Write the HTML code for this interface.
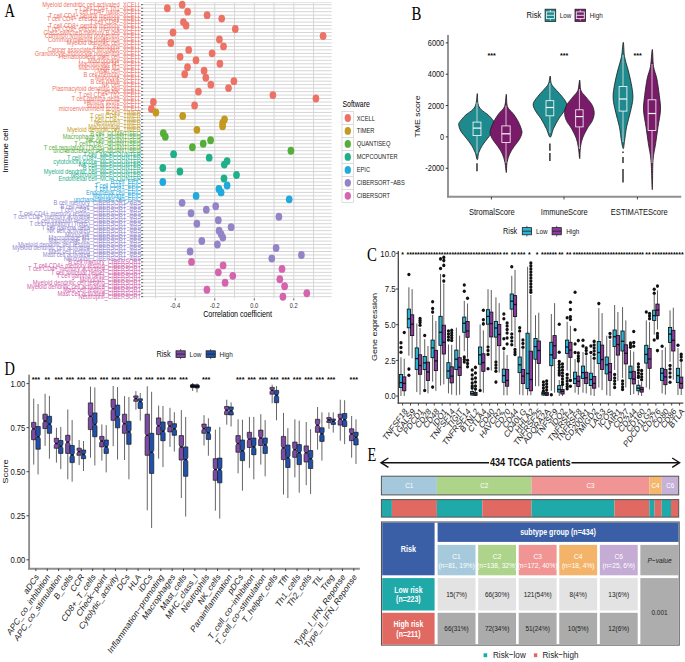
<!DOCTYPE html>
<html><head><meta charset="utf-8"><style>
html,body{margin:0;padding:0;background:#fff;width:685px;height:662px;overflow:hidden}
svg{display:block}
</style></head><body>
<svg width="685" height="662" viewBox="0 0 685 662">
<rect width="685" height="662" fill="#fff"/>
<text transform="translate(4.60,16.80) scale(0.8,1)" font-family="'Liberation Serif', serif" font-size="18" fill="#000" text-anchor="start" font-weight="normal" font-style="normal" >A</text>
<rect x="143.2" y="2.3" width="188.5" height="296.09999999999997" fill="#fff"/>
<line x1="155.50" y1="2.3" x2="155.50" y2="298.4" stroke="#d6d6d6" stroke-width="1"/>
<line x1="175.26" y1="2.3" x2="175.26" y2="298.4" stroke="#d6d6d6" stroke-width="1"/>
<line x1="195.02" y1="2.3" x2="195.02" y2="298.4" stroke="#d6d6d6" stroke-width="1"/>
<line x1="214.78" y1="2.3" x2="214.78" y2="298.4" stroke="#d6d6d6" stroke-width="1"/>
<line x1="234.54" y1="2.3" x2="234.54" y2="298.4" stroke="#d6d6d6" stroke-width="1"/>
<line x1="254.30" y1="2.3" x2="254.30" y2="298.4" stroke="#d6d6d6" stroke-width="1"/>
<line x1="274.06" y1="2.3" x2="274.06" y2="298.4" stroke="#d6d6d6" stroke-width="1"/>
<line x1="293.82" y1="2.3" x2="293.82" y2="298.4" stroke="#d6d6d6" stroke-width="1"/>
<line x1="313.58" y1="2.3" x2="313.58" y2="298.4" stroke="#d6d6d6" stroke-width="1"/>
<line x1="143.2" y1="2.5999999999999996" x2="331.7" y2="2.5999999999999996" stroke="#e4e4e4" stroke-width="1"/>
<line x1="143.2" y1="4.70" x2="331.7" y2="4.70" stroke="#d6d6d6" stroke-width="1"/>
<line x1="143.2" y1="8.18" x2="331.7" y2="8.18" stroke="#d6d6d6" stroke-width="1"/>
<line x1="143.2" y1="11.65" x2="331.7" y2="11.65" stroke="#d6d6d6" stroke-width="1"/>
<line x1="143.2" y1="15.13" x2="331.7" y2="15.13" stroke="#d6d6d6" stroke-width="1"/>
<line x1="143.2" y1="18.60" x2="331.7" y2="18.60" stroke="#d6d6d6" stroke-width="1"/>
<line x1="143.2" y1="22.08" x2="331.7" y2="22.08" stroke="#d6d6d6" stroke-width="1"/>
<line x1="143.2" y1="25.56" x2="331.7" y2="25.56" stroke="#d6d6d6" stroke-width="1"/>
<line x1="143.2" y1="29.03" x2="331.7" y2="29.03" stroke="#d6d6d6" stroke-width="1"/>
<line x1="143.2" y1="32.51" x2="331.7" y2="32.51" stroke="#d6d6d6" stroke-width="1"/>
<line x1="143.2" y1="35.98" x2="331.7" y2="35.98" stroke="#d6d6d6" stroke-width="1"/>
<line x1="143.2" y1="39.46" x2="331.7" y2="39.46" stroke="#d6d6d6" stroke-width="1"/>
<line x1="143.2" y1="42.94" x2="331.7" y2="42.94" stroke="#d6d6d6" stroke-width="1"/>
<line x1="143.2" y1="46.41" x2="331.7" y2="46.41" stroke="#d6d6d6" stroke-width="1"/>
<line x1="143.2" y1="49.89" x2="331.7" y2="49.89" stroke="#d6d6d6" stroke-width="1"/>
<line x1="143.2" y1="53.36" x2="331.7" y2="53.36" stroke="#d6d6d6" stroke-width="1"/>
<line x1="143.2" y1="56.84" x2="331.7" y2="56.84" stroke="#d6d6d6" stroke-width="1"/>
<line x1="143.2" y1="60.32" x2="331.7" y2="60.32" stroke="#d6d6d6" stroke-width="1"/>
<line x1="143.2" y1="63.79" x2="331.7" y2="63.79" stroke="#d6d6d6" stroke-width="1"/>
<line x1="143.2" y1="67.27" x2="331.7" y2="67.27" stroke="#d6d6d6" stroke-width="1"/>
<line x1="143.2" y1="70.74" x2="331.7" y2="70.74" stroke="#d6d6d6" stroke-width="1"/>
<line x1="143.2" y1="74.22" x2="331.7" y2="74.22" stroke="#d6d6d6" stroke-width="1"/>
<line x1="143.2" y1="77.70" x2="331.7" y2="77.70" stroke="#d6d6d6" stroke-width="1"/>
<line x1="143.2" y1="81.17" x2="331.7" y2="81.17" stroke="#d6d6d6" stroke-width="1"/>
<line x1="143.2" y1="84.65" x2="331.7" y2="84.65" stroke="#d6d6d6" stroke-width="1"/>
<line x1="143.2" y1="88.12" x2="331.7" y2="88.12" stroke="#d6d6d6" stroke-width="1"/>
<line x1="143.2" y1="91.60" x2="331.7" y2="91.60" stroke="#d6d6d6" stroke-width="1"/>
<line x1="143.2" y1="95.08" x2="331.7" y2="95.08" stroke="#d6d6d6" stroke-width="1"/>
<line x1="143.2" y1="98.55" x2="331.7" y2="98.55" stroke="#d6d6d6" stroke-width="1"/>
<line x1="143.2" y1="102.03" x2="331.7" y2="102.03" stroke="#d6d6d6" stroke-width="1"/>
<line x1="143.2" y1="105.50" x2="331.7" y2="105.50" stroke="#d6d6d6" stroke-width="1"/>
<line x1="143.2" y1="108.98" x2="331.7" y2="108.98" stroke="#d6d6d6" stroke-width="1"/>
<line x1="143.2" y1="112.46" x2="331.7" y2="112.46" stroke="#d6d6d6" stroke-width="1"/>
<line x1="143.2" y1="115.93" x2="331.7" y2="115.93" stroke="#d6d6d6" stroke-width="1"/>
<line x1="143.2" y1="119.41" x2="331.7" y2="119.41" stroke="#d6d6d6" stroke-width="1"/>
<line x1="143.2" y1="122.88" x2="331.7" y2="122.88" stroke="#d6d6d6" stroke-width="1"/>
<line x1="143.2" y1="126.36" x2="331.7" y2="126.36" stroke="#d6d6d6" stroke-width="1"/>
<line x1="143.2" y1="129.84" x2="331.7" y2="129.84" stroke="#d6d6d6" stroke-width="1"/>
<line x1="143.2" y1="133.31" x2="331.7" y2="133.31" stroke="#d6d6d6" stroke-width="1"/>
<line x1="143.2" y1="136.79" x2="331.7" y2="136.79" stroke="#d6d6d6" stroke-width="1"/>
<line x1="143.2" y1="140.26" x2="331.7" y2="140.26" stroke="#d6d6d6" stroke-width="1"/>
<line x1="143.2" y1="143.74" x2="331.7" y2="143.74" stroke="#d6d6d6" stroke-width="1"/>
<line x1="143.2" y1="147.22" x2="331.7" y2="147.22" stroke="#d6d6d6" stroke-width="1"/>
<line x1="143.2" y1="150.69" x2="331.7" y2="150.69" stroke="#d6d6d6" stroke-width="1"/>
<line x1="143.2" y1="154.17" x2="331.7" y2="154.17" stroke="#d6d6d6" stroke-width="1"/>
<line x1="143.2" y1="157.64" x2="331.7" y2="157.64" stroke="#d6d6d6" stroke-width="1"/>
<line x1="143.2" y1="161.12" x2="331.7" y2="161.12" stroke="#d6d6d6" stroke-width="1"/>
<line x1="143.2" y1="164.60" x2="331.7" y2="164.60" stroke="#d6d6d6" stroke-width="1"/>
<line x1="143.2" y1="168.07" x2="331.7" y2="168.07" stroke="#d6d6d6" stroke-width="1"/>
<line x1="143.2" y1="171.55" x2="331.7" y2="171.55" stroke="#d6d6d6" stroke-width="1"/>
<line x1="143.2" y1="175.02" x2="331.7" y2="175.02" stroke="#d6d6d6" stroke-width="1"/>
<line x1="143.2" y1="178.50" x2="331.7" y2="178.50" stroke="#d6d6d6" stroke-width="1"/>
<line x1="143.2" y1="181.98" x2="331.7" y2="181.98" stroke="#d6d6d6" stroke-width="1"/>
<line x1="143.2" y1="185.45" x2="331.7" y2="185.45" stroke="#d6d6d6" stroke-width="1"/>
<line x1="143.2" y1="188.93" x2="331.7" y2="188.93" stroke="#d6d6d6" stroke-width="1"/>
<line x1="143.2" y1="192.40" x2="331.7" y2="192.40" stroke="#d6d6d6" stroke-width="1"/>
<line x1="143.2" y1="195.88" x2="331.7" y2="195.88" stroke="#d6d6d6" stroke-width="1"/>
<line x1="143.2" y1="199.36" x2="331.7" y2="199.36" stroke="#d6d6d6" stroke-width="1"/>
<line x1="143.2" y1="202.83" x2="331.7" y2="202.83" stroke="#d6d6d6" stroke-width="1"/>
<line x1="143.2" y1="206.31" x2="331.7" y2="206.31" stroke="#d6d6d6" stroke-width="1"/>
<line x1="143.2" y1="209.78" x2="331.7" y2="209.78" stroke="#d6d6d6" stroke-width="1"/>
<line x1="143.2" y1="213.26" x2="331.7" y2="213.26" stroke="#d6d6d6" stroke-width="1"/>
<line x1="143.2" y1="216.74" x2="331.7" y2="216.74" stroke="#d6d6d6" stroke-width="1"/>
<line x1="143.2" y1="220.21" x2="331.7" y2="220.21" stroke="#d6d6d6" stroke-width="1"/>
<line x1="143.2" y1="223.69" x2="331.7" y2="223.69" stroke="#d6d6d6" stroke-width="1"/>
<line x1="143.2" y1="227.16" x2="331.7" y2="227.16" stroke="#d6d6d6" stroke-width="1"/>
<line x1="143.2" y1="230.64" x2="331.7" y2="230.64" stroke="#d6d6d6" stroke-width="1"/>
<line x1="143.2" y1="234.12" x2="331.7" y2="234.12" stroke="#d6d6d6" stroke-width="1"/>
<line x1="143.2" y1="237.59" x2="331.7" y2="237.59" stroke="#d6d6d6" stroke-width="1"/>
<line x1="143.2" y1="241.07" x2="331.7" y2="241.07" stroke="#d6d6d6" stroke-width="1"/>
<line x1="143.2" y1="244.54" x2="331.7" y2="244.54" stroke="#d6d6d6" stroke-width="1"/>
<line x1="143.2" y1="248.02" x2="331.7" y2="248.02" stroke="#d6d6d6" stroke-width="1"/>
<line x1="143.2" y1="251.50" x2="331.7" y2="251.50" stroke="#d6d6d6" stroke-width="1"/>
<line x1="143.2" y1="254.97" x2="331.7" y2="254.97" stroke="#d6d6d6" stroke-width="1"/>
<line x1="143.2" y1="258.45" x2="331.7" y2="258.45" stroke="#d6d6d6" stroke-width="1"/>
<line x1="143.2" y1="261.92" x2="331.7" y2="261.92" stroke="#d6d6d6" stroke-width="1"/>
<line x1="143.2" y1="265.40" x2="331.7" y2="265.40" stroke="#d6d6d6" stroke-width="1"/>
<line x1="143.2" y1="268.88" x2="331.7" y2="268.88" stroke="#d6d6d6" stroke-width="1"/>
<line x1="143.2" y1="272.35" x2="331.7" y2="272.35" stroke="#d6d6d6" stroke-width="1"/>
<line x1="143.2" y1="275.83" x2="331.7" y2="275.83" stroke="#d6d6d6" stroke-width="1"/>
<line x1="143.2" y1="279.30" x2="331.7" y2="279.30" stroke="#d6d6d6" stroke-width="1"/>
<line x1="143.2" y1="282.78" x2="331.7" y2="282.78" stroke="#d6d6d6" stroke-width="1"/>
<line x1="143.2" y1="286.26" x2="331.7" y2="286.26" stroke="#d6d6d6" stroke-width="1"/>
<line x1="143.2" y1="289.73" x2="331.7" y2="289.73" stroke="#d6d6d6" stroke-width="1"/>
<line x1="143.2" y1="293.21" x2="331.7" y2="293.21" stroke="#d6d6d6" stroke-width="1"/>
<line x1="143.2" y1="296.68" x2="331.7" y2="296.68" stroke="#d6d6d6" stroke-width="1"/>
<line x1="141" y1="4.70" x2="143.2" y2="4.70" stroke="#333" stroke-width="0.8"/>
<line x1="141" y1="8.18" x2="143.2" y2="8.18" stroke="#333" stroke-width="0.8"/>
<line x1="141" y1="11.65" x2="143.2" y2="11.65" stroke="#333" stroke-width="0.8"/>
<line x1="141" y1="15.13" x2="143.2" y2="15.13" stroke="#333" stroke-width="0.8"/>
<line x1="141" y1="18.60" x2="143.2" y2="18.60" stroke="#333" stroke-width="0.8"/>
<line x1="141" y1="22.08" x2="143.2" y2="22.08" stroke="#333" stroke-width="0.8"/>
<line x1="141" y1="25.56" x2="143.2" y2="25.56" stroke="#333" stroke-width="0.8"/>
<line x1="141" y1="29.03" x2="143.2" y2="29.03" stroke="#333" stroke-width="0.8"/>
<line x1="141" y1="32.51" x2="143.2" y2="32.51" stroke="#333" stroke-width="0.8"/>
<line x1="141" y1="35.98" x2="143.2" y2="35.98" stroke="#333" stroke-width="0.8"/>
<line x1="141" y1="39.46" x2="143.2" y2="39.46" stroke="#333" stroke-width="0.8"/>
<line x1="141" y1="42.94" x2="143.2" y2="42.94" stroke="#333" stroke-width="0.8"/>
<line x1="141" y1="46.41" x2="143.2" y2="46.41" stroke="#333" stroke-width="0.8"/>
<line x1="141" y1="49.89" x2="143.2" y2="49.89" stroke="#333" stroke-width="0.8"/>
<line x1="141" y1="53.36" x2="143.2" y2="53.36" stroke="#333" stroke-width="0.8"/>
<line x1="141" y1="56.84" x2="143.2" y2="56.84" stroke="#333" stroke-width="0.8"/>
<line x1="141" y1="60.32" x2="143.2" y2="60.32" stroke="#333" stroke-width="0.8"/>
<line x1="141" y1="63.79" x2="143.2" y2="63.79" stroke="#333" stroke-width="0.8"/>
<line x1="141" y1="67.27" x2="143.2" y2="67.27" stroke="#333" stroke-width="0.8"/>
<line x1="141" y1="70.74" x2="143.2" y2="70.74" stroke="#333" stroke-width="0.8"/>
<line x1="141" y1="74.22" x2="143.2" y2="74.22" stroke="#333" stroke-width="0.8"/>
<line x1="141" y1="77.70" x2="143.2" y2="77.70" stroke="#333" stroke-width="0.8"/>
<line x1="141" y1="81.17" x2="143.2" y2="81.17" stroke="#333" stroke-width="0.8"/>
<line x1="141" y1="84.65" x2="143.2" y2="84.65" stroke="#333" stroke-width="0.8"/>
<line x1="141" y1="88.12" x2="143.2" y2="88.12" stroke="#333" stroke-width="0.8"/>
<line x1="141" y1="91.60" x2="143.2" y2="91.60" stroke="#333" stroke-width="0.8"/>
<line x1="141" y1="95.08" x2="143.2" y2="95.08" stroke="#333" stroke-width="0.8"/>
<line x1="141" y1="98.55" x2="143.2" y2="98.55" stroke="#333" stroke-width="0.8"/>
<line x1="141" y1="102.03" x2="143.2" y2="102.03" stroke="#333" stroke-width="0.8"/>
<line x1="141" y1="105.50" x2="143.2" y2="105.50" stroke="#333" stroke-width="0.8"/>
<line x1="141" y1="108.98" x2="143.2" y2="108.98" stroke="#333" stroke-width="0.8"/>
<line x1="141" y1="112.46" x2="143.2" y2="112.46" stroke="#333" stroke-width="0.8"/>
<line x1="141" y1="115.93" x2="143.2" y2="115.93" stroke="#333" stroke-width="0.8"/>
<line x1="141" y1="119.41" x2="143.2" y2="119.41" stroke="#333" stroke-width="0.8"/>
<line x1="141" y1="122.88" x2="143.2" y2="122.88" stroke="#333" stroke-width="0.8"/>
<line x1="141" y1="126.36" x2="143.2" y2="126.36" stroke="#333" stroke-width="0.8"/>
<line x1="141" y1="129.84" x2="143.2" y2="129.84" stroke="#333" stroke-width="0.8"/>
<line x1="141" y1="133.31" x2="143.2" y2="133.31" stroke="#333" stroke-width="0.8"/>
<line x1="141" y1="136.79" x2="143.2" y2="136.79" stroke="#333" stroke-width="0.8"/>
<line x1="141" y1="140.26" x2="143.2" y2="140.26" stroke="#333" stroke-width="0.8"/>
<line x1="141" y1="143.74" x2="143.2" y2="143.74" stroke="#333" stroke-width="0.8"/>
<line x1="141" y1="147.22" x2="143.2" y2="147.22" stroke="#333" stroke-width="0.8"/>
<line x1="141" y1="150.69" x2="143.2" y2="150.69" stroke="#333" stroke-width="0.8"/>
<line x1="141" y1="154.17" x2="143.2" y2="154.17" stroke="#333" stroke-width="0.8"/>
<line x1="141" y1="157.64" x2="143.2" y2="157.64" stroke="#333" stroke-width="0.8"/>
<line x1="141" y1="161.12" x2="143.2" y2="161.12" stroke="#333" stroke-width="0.8"/>
<line x1="141" y1="164.60" x2="143.2" y2="164.60" stroke="#333" stroke-width="0.8"/>
<line x1="141" y1="168.07" x2="143.2" y2="168.07" stroke="#333" stroke-width="0.8"/>
<line x1="141" y1="171.55" x2="143.2" y2="171.55" stroke="#333" stroke-width="0.8"/>
<line x1="141" y1="175.02" x2="143.2" y2="175.02" stroke="#333" stroke-width="0.8"/>
<line x1="141" y1="178.50" x2="143.2" y2="178.50" stroke="#333" stroke-width="0.8"/>
<line x1="141" y1="181.98" x2="143.2" y2="181.98" stroke="#333" stroke-width="0.8"/>
<line x1="141" y1="185.45" x2="143.2" y2="185.45" stroke="#333" stroke-width="0.8"/>
<line x1="141" y1="188.93" x2="143.2" y2="188.93" stroke="#333" stroke-width="0.8"/>
<line x1="141" y1="192.40" x2="143.2" y2="192.40" stroke="#333" stroke-width="0.8"/>
<line x1="141" y1="195.88" x2="143.2" y2="195.88" stroke="#333" stroke-width="0.8"/>
<line x1="141" y1="199.36" x2="143.2" y2="199.36" stroke="#333" stroke-width="0.8"/>
<line x1="141" y1="202.83" x2="143.2" y2="202.83" stroke="#333" stroke-width="0.8"/>
<line x1="141" y1="206.31" x2="143.2" y2="206.31" stroke="#333" stroke-width="0.8"/>
<line x1="141" y1="209.78" x2="143.2" y2="209.78" stroke="#333" stroke-width="0.8"/>
<line x1="141" y1="213.26" x2="143.2" y2="213.26" stroke="#333" stroke-width="0.8"/>
<line x1="141" y1="216.74" x2="143.2" y2="216.74" stroke="#333" stroke-width="0.8"/>
<line x1="141" y1="220.21" x2="143.2" y2="220.21" stroke="#333" stroke-width="0.8"/>
<line x1="141" y1="223.69" x2="143.2" y2="223.69" stroke="#333" stroke-width="0.8"/>
<line x1="141" y1="227.16" x2="143.2" y2="227.16" stroke="#333" stroke-width="0.8"/>
<line x1="141" y1="230.64" x2="143.2" y2="230.64" stroke="#333" stroke-width="0.8"/>
<line x1="141" y1="234.12" x2="143.2" y2="234.12" stroke="#333" stroke-width="0.8"/>
<line x1="141" y1="237.59" x2="143.2" y2="237.59" stroke="#333" stroke-width="0.8"/>
<line x1="141" y1="241.07" x2="143.2" y2="241.07" stroke="#333" stroke-width="0.8"/>
<line x1="141" y1="244.54" x2="143.2" y2="244.54" stroke="#333" stroke-width="0.8"/>
<line x1="141" y1="248.02" x2="143.2" y2="248.02" stroke="#333" stroke-width="0.8"/>
<line x1="141" y1="251.50" x2="143.2" y2="251.50" stroke="#333" stroke-width="0.8"/>
<line x1="141" y1="254.97" x2="143.2" y2="254.97" stroke="#333" stroke-width="0.8"/>
<line x1="141" y1="258.45" x2="143.2" y2="258.45" stroke="#333" stroke-width="0.8"/>
<line x1="141" y1="261.92" x2="143.2" y2="261.92" stroke="#333" stroke-width="0.8"/>
<line x1="141" y1="265.40" x2="143.2" y2="265.40" stroke="#333" stroke-width="0.8"/>
<line x1="141" y1="268.88" x2="143.2" y2="268.88" stroke="#333" stroke-width="0.8"/>
<line x1="141" y1="272.35" x2="143.2" y2="272.35" stroke="#333" stroke-width="0.8"/>
<line x1="141" y1="275.83" x2="143.2" y2="275.83" stroke="#333" stroke-width="0.8"/>
<line x1="141" y1="279.30" x2="143.2" y2="279.30" stroke="#333" stroke-width="0.8"/>
<line x1="141" y1="282.78" x2="143.2" y2="282.78" stroke="#333" stroke-width="0.8"/>
<line x1="141" y1="286.26" x2="143.2" y2="286.26" stroke="#333" stroke-width="0.8"/>
<line x1="141" y1="289.73" x2="143.2" y2="289.73" stroke="#333" stroke-width="0.8"/>
<line x1="141" y1="293.21" x2="143.2" y2="293.21" stroke="#333" stroke-width="0.8"/>
<line x1="141" y1="296.68" x2="143.2" y2="296.68" stroke="#333" stroke-width="0.8"/>
<text transform="translate(141.00,7.10) scale(0.83,1)" font-family="'Liberation Sans', sans-serif" font-size="6.9" fill="#EE7468" text-anchor="end" font-weight="normal" font-style="normal" >Myeloid dendritic cell activated_XCELL</text>
<text transform="translate(141.00,10.58) scale(0.83,1)" font-family="'Liberation Sans', sans-serif" font-size="6.9" fill="#EE7468" text-anchor="end" font-weight="normal" font-style="normal" >T cell CD4+ Th1_XCELL</text>
<text transform="translate(141.00,14.05) scale(0.83,1)" font-family="'Liberation Sans', sans-serif" font-size="6.9" fill="#EE7468" text-anchor="end" font-weight="normal" font-style="normal" >T cell CD4+ naive_XCELL</text>
<text transform="translate(141.00,17.53) scale(0.83,1)" font-family="'Liberation Sans', sans-serif" font-size="6.9" fill="#EE7468" text-anchor="end" font-weight="normal" font-style="normal" >T cell CD4+ central memory_XCELL</text>
<text transform="translate(141.00,21.00) scale(0.83,1)" font-family="'Liberation Sans', sans-serif" font-size="6.9" fill="#EE7468" text-anchor="end" font-weight="normal" font-style="normal" >T cell CD4+ effector memory_XCELL</text>
<text transform="translate(141.00,24.48) scale(0.83,1)" font-family="'Liberation Sans', sans-serif" font-size="6.9" fill="#EE7468" text-anchor="end" font-weight="normal" font-style="normal" >T cell CD8+_XCELL</text>
<text transform="translate(141.00,27.96) scale(0.83,1)" font-family="'Liberation Sans', sans-serif" font-size="6.9" fill="#EE7468" text-anchor="end" font-weight="normal" font-style="normal" >T cell CD8+ central memory_XCELL</text>
<text transform="translate(141.00,31.43) scale(0.83,1)" font-family="'Liberation Sans', sans-serif" font-size="6.9" fill="#EE7468" text-anchor="end" font-weight="normal" font-style="normal" >T cell CD8+ effector memory_XCELL</text>
<text transform="translate(141.00,34.91) scale(0.83,1)" font-family="'Liberation Sans', sans-serif" font-size="6.9" fill="#EE7468" text-anchor="end" font-weight="normal" font-style="normal" >Class-switched memory B cell_XCELL</text>
<text transform="translate(141.00,38.38) scale(0.83,1)" font-family="'Liberation Sans', sans-serif" font-size="6.9" fill="#EE7468" text-anchor="end" font-weight="normal" font-style="normal" >Common lymphoid progenitor_XCELL</text>
<text transform="translate(141.00,41.86) scale(0.83,1)" font-family="'Liberation Sans', sans-serif" font-size="6.9" fill="#EE7468" text-anchor="end" font-weight="normal" font-style="normal" >Common myeloid progenitor_XCELL</text>
<text transform="translate(141.00,45.34) scale(0.83,1)" font-family="'Liberation Sans', sans-serif" font-size="6.9" fill="#EE7468" text-anchor="end" font-weight="normal" font-style="normal" >Myeloid dendritic cell_XCELL</text>
<text transform="translate(141.00,48.81) scale(0.83,1)" font-family="'Liberation Sans', sans-serif" font-size="6.9" fill="#EE7468" text-anchor="end" font-weight="normal" font-style="normal" >Eosinophil_XCELL</text>
<text transform="translate(141.00,52.29) scale(0.83,1)" font-family="'Liberation Sans', sans-serif" font-size="6.9" fill="#EE7468" text-anchor="end" font-weight="normal" font-style="normal" >Cancer associated fibroblast_XCELL</text>
<text transform="translate(141.00,55.76) scale(0.83,1)" font-family="'Liberation Sans', sans-serif" font-size="6.9" fill="#EE7468" text-anchor="end" font-weight="normal" font-style="normal" >Granulocyte-monocyte progenitor_XCELL</text>
<text transform="translate(141.00,59.24) scale(0.83,1)" font-family="'Liberation Sans', sans-serif" font-size="6.9" fill="#EE7468" text-anchor="end" font-weight="normal" font-style="normal" >Hematopoietic stem cell_XCELL</text>
<text transform="translate(141.00,62.72) scale(0.83,1)" font-family="'Liberation Sans', sans-serif" font-size="6.9" fill="#EE7468" text-anchor="end" font-weight="normal" font-style="normal" >Macrophage_XCELL</text>
<text transform="translate(141.00,66.19) scale(0.83,1)" font-family="'Liberation Sans', sans-serif" font-size="6.9" fill="#EE7468" text-anchor="end" font-weight="normal" font-style="normal" >Macrophage M1_XCELL</text>
<text transform="translate(141.00,69.67) scale(0.83,1)" font-family="'Liberation Sans', sans-serif" font-size="6.9" fill="#EE7468" text-anchor="end" font-weight="normal" font-style="normal" >Macrophage M2_XCELL</text>
<text transform="translate(141.00,73.14) scale(0.83,1)" font-family="'Liberation Sans', sans-serif" font-size="6.9" fill="#EE7468" text-anchor="end" font-weight="normal" font-style="normal" >Mast cell_XCELL</text>
<text transform="translate(141.00,76.62) scale(0.83,1)" font-family="'Liberation Sans', sans-serif" font-size="6.9" fill="#EE7468" text-anchor="end" font-weight="normal" font-style="normal" >B cell memory_XCELL</text>
<text transform="translate(141.00,80.10) scale(0.83,1)" font-family="'Liberation Sans', sans-serif" font-size="6.9" fill="#EE7468" text-anchor="end" font-weight="normal" font-style="normal" >Monocyte_XCELL</text>
<text transform="translate(141.00,83.57) scale(0.83,1)" font-family="'Liberation Sans', sans-serif" font-size="6.9" fill="#EE7468" text-anchor="end" font-weight="normal" font-style="normal" >B cell naive_XCELL</text>
<text transform="translate(141.00,87.05) scale(0.83,1)" font-family="'Liberation Sans', sans-serif" font-size="6.9" fill="#EE7468" text-anchor="end" font-weight="normal" font-style="normal" >NK cell_XCELL</text>
<text transform="translate(141.00,90.52) scale(0.83,1)" font-family="'Liberation Sans', sans-serif" font-size="6.9" fill="#EE7468" text-anchor="end" font-weight="normal" font-style="normal" >Plasmacytoid dendritic cell_XCELL</text>
<text transform="translate(141.00,94.00) scale(0.83,1)" font-family="'Liberation Sans', sans-serif" font-size="6.9" fill="#EE7468" text-anchor="end" font-weight="normal" font-style="normal" >T cell NK_XCELL</text>
<text transform="translate(141.00,97.48) scale(0.83,1)" font-family="'Liberation Sans', sans-serif" font-size="6.9" fill="#EE7468" text-anchor="end" font-weight="normal" font-style="normal" >T cell CD4+ Th2_XCELL</text>
<text transform="translate(141.00,100.95) scale(0.83,1)" font-family="'Liberation Sans', sans-serif" font-size="6.9" fill="#EE7468" text-anchor="end" font-weight="normal" font-style="normal" >T cell gamma delta_XCELL</text>
<text transform="translate(141.00,104.43) scale(0.83,1)" font-family="'Liberation Sans', sans-serif" font-size="6.9" fill="#EE7468" text-anchor="end" font-weight="normal" font-style="normal" >immune score_XCELL</text>
<text transform="translate(141.00,107.90) scale(0.83,1)" font-family="'Liberation Sans', sans-serif" font-size="6.9" fill="#EE7468" text-anchor="end" font-weight="normal" font-style="normal" >stroma score_XCELL</text>
<text transform="translate(141.00,111.38) scale(0.83,1)" font-family="'Liberation Sans', sans-serif" font-size="6.9" fill="#EE7468" text-anchor="end" font-weight="normal" font-style="normal" >microenvironment score_XCELL</text>
<text transform="translate(141.00,114.86) scale(0.83,1)" font-family="'Liberation Sans', sans-serif" font-size="6.9" fill="#C49C28" text-anchor="end" font-weight="normal" font-style="normal" >B cell_TIMER</text>
<text transform="translate(141.00,118.33) scale(0.83,1)" font-family="'Liberation Sans', sans-serif" font-size="6.9" fill="#C49C28" text-anchor="end" font-weight="normal" font-style="normal" >T cell CD4+_TIMER</text>
<text transform="translate(141.00,121.81) scale(0.83,1)" font-family="'Liberation Sans', sans-serif" font-size="6.9" fill="#C49C28" text-anchor="end" font-weight="normal" font-style="normal" >T cell CD8+_TIMER</text>
<text transform="translate(141.00,125.28) scale(0.83,1)" font-family="'Liberation Sans', sans-serif" font-size="6.9" fill="#C49C28" text-anchor="end" font-weight="normal" font-style="normal" >Neutrophil_TIMER</text>
<text transform="translate(141.00,128.76) scale(0.83,1)" font-family="'Liberation Sans', sans-serif" font-size="6.9" fill="#C49C28" text-anchor="end" font-weight="normal" font-style="normal" >Macrophage_TIMER</text>
<text transform="translate(141.00,132.24) scale(0.83,1)" font-family="'Liberation Sans', sans-serif" font-size="6.9" fill="#C49C28" text-anchor="end" font-weight="normal" font-style="normal" >Myeloid dendritic cell_TIMER</text>
<text transform="translate(141.00,135.71) scale(0.83,1)" font-family="'Liberation Sans', sans-serif" font-size="6.9" fill="#5AAF42" text-anchor="end" font-weight="normal" font-style="normal" >B cell_QUANTISEQ</text>
<text transform="translate(141.00,139.19) scale(0.83,1)" font-family="'Liberation Sans', sans-serif" font-size="6.9" fill="#5AAF42" text-anchor="end" font-weight="normal" font-style="normal" >Macrophage M2_QUANTISEQ</text>
<text transform="translate(141.00,142.66) scale(0.83,1)" font-family="'Liberation Sans', sans-serif" font-size="6.9" fill="#5AAF42" text-anchor="end" font-weight="normal" font-style="normal" >NK cell_QUANTISEQ</text>
<text transform="translate(141.00,146.14) scale(0.83,1)" font-family="'Liberation Sans', sans-serif" font-size="6.9" fill="#5AAF42" text-anchor="end" font-weight="normal" font-style="normal" >T cell CD8+_QUANTISEQ</text>
<text transform="translate(141.00,149.62) scale(0.83,1)" font-family="'Liberation Sans', sans-serif" font-size="6.9" fill="#5AAF42" text-anchor="end" font-weight="normal" font-style="normal" >T cell regulatory (Tregs)_QUANTISEQ</text>
<text transform="translate(141.00,153.09) scale(0.83,1)" font-family="'Liberation Sans', sans-serif" font-size="6.9" fill="#5AAF42" text-anchor="end" font-weight="normal" font-style="normal" >uncharacterized cell_QUANTISEQ</text>
<text transform="translate(141.00,156.57) scale(0.83,1)" font-family="'Liberation Sans', sans-serif" font-size="6.9" fill="#26B08E" text-anchor="end" font-weight="normal" font-style="normal" >T cell_MCPCOUNTER</text>
<text transform="translate(141.00,160.04) scale(0.83,1)" font-family="'Liberation Sans', sans-serif" font-size="6.9" fill="#26B08E" text-anchor="end" font-weight="normal" font-style="normal" >T cell CD8+_MCPCOUNTER</text>
<text transform="translate(141.00,163.52) scale(0.83,1)" font-family="'Liberation Sans', sans-serif" font-size="6.9" fill="#26B08E" text-anchor="end" font-weight="normal" font-style="normal" >cytotoxicity score_MCPCOUNTER</text>
<text transform="translate(141.00,167.00) scale(0.83,1)" font-family="'Liberation Sans', sans-serif" font-size="6.9" fill="#26B08E" text-anchor="end" font-weight="normal" font-style="normal" >NK cell_MCPCOUNTER</text>
<text transform="translate(141.00,170.47) scale(0.83,1)" font-family="'Liberation Sans', sans-serif" font-size="6.9" fill="#26B08E" text-anchor="end" font-weight="normal" font-style="normal" >B cell_MCPCOUNTER</text>
<text transform="translate(141.00,173.95) scale(0.83,1)" font-family="'Liberation Sans', sans-serif" font-size="6.9" fill="#26B08E" text-anchor="end" font-weight="normal" font-style="normal" >Myeloid dendritic cell_MCPCOUNTER</text>
<text transform="translate(141.00,177.42) scale(0.83,1)" font-family="'Liberation Sans', sans-serif" font-size="6.9" fill="#26B08E" text-anchor="end" font-weight="normal" font-style="normal" >Neutrophil_MCPCOUNTER</text>
<text transform="translate(141.00,180.90) scale(0.83,1)" font-family="'Liberation Sans', sans-serif" font-size="6.9" fill="#26B08E" text-anchor="end" font-weight="normal" font-style="normal" >Endothelial cell_MCPCOUNTER</text>
<text transform="translate(141.00,184.38) scale(0.83,1)" font-family="'Liberation Sans', sans-serif" font-size="6.9" fill="#26AADC" text-anchor="end" font-weight="normal" font-style="normal" >B cell_EPIC</text>
<text transform="translate(141.00,187.85) scale(0.83,1)" font-family="'Liberation Sans', sans-serif" font-size="6.9" fill="#26AADC" text-anchor="end" font-weight="normal" font-style="normal" >T cell CD4+_EPIC</text>
<text transform="translate(141.00,191.33) scale(0.83,1)" font-family="'Liberation Sans', sans-serif" font-size="6.9" fill="#26AADC" text-anchor="end" font-weight="normal" font-style="normal" >T cell CD8+_EPIC</text>
<text transform="translate(141.00,194.80) scale(0.83,1)" font-family="'Liberation Sans', sans-serif" font-size="6.9" fill="#26AADC" text-anchor="end" font-weight="normal" font-style="normal" >Endothelial cell_EPIC</text>
<text transform="translate(141.00,198.28) scale(0.83,1)" font-family="'Liberation Sans', sans-serif" font-size="6.9" fill="#26AADC" text-anchor="end" font-weight="normal" font-style="normal" >Macrophage_EPIC</text>
<text transform="translate(141.00,201.76) scale(0.83,1)" font-family="'Liberation Sans', sans-serif" font-size="6.9" fill="#26AADC" text-anchor="end" font-weight="normal" font-style="normal" >uncharacterized cell_EPIC</text>
<text transform="translate(141.00,205.23) scale(0.83,1)" font-family="'Liberation Sans', sans-serif" font-size="6.9" fill="#968AD0" text-anchor="end" font-weight="normal" font-style="normal" >B cell memory_CIBERSORT−ABS</text>
<text transform="translate(141.00,208.71) scale(0.83,1)" font-family="'Liberation Sans', sans-serif" font-size="6.9" fill="#968AD0" text-anchor="end" font-weight="normal" font-style="normal" >B cell naive_CIBERSORT−ABS</text>
<text transform="translate(141.00,212.18) scale(0.83,1)" font-family="'Liberation Sans', sans-serif" font-size="6.9" fill="#968AD0" text-anchor="end" font-weight="normal" font-style="normal" >T cell CD8+_CIBERSORT−ABS</text>
<text transform="translate(141.00,215.66) scale(0.83,1)" font-family="'Liberation Sans', sans-serif" font-size="6.9" fill="#968AD0" text-anchor="end" font-weight="normal" font-style="normal" >T cell CD4+ memory resting_CIBERSORT−ABS</text>
<text transform="translate(141.00,219.14) scale(0.83,1)" font-family="'Liberation Sans', sans-serif" font-size="6.9" fill="#968AD0" text-anchor="end" font-weight="normal" font-style="normal" >T cell CD4+ memory activated_CIBERSORT−ABS</text>
<text transform="translate(141.00,222.61) scale(0.83,1)" font-family="'Liberation Sans', sans-serif" font-size="6.9" fill="#968AD0" text-anchor="end" font-weight="normal" font-style="normal" >T cell follicular helper_CIBERSORT−ABS</text>
<text transform="translate(141.00,226.09) scale(0.83,1)" font-family="'Liberation Sans', sans-serif" font-size="6.9" fill="#968AD0" text-anchor="end" font-weight="normal" font-style="normal" >T cell regulatory (Tregs)_CIBERSORT−ABS</text>
<text transform="translate(141.00,229.56) scale(0.83,1)" font-family="'Liberation Sans', sans-serif" font-size="6.9" fill="#968AD0" text-anchor="end" font-weight="normal" font-style="normal" >T cell gamma delta_CIBERSORT−ABS</text>
<text transform="translate(141.00,233.04) scale(0.83,1)" font-family="'Liberation Sans', sans-serif" font-size="6.9" fill="#968AD0" text-anchor="end" font-weight="normal" font-style="normal" >NK cell activated_CIBERSORT−ABS</text>
<text transform="translate(141.00,236.52) scale(0.83,1)" font-family="'Liberation Sans', sans-serif" font-size="6.9" fill="#968AD0" text-anchor="end" font-weight="normal" font-style="normal" >Monocyte_CIBERSORT−ABS</text>
<text transform="translate(141.00,239.99) scale(0.83,1)" font-family="'Liberation Sans', sans-serif" font-size="6.9" fill="#968AD0" text-anchor="end" font-weight="normal" font-style="normal" >Macrophage M1_CIBERSORT−ABS</text>
<text transform="translate(141.00,243.47) scale(0.83,1)" font-family="'Liberation Sans', sans-serif" font-size="6.9" fill="#968AD0" text-anchor="end" font-weight="normal" font-style="normal" >Macrophage M2_CIBERSORT−ABS</text>
<text transform="translate(141.00,246.94) scale(0.83,1)" font-family="'Liberation Sans', sans-serif" font-size="6.9" fill="#968AD0" text-anchor="end" font-weight="normal" font-style="normal" >Myeloid dendritic cell resting_CIBERSORT−ABS</text>
<text transform="translate(141.00,250.42) scale(0.83,1)" font-family="'Liberation Sans', sans-serif" font-size="6.9" fill="#968AD0" text-anchor="end" font-weight="normal" font-style="normal" >Myeloid dendritic cell activated_CIBERSORT−ABS</text>
<text transform="translate(141.00,253.90) scale(0.83,1)" font-family="'Liberation Sans', sans-serif" font-size="6.9" fill="#968AD0" text-anchor="end" font-weight="normal" font-style="normal" >Mast cell resting_CIBERSORT−ABS</text>
<text transform="translate(141.00,257.37) scale(0.83,1)" font-family="'Liberation Sans', sans-serif" font-size="6.9" fill="#968AD0" text-anchor="end" font-weight="normal" font-style="normal" >Mast cell activated_CIBERSORT−ABS</text>
<text transform="translate(141.00,260.85) scale(0.83,1)" font-family="'Liberation Sans', sans-serif" font-size="6.9" fill="#968AD0" text-anchor="end" font-weight="normal" font-style="normal" >Neutrophil_CIBERSORT−ABS</text>
<text transform="translate(141.00,264.32) scale(0.83,1)" font-family="'Liberation Sans', sans-serif" font-size="6.9" fill="#D262AC" text-anchor="end" font-weight="normal" font-style="normal" >B cell memory_CIBERSORT</text>
<text transform="translate(141.00,267.80) scale(0.83,1)" font-family="'Liberation Sans', sans-serif" font-size="6.9" fill="#D262AC" text-anchor="end" font-weight="normal" font-style="normal" >T cell CD4+ memory resting_CIBERSORT</text>
<text transform="translate(141.00,271.28) scale(0.83,1)" font-family="'Liberation Sans', sans-serif" font-size="6.9" fill="#D262AC" text-anchor="end" font-weight="normal" font-style="normal" >T cell CD4+ memory activated_CIBERSORT</text>
<text transform="translate(141.00,274.75) scale(0.83,1)" font-family="'Liberation Sans', sans-serif" font-size="6.9" fill="#D262AC" text-anchor="end" font-weight="normal" font-style="normal" >T cell follicular helper_CIBERSORT</text>
<text transform="translate(141.00,278.23) scale(0.83,1)" font-family="'Liberation Sans', sans-serif" font-size="6.9" fill="#D262AC" text-anchor="end" font-weight="normal" font-style="normal" >T cell gamma delta_CIBERSORT</text>
<text transform="translate(141.00,281.70) scale(0.83,1)" font-family="'Liberation Sans', sans-serif" font-size="6.9" fill="#D262AC" text-anchor="end" font-weight="normal" font-style="normal" >Monocyte_CIBERSORT</text>
<text transform="translate(141.00,285.18) scale(0.83,1)" font-family="'Liberation Sans', sans-serif" font-size="6.9" fill="#D262AC" text-anchor="end" font-weight="normal" font-style="normal" >Myeloid dendritic cell resting_CIBERSORT</text>
<text transform="translate(141.00,288.66) scale(0.83,1)" font-family="'Liberation Sans', sans-serif" font-size="6.9" fill="#D262AC" text-anchor="end" font-weight="normal" font-style="normal" >Myeloid dendritic cell activated_CIBERSORT</text>
<text transform="translate(141.00,292.13) scale(0.83,1)" font-family="'Liberation Sans', sans-serif" font-size="6.9" fill="#D262AC" text-anchor="end" font-weight="normal" font-style="normal" >Mast cell resting_CIBERSORT</text>
<text transform="translate(141.00,295.61) scale(0.83,1)" font-family="'Liberation Sans', sans-serif" font-size="6.9" fill="#D262AC" text-anchor="end" font-weight="normal" font-style="normal" >Mast cell activated_CIBERSORT</text>
<text transform="translate(141.00,299.08) scale(0.83,1)" font-family="'Liberation Sans', sans-serif" font-size="6.9" fill="#D262AC" text-anchor="end" font-weight="normal" font-style="normal" >Neutrophil_CIBERSORT</text>
<ellipse cx="182.2" cy="4.70" rx="3.35" ry="3.95" fill="#ED7266"/>
<ellipse cx="167.3" cy="8.18" rx="3.35" ry="3.95" fill="#ED7266"/>
<ellipse cx="187.6" cy="11.65" rx="3.35" ry="3.95" fill="#ED7266"/>
<ellipse cx="207.1" cy="15.13" rx="3.35" ry="3.95" fill="#ED7266"/>
<ellipse cx="221.7" cy="18.60" rx="3.35" ry="3.95" fill="#ED7266"/>
<ellipse cx="183.4" cy="22.08" rx="3.35" ry="3.95" fill="#ED7266"/>
<ellipse cx="186.1" cy="25.56" rx="3.35" ry="3.95" fill="#ED7266"/>
<ellipse cx="235.3" cy="29.03" rx="3.35" ry="3.95" fill="#ED7266"/>
<ellipse cx="173.0" cy="32.51" rx="3.35" ry="3.95" fill="#ED7266"/>
<ellipse cx="323.1" cy="35.98" rx="3.35" ry="3.95" fill="#ED7266"/>
<ellipse cx="219.4" cy="39.46" rx="3.35" ry="3.95" fill="#ED7266"/>
<ellipse cx="170.8" cy="42.94" rx="3.35" ry="3.95" fill="#ED7266"/>
<ellipse cx="223.5" cy="46.41" rx="3.35" ry="3.95" fill="#ED7266"/>
<ellipse cx="188.7" cy="49.89" rx="3.35" ry="3.95" fill="#ED7266"/>
<ellipse cx="212.1" cy="53.36" rx="3.35" ry="3.95" fill="#ED7266"/>
<ellipse cx="180.1" cy="56.84" rx="3.35" ry="3.95" fill="#ED7266"/>
<ellipse cx="196.0" cy="60.32" rx="3.35" ry="3.95" fill="#ED7266"/>
<ellipse cx="219.9" cy="63.79" rx="3.35" ry="3.95" fill="#ED7266"/>
<ellipse cx="187.5" cy="67.27" rx="3.35" ry="3.95" fill="#ED7266"/>
<ellipse cx="204.1" cy="70.74" rx="3.35" ry="3.95" fill="#ED7266"/>
<ellipse cx="184.7" cy="74.22" rx="3.35" ry="3.95" fill="#ED7266"/>
<ellipse cx="205.8" cy="77.70" rx="3.35" ry="3.95" fill="#ED7266"/>
<ellipse cx="233.9" cy="81.17" rx="3.35" ry="3.95" fill="#ED7266"/>
<ellipse cx="210.8" cy="84.65" rx="3.35" ry="3.95" fill="#ED7266"/>
<ellipse cx="228.5" cy="88.12" rx="3.35" ry="3.95" fill="#ED7266"/>
<ellipse cx="198.4" cy="91.60" rx="3.35" ry="3.95" fill="#ED7266"/>
<ellipse cx="272.9" cy="95.08" rx="3.35" ry="3.95" fill="#ED7266"/>
<ellipse cx="315.9" cy="98.55" rx="3.35" ry="3.95" fill="#ED7266"/>
<ellipse cx="153.4" cy="102.03" rx="3.35" ry="3.95" fill="#ED7266"/>
<ellipse cx="194.6" cy="105.50" rx="3.35" ry="3.95" fill="#ED7266"/>
<ellipse cx="151.4" cy="108.98" rx="3.35" ry="3.95" fill="#ED7266"/>
<ellipse cx="155.9" cy="112.46" rx="3.35" ry="3.95" fill="#C39A1E"/>
<ellipse cx="182.7" cy="115.93" rx="3.35" ry="3.95" fill="#C39A1E"/>
<ellipse cx="224.5" cy="119.41" rx="3.35" ry="3.95" fill="#C39A1E"/>
<ellipse cx="222.6" cy="122.88" rx="3.35" ry="3.95" fill="#C39A1E"/>
<ellipse cx="222.6" cy="126.36" rx="3.35" ry="3.95" fill="#C39A1E"/>
<ellipse cx="196.9" cy="129.84" rx="3.35" ry="3.95" fill="#C39A1E"/>
<ellipse cx="163.3" cy="133.31" rx="3.35" ry="3.95" fill="#55AE3A"/>
<ellipse cx="165.3" cy="136.79" rx="3.35" ry="3.95" fill="#55AE3A"/>
<ellipse cx="210.6" cy="140.26" rx="3.35" ry="3.95" fill="#55AE3A"/>
<ellipse cx="203.2" cy="143.74" rx="3.35" ry="3.95" fill="#55AE3A"/>
<ellipse cx="192.4" cy="147.22" rx="3.35" ry="3.95" fill="#55AE3A"/>
<ellipse cx="290.9" cy="150.69" rx="3.35" ry="3.95" fill="#55AE3A"/>
<ellipse cx="173.6" cy="154.17" rx="3.35" ry="3.95" fill="#1FB08A"/>
<ellipse cx="209.2" cy="157.64" rx="3.35" ry="3.95" fill="#1FB08A"/>
<ellipse cx="227.1" cy="161.12" rx="3.35" ry="3.95" fill="#1FB08A"/>
<ellipse cx="224.3" cy="164.60" rx="3.35" ry="3.95" fill="#1FB08A"/>
<ellipse cx="162.8" cy="168.07" rx="3.35" ry="3.95" fill="#1FB08A"/>
<ellipse cx="179.9" cy="171.55" rx="3.35" ry="3.95" fill="#1FB08A"/>
<ellipse cx="236.5" cy="175.02" rx="3.35" ry="3.95" fill="#1FB08A"/>
<ellipse cx="224.0" cy="178.50" rx="3.35" ry="3.95" fill="#1FB08A"/>
<ellipse cx="162.8" cy="181.98" rx="3.35" ry="3.95" fill="#1FA9DC"/>
<ellipse cx="227.1" cy="185.45" rx="3.35" ry="3.95" fill="#1FA9DC"/>
<ellipse cx="218.9" cy="188.93" rx="3.35" ry="3.95" fill="#1FA9DC"/>
<ellipse cx="221.1" cy="192.40" rx="3.35" ry="3.95" fill="#1FA9DC"/>
<ellipse cx="196.1" cy="195.88" rx="3.35" ry="3.95" fill="#1FA9DC"/>
<ellipse cx="289.2" cy="199.36" rx="3.35" ry="3.95" fill="#1FA9DC"/>
<ellipse cx="182.1" cy="202.83" rx="3.35" ry="3.95" fill="#9583C8"/>
<ellipse cx="215.7" cy="206.31" rx="3.35" ry="3.95" fill="#9583C8"/>
<ellipse cx="206.3" cy="209.78" rx="3.35" ry="3.95" fill="#9583C8"/>
<ellipse cx="191.0" cy="213.26" rx="3.35" ry="3.95" fill="#9583C8"/>
<ellipse cx="278.9" cy="216.74" rx="3.35" ry="3.95" fill="#9583C8"/>
<ellipse cx="218.3" cy="220.21" rx="3.35" ry="3.95" fill="#9583C8"/>
<ellipse cx="196.9" cy="223.69" rx="3.35" ry="3.95" fill="#9583C8"/>
<ellipse cx="231.1" cy="227.16" rx="3.35" ry="3.95" fill="#9583C8"/>
<ellipse cx="219.1" cy="230.64" rx="3.35" ry="3.95" fill="#9583C8"/>
<ellipse cx="221.1" cy="234.12" rx="3.35" ry="3.95" fill="#9583C8"/>
<ellipse cx="222.8" cy="237.59" rx="3.35" ry="3.95" fill="#9583C8"/>
<ellipse cx="201.8" cy="241.07" rx="3.35" ry="3.95" fill="#9583C8"/>
<ellipse cx="217.4" cy="244.54" rx="3.35" ry="3.95" fill="#9583C8"/>
<ellipse cx="276.1" cy="248.02" rx="3.35" ry="3.95" fill="#9583C8"/>
<ellipse cx="190.1" cy="251.50" rx="3.35" ry="3.95" fill="#9583C8"/>
<ellipse cx="301.4" cy="254.97" rx="3.35" ry="3.95" fill="#9583C8"/>
<ellipse cx="271.8" cy="258.45" rx="3.35" ry="3.95" fill="#9583C8"/>
<ellipse cx="191.5" cy="261.92" rx="3.35" ry="3.95" fill="#D564AE"/>
<ellipse cx="223.1" cy="265.40" rx="3.35" ry="3.95" fill="#D564AE"/>
<ellipse cx="282.0" cy="268.88" rx="3.35" ry="3.95" fill="#D564AE"/>
<ellipse cx="218.3" cy="272.35" rx="3.35" ry="3.95" fill="#D564AE"/>
<ellipse cx="232.8" cy="275.83" rx="3.35" ry="3.95" fill="#D564AE"/>
<ellipse cx="279.8" cy="279.30" rx="3.35" ry="3.95" fill="#D564AE"/>
<ellipse cx="225.1" cy="282.78" rx="3.35" ry="3.95" fill="#D564AE"/>
<ellipse cx="284.6" cy="286.26" rx="3.35" ry="3.95" fill="#D564AE"/>
<ellipse cx="206.9" cy="289.73" rx="3.35" ry="3.95" fill="#D564AE"/>
<ellipse cx="306.8" cy="293.21" rx="3.35" ry="3.95" fill="#D564AE"/>
<ellipse cx="282.9" cy="296.68" rx="3.35" ry="3.95" fill="#D564AE"/>
<line x1="175.26" y1="298.4" x2="175.26" y2="300.4" stroke="#333" stroke-width="0.8"/>
<text transform="translate(175.26,308.20) scale(0.83,1)" font-family="'Liberation Sans', sans-serif" font-size="6.9" fill="#333" text-anchor="middle" font-weight="normal" font-style="normal" >-0.4</text>
<line x1="214.78" y1="298.4" x2="214.78" y2="300.4" stroke="#333" stroke-width="0.8"/>
<text transform="translate(214.78,308.20) scale(0.83,1)" font-family="'Liberation Sans', sans-serif" font-size="6.9" fill="#333" text-anchor="middle" font-weight="normal" font-style="normal" >-0.2</text>
<line x1="254.30" y1="298.4" x2="254.30" y2="300.4" stroke="#333" stroke-width="0.8"/>
<text transform="translate(254.30,308.20) scale(0.83,1)" font-family="'Liberation Sans', sans-serif" font-size="6.9" fill="#333" text-anchor="middle" font-weight="normal" font-style="normal" >0.0</text>
<line x1="293.82" y1="298.4" x2="293.82" y2="300.4" stroke="#333" stroke-width="0.8"/>
<text transform="translate(293.82,308.20) scale(0.83,1)" font-family="'Liberation Sans', sans-serif" font-size="6.9" fill="#333" text-anchor="middle" font-weight="normal" font-style="normal" >0.2</text>
<text transform="translate(237.60,317.40) scale(0.83,1)" font-family="'Liberation Sans', sans-serif" font-size="8.6" fill="#000" text-anchor="middle" font-weight="normal" font-style="normal" >Correlation coefficient</text>
<text transform="translate(8.40,150.60) scale(0.83,1) rotate(-90)" font-family="'Liberation Sans', sans-serif" font-size="8.2" fill="#000" text-anchor="middle" font-weight="normal" font-style="normal" >Immune cell</text>
<text transform="translate(342.40,106.90) scale(0.83,1)" font-family="'Liberation Sans', sans-serif" font-size="8.4" fill="#000" text-anchor="start" font-weight="normal" font-style="normal" >Software</text>
<rect x="342" y="111.50" width="11.5" height="13" fill="#fff" stroke="#d0d0d0" stroke-width="0.7"/>
<ellipse cx="347.8" cy="118.00" rx="3.15" ry="3.9" fill="#ED7266"/>
<text transform="translate(356.70,120.50) scale(0.83,1)" font-family="'Liberation Sans', sans-serif" font-size="6.9" fill="#222" text-anchor="start" font-weight="normal" font-style="normal" >XCELL</text>
<rect x="342" y="124.47" width="11.5" height="13" fill="#fff" stroke="#d0d0d0" stroke-width="0.7"/>
<ellipse cx="347.8" cy="130.97" rx="3.15" ry="3.9" fill="#C39A1E"/>
<text transform="translate(356.70,133.47) scale(0.83,1)" font-family="'Liberation Sans', sans-serif" font-size="6.9" fill="#222" text-anchor="start" font-weight="normal" font-style="normal" >TIMER</text>
<rect x="342" y="137.44" width="11.5" height="13" fill="#fff" stroke="#d0d0d0" stroke-width="0.7"/>
<ellipse cx="347.8" cy="143.94" rx="3.15" ry="3.9" fill="#55AE3A"/>
<text transform="translate(356.70,146.44) scale(0.83,1)" font-family="'Liberation Sans', sans-serif" font-size="6.9" fill="#222" text-anchor="start" font-weight="normal" font-style="normal" >QUANTISEQ</text>
<rect x="342" y="150.41" width="11.5" height="13" fill="#fff" stroke="#d0d0d0" stroke-width="0.7"/>
<ellipse cx="347.8" cy="156.91" rx="3.15" ry="3.9" fill="#1FB08A"/>
<text transform="translate(356.70,159.41) scale(0.83,1)" font-family="'Liberation Sans', sans-serif" font-size="6.9" fill="#222" text-anchor="start" font-weight="normal" font-style="normal" >MCPCOUNTER</text>
<rect x="342" y="163.38" width="11.5" height="13" fill="#fff" stroke="#d0d0d0" stroke-width="0.7"/>
<ellipse cx="347.8" cy="169.88" rx="3.15" ry="3.9" fill="#1FA9DC"/>
<text transform="translate(356.70,172.38) scale(0.83,1)" font-family="'Liberation Sans', sans-serif" font-size="6.9" fill="#222" text-anchor="start" font-weight="normal" font-style="normal" >EPIC</text>
<rect x="342" y="176.35" width="11.5" height="13" fill="#fff" stroke="#d0d0d0" stroke-width="0.7"/>
<ellipse cx="347.8" cy="182.85" rx="3.15" ry="3.9" fill="#9583C8"/>
<text transform="translate(356.70,185.35) scale(0.83,1)" font-family="'Liberation Sans', sans-serif" font-size="6.9" fill="#222" text-anchor="start" font-weight="normal" font-style="normal" >CIBERSORT−ABS</text>
<rect x="342" y="189.32" width="11.5" height="13" fill="#fff" stroke="#d0d0d0" stroke-width="0.7"/>
<ellipse cx="347.8" cy="195.82" rx="3.15" ry="3.9" fill="#D564AE"/>
<text transform="translate(356.70,198.32) scale(0.83,1)" font-family="'Liberation Sans', sans-serif" font-size="6.9" fill="#222" text-anchor="start" font-weight="normal" font-style="normal" >CIBERSORT</text>
<text transform="translate(411.60,19.70) scale(0.8,1)" font-family="'Liberation Serif', serif" font-size="18.5" fill="#000" text-anchor="start" font-weight="normal" font-style="normal" >B</text>
<text transform="translate(526.60,18.40) scale(0.83,1)" font-family="'Liberation Sans', sans-serif" font-size="9.2" fill="#111" text-anchor="start" font-weight="normal" font-style="normal" >Risk</text>
<rect x="545.1" y="9.2" width="10.6" height="12.2" fill="#1F8A8E" stroke="#222" stroke-width="0.8"/>
<rect x="546.40" y="11.9" width="8.0" height="6.7" fill="none" stroke="#e0f0f0" stroke-width="0.9"/>
<line x1="546.40" y1="15.3" x2="554.40" y2="15.3" stroke="#e0f0f0" stroke-width="0.9"/>
<line x1="550.40" y1="10" x2="550.40" y2="11.9" stroke="#e0f0f0" stroke-width="0.8"/>
<line x1="550.40" y1="18.6" x2="550.40" y2="20.4" stroke="#e0f0f0" stroke-width="0.8"/>
<text transform="translate(559.70,18.10) scale(0.83,1)" font-family="'Liberation Sans', sans-serif" font-size="7.6" fill="#222" text-anchor="start" font-weight="normal" font-style="normal" >Low</text>
<rect x="575.0" y="9.2" width="10.6" height="12.2" fill="#7A1B6A" stroke="#222" stroke-width="0.8"/>
<rect x="576.30" y="11.9" width="8.0" height="6.7" fill="none" stroke="#e0f0f0" stroke-width="0.9"/>
<line x1="576.30" y1="15.3" x2="584.30" y2="15.3" stroke="#e0f0f0" stroke-width="0.9"/>
<line x1="580.30" y1="10" x2="580.30" y2="11.9" stroke="#e0f0f0" stroke-width="0.8"/>
<line x1="580.30" y1="18.6" x2="580.30" y2="20.4" stroke="#e0f0f0" stroke-width="0.8"/>
<text transform="translate(589.80,18.10) scale(0.83,1)" font-family="'Liberation Sans', sans-serif" font-size="7.6" fill="#222" text-anchor="start" font-weight="normal" font-style="normal" >High</text>
<line x1="448.0" y1="35" x2="448.0" y2="197.6" stroke="#8f8f8f" stroke-width="1.9"/>
<line x1="447.1" y1="196.8" x2="681.3" y2="196.8" stroke="#8f8f8f" stroke-width="1.9"/>
<line x1="445.8" y1="42.85" x2="448.0" y2="42.85" stroke="#333" stroke-width="1.0"/>
<text transform="translate(444.20,45.95) scale(0.83,1)" font-family="'Liberation Sans', sans-serif" font-size="8.9" fill="#111" text-anchor="end" font-weight="normal" font-style="normal" >6000</text>
<line x1="445.8" y1="74.20" x2="448.0" y2="74.20" stroke="#333" stroke-width="1.0"/>
<text transform="translate(444.20,77.30) scale(0.83,1)" font-family="'Liberation Sans', sans-serif" font-size="8.9" fill="#111" text-anchor="end" font-weight="normal" font-style="normal" >4000</text>
<line x1="445.8" y1="105.55" x2="448.0" y2="105.55" stroke="#333" stroke-width="1.0"/>
<text transform="translate(444.20,108.65) scale(0.83,1)" font-family="'Liberation Sans', sans-serif" font-size="8.9" fill="#111" text-anchor="end" font-weight="normal" font-style="normal" >2000</text>
<line x1="445.8" y1="136.90" x2="448.0" y2="136.90" stroke="#333" stroke-width="1.0"/>
<text transform="translate(444.20,140.00) scale(0.83,1)" font-family="'Liberation Sans', sans-serif" font-size="8.9" fill="#111" text-anchor="end" font-weight="normal" font-style="normal" >0</text>
<line x1="445.8" y1="168.25" x2="448.0" y2="168.25" stroke="#333" stroke-width="1.0"/>
<text transform="translate(444.20,171.35) scale(0.83,1)" font-family="'Liberation Sans', sans-serif" font-size="8.9" fill="#111" text-anchor="end" font-weight="normal" font-style="normal" >-2000</text>
<text transform="translate(420.30,116.50) scale(0.83,1) rotate(-90)" font-family="'Liberation Sans', sans-serif" font-size="8.75" fill="#111" text-anchor="middle" font-weight="normal" font-style="normal" >TME score</text>
<line x1="491.4" y1="196.8" x2="491.4" y2="199.5" stroke="#333" stroke-width="0.9"/>
<text transform="translate(491.80,214.90) scale(0.83,1)" font-family="'Liberation Sans', sans-serif" font-size="9.1" fill="#111" text-anchor="middle" font-weight="normal" font-style="normal" >StromalScore</text>
<text transform="translate(491.60,57.70) scale(1.0,1)" font-family="'Liberation Sans', sans-serif" font-size="7.1" fill="#000" text-anchor="middle" font-weight="bold" font-style="normal" >***</text>
<line x1="564.0" y1="196.8" x2="564.0" y2="199.5" stroke="#333" stroke-width="0.9"/>
<text transform="translate(564.30,214.90) scale(0.83,1)" font-family="'Liberation Sans', sans-serif" font-size="9.1" fill="#111" text-anchor="middle" font-weight="normal" font-style="normal" >ImmuneScore</text>
<text transform="translate(564.20,57.70) scale(1.0,1)" font-family="'Liberation Sans', sans-serif" font-size="7.1" fill="#000" text-anchor="middle" font-weight="bold" font-style="normal" >***</text>
<line x1="637.4" y1="196.8" x2="637.4" y2="199.5" stroke="#333" stroke-width="0.9"/>
<text transform="translate(639.30,214.90) scale(0.83,1)" font-family="'Liberation Sans', sans-serif" font-size="9.1" fill="#111" text-anchor="middle" font-weight="normal" font-style="normal" >ESTIMATEScore</text>
<text transform="translate(637.60,57.70) scale(1.0,1)" font-family="'Liberation Sans', sans-serif" font-size="7.1" fill="#000" text-anchor="middle" font-weight="bold" font-style="normal" >***</text>
<line x1="477.0" y1="163.3" x2="477.0" y2="171.2" stroke="#222" stroke-width="1.4"/>
<path d="M477.30,93.60 C477.63,93.60 477.38,101.07 478.00,103.70 C478.62,106.33 479.25,107.48 481.00,109.40 C482.75,111.32 486.42,113.28 488.50,115.20 C490.58,117.12 492.37,119.35 493.50,120.90 C494.63,122.45 495.35,122.82 495.30,124.50 C495.25,126.18 494.47,128.72 493.20,131.00 C491.93,133.28 489.50,135.82 487.70,138.20 C485.90,140.58 483.88,142.92 482.40,145.30 C480.92,147.68 479.65,150.10 478.80,152.50 C477.95,154.90 477.90,159.70 477.30,159.70 C476.70,159.70 476.15,154.90 475.20,152.50 C474.25,150.10 473.08,147.68 471.60,145.30 C470.12,142.92 468.10,140.58 466.30,138.20 C464.50,135.82 462.07,133.28 460.80,131.00 C459.53,128.72 458.75,126.18 458.70,124.50 C458.65,122.82 459.37,122.45 460.50,120.90 C461.63,119.35 463.42,117.12 465.50,115.20 C467.58,113.28 471.25,111.32 473.00,109.40 C474.75,107.48 475.28,106.33 476.00,103.70 C476.72,101.07 476.97,93.60 477.30,93.60Z" fill="#1F8A8E" stroke="#1a1a1a" stroke-width="0.8"/>
<line x1="477.0" y1="102.5" x2="477.0" y2="122.1" stroke="#e8e8e8" stroke-width="0.8"/>
<line x1="477.0" y1="135.6" x2="477.0" y2="153.5" stroke="#e8e8e8" stroke-width="0.8"/>
<rect x="473.05" y="122.1" width="7.90" height="13.50" fill="#1F8A8E" stroke="#fff" stroke-width="0.8"/>
<line x1="473.05" y1="128.1" x2="480.95" y2="128.1" stroke="#fff" stroke-width="1.2"/>
<path d="M506.30,94.30 C506.77,94.30 506.25,103.27 507.40,106.50 C508.55,109.73 511.45,111.30 513.20,113.70 C514.95,116.10 516.60,118.50 517.90,120.90 C519.20,123.30 520.33,126.07 521.00,128.10 C521.67,130.13 522.18,131.18 521.90,133.10 C521.62,135.02 520.63,137.32 519.30,139.60 C517.97,141.88 515.52,144.40 513.90,146.80 C512.28,149.20 510.75,151.37 509.60,154.00 C508.45,156.63 507.55,159.50 507.00,162.60 C506.45,165.70 506.63,172.60 506.30,172.60 C505.97,172.60 505.65,165.70 505.00,162.60 C504.35,159.50 503.55,156.63 502.40,154.00 C501.25,151.37 499.72,149.20 498.10,146.80 C496.48,144.40 494.03,141.88 492.70,139.60 C491.37,137.32 490.38,135.02 490.10,133.10 C489.82,131.18 490.33,130.13 491.00,128.10 C491.67,126.07 492.80,123.30 494.10,120.90 C495.40,118.50 497.05,116.10 498.80,113.70 C500.55,111.30 503.35,109.73 504.60,106.50 C505.85,103.27 505.83,94.30 506.30,94.30Z" fill="#7A1B6A" stroke="#1a1a1a" stroke-width="0.8"/>
<line x1="506.0" y1="105.5" x2="506.0" y2="125.9" stroke="#e8e8e8" stroke-width="0.8"/>
<line x1="506.0" y1="142.5" x2="506.0" y2="163" stroke="#e8e8e8" stroke-width="0.8"/>
<rect x="501.85" y="125.9" width="8.30" height="16.60" fill="#7A1B6A" stroke="#fff" stroke-width="0.8"/>
<line x1="501.85" y1="133.8" x2="510.15" y2="133.8" stroke="#fff" stroke-width="1.2"/>
<line x1="549.9" y1="143.6" x2="549.9" y2="150.7" stroke="#222" stroke-width="1.4"/>
<line x1="549.9" y1="153.1" x2="549.9" y2="161" stroke="#222" stroke-width="1.4"/>
<path d="M550.20,76.10 C550.70,76.10 550.33,81.62 551.40,84.00 C552.47,86.38 554.80,88.28 556.60,90.40 C558.40,92.52 560.53,94.45 562.20,96.70 C563.87,98.95 566.27,101.52 566.60,103.90 C566.93,106.28 565.53,108.48 564.20,111.00 C562.87,113.52 560.38,116.08 558.60,119.00 C556.82,121.92 554.90,125.47 553.50,128.50 C552.10,131.53 551.40,137.20 550.20,137.20 C549.00,137.20 547.80,131.53 546.30,128.50 C544.80,125.47 542.98,121.92 541.20,119.00 C539.42,116.08 536.93,113.52 535.60,111.00 C534.27,108.48 532.87,106.28 533.20,103.90 C533.53,101.52 535.93,98.95 537.60,96.70 C539.27,94.45 541.40,92.52 543.20,90.40 C545.00,88.28 547.23,86.38 548.40,84.00 C549.57,81.62 549.70,76.10 550.20,76.10Z" fill="#1F8A8E" stroke="#1a1a1a" stroke-width="0.8"/>
<line x1="549.9" y1="83" x2="549.9" y2="100.7" stroke="#e8e8e8" stroke-width="0.8"/>
<line x1="549.9" y1="115.8" x2="549.9" y2="133" stroke="#e8e8e8" stroke-width="0.8"/>
<rect x="546.00" y="100.7" width="7.80" height="15.10" fill="#1F8A8E" stroke="#fff" stroke-width="0.8"/>
<line x1="546.00" y1="107.5" x2="553.80" y2="107.5" stroke="#fff" stroke-width="1.2"/>
<path d="M579.70,80.10 C580.20,80.10 579.90,87.63 580.90,90.40 C581.90,93.17 583.87,94.32 585.70,96.70 C587.53,99.08 590.48,102.05 591.90,104.70 C593.32,107.35 594.12,109.95 594.20,112.60 C594.28,115.25 593.55,117.95 592.40,120.60 C591.25,123.25 588.93,125.60 587.30,128.50 C585.67,131.40 583.75,134.83 582.60,138.00 C581.45,141.17 580.88,144.05 580.40,147.50 C579.92,150.95 580.03,158.70 579.70,158.70 C579.37,158.70 578.98,150.95 578.40,147.50 C577.82,144.05 577.35,141.17 576.20,138.00 C575.05,134.83 573.13,131.40 571.50,128.50 C569.87,125.60 567.55,123.25 566.40,120.60 C565.25,117.95 564.52,115.25 564.60,112.60 C564.68,109.95 565.48,107.35 566.90,104.70 C568.32,102.05 571.27,99.08 573.10,96.70 C574.93,94.32 576.80,93.17 577.90,90.40 C579.00,87.63 579.20,80.10 579.70,80.10Z" fill="#7A1B6A" stroke="#1a1a1a" stroke-width="0.8"/>
<line x1="579.4" y1="89" x2="579.4" y2="109.8" stroke="#e8e8e8" stroke-width="0.8"/>
<line x1="579.4" y1="126.9" x2="579.4" y2="149" stroke="#e8e8e8" stroke-width="0.8"/>
<rect x="575.70" y="109.8" width="7.40" height="17.10" fill="#7A1B6A" stroke="#fff" stroke-width="0.8"/>
<line x1="575.70" y1="116.6" x2="583.10" y2="116.6" stroke="#fff" stroke-width="1.2"/>
<line x1="623.0" y1="151.5" x2="623.0" y2="153" stroke="#222" stroke-width="1.4"/>
<line x1="623.0" y1="157" x2="623.0" y2="163" stroke="#222" stroke-width="1.4"/>
<line x1="623.0" y1="169" x2="623.0" y2="182.4" stroke="#222" stroke-width="1.4"/>
<path d="M623.30,42.30 C623.80,42.30 623.75,52.28 624.50,56.70 C625.25,61.12 626.68,64.37 627.80,68.80 C628.92,73.23 630.35,78.47 631.20,83.30 C632.05,88.13 633.05,92.97 632.90,97.80 C632.75,102.63 631.35,107.47 630.30,112.30 C629.25,117.13 627.57,121.97 626.60,126.80 C625.63,131.63 625.05,137.67 624.50,141.30 C623.95,144.93 623.80,148.60 623.30,148.60 C622.80,148.60 622.15,144.93 621.50,141.30 C620.85,137.67 620.37,131.63 619.40,126.80 C618.43,121.97 616.75,117.13 615.70,112.30 C614.65,107.47 613.25,102.63 613.10,97.80 C612.95,92.97 613.95,88.13 614.80,83.30 C615.65,78.47 617.08,73.23 618.20,68.80 C619.32,64.37 620.65,61.12 621.50,56.70 C622.35,52.28 622.80,42.30 623.30,42.30Z" fill="#1F8A8E" stroke="#1a1a1a" stroke-width="0.8"/>
<line x1="623.0" y1="55" x2="623.0" y2="86.5" stroke="#e8e8e8" stroke-width="0.8"/>
<line x1="623.0" y1="111.1" x2="623.0" y2="142" stroke="#e8e8e8" stroke-width="0.8"/>
<rect x="619.10" y="86.5" width="7.80" height="24.60" fill="#1F8A8E" stroke="#fff" stroke-width="0.8"/>
<line x1="619.10" y1="99.0" x2="626.90" y2="99.0" stroke="#fff" stroke-width="1.2"/>
<path d="M652.30,49.50 C652.80,49.50 652.75,61.57 653.50,66.40 C654.25,71.23 655.83,73.67 656.80,78.50 C657.77,83.33 658.68,90.17 659.30,95.40 C659.92,100.63 660.72,104.67 660.50,109.90 C660.28,115.13 658.82,121.15 658.00,126.80 C657.18,132.45 656.43,138.15 655.60,143.80 C654.77,149.45 653.55,153.05 653.00,160.70 C652.45,168.35 652.63,189.70 652.30,189.70 C651.97,189.70 651.65,168.35 651.00,160.70 C650.35,153.05 649.23,149.45 648.40,143.80 C647.57,138.15 646.82,132.45 646.00,126.80 C645.18,121.15 643.72,115.13 643.50,109.90 C643.28,104.67 644.08,100.63 644.70,95.40 C645.32,90.17 646.23,83.33 647.20,78.50 C648.17,73.67 649.65,71.23 650.50,66.40 C651.35,61.57 651.80,49.50 652.30,49.50Z" fill="#7A1B6A" stroke="#1a1a1a" stroke-width="0.8"/>
<line x1="652.0" y1="64" x2="652.0" y2="99.8" stroke="#e8e8e8" stroke-width="0.8"/>
<line x1="652.0" y1="130.5" x2="652.0" y2="163" stroke="#e8e8e8" stroke-width="0.8"/>
<rect x="648.10" y="99.8" width="7.80" height="30.70" fill="#7A1B6A" stroke="#fff" stroke-width="0.8"/>
<line x1="648.10" y1="113.5" x2="655.90" y2="113.5" stroke="#fff" stroke-width="1.2"/>
<text transform="translate(367.00,261.30) scale(0.8,1)" font-family="'Liberation Serif', serif" font-size="18.5" fill="#000" text-anchor="start" font-weight="normal" font-style="normal" >C</text>
<text transform="translate(503.00,234.30) scale(0.83,1)" font-family="'Liberation Sans', sans-serif" font-size="8.8" fill="#111" text-anchor="start" font-weight="normal" font-style="normal" >Risk</text>
<line x1="526.9" y1="225.8" x2="526.9" y2="236.6" stroke="#333" stroke-width="0.7"/>
<rect x="522.3" y="227.6" width="9.2" height="7.2" fill="#2BB3D6" stroke="#222" stroke-width="0.8"/>
<line x1="522.3" y1="231.2" x2="531.5" y2="231.2" stroke="#222" stroke-width="0.8"/>
<text transform="translate(535.90,234.20) scale(0.83,1)" font-family="'Liberation Sans', sans-serif" font-size="7.7" fill="#222" text-anchor="start" font-weight="normal" font-style="normal" >Low</text>
<line x1="556.7" y1="225.8" x2="556.7" y2="236.6" stroke="#333" stroke-width="0.7"/>
<rect x="552.1" y="227.6" width="9.2" height="7.2" fill="#8C3A9F" stroke="#222" stroke-width="0.8"/>
<line x1="552.1" y1="231.2" x2="561.3000000000001" y2="231.2" stroke="#222" stroke-width="0.8"/>
<text transform="translate(566.20,234.20) scale(0.83,1)" font-family="'Liberation Sans', sans-serif" font-size="7.7" fill="#222" text-anchor="start" font-weight="normal" font-style="normal" >High</text>
<line x1="398.3" y1="250.9" x2="398.3" y2="403.7" stroke="#444" stroke-width="1.3"/>
<line x1="397.7" y1="403.1" x2="683.3" y2="403.1" stroke="#444" stroke-width="1.3"/>
<line x1="395.8" y1="253.30" x2="398.2" y2="253.30" stroke="#333" stroke-width="0.9"/>
<text transform="translate(395.70,256.60) scale(0.83,1)" font-family="'Liberation Sans', sans-serif" font-size="9.5" fill="#111" text-anchor="end" font-weight="normal" font-style="normal" >10.0</text>
<line x1="395.8" y1="289.00" x2="398.2" y2="289.00" stroke="#333" stroke-width="0.9"/>
<text transform="translate(395.70,292.30) scale(0.83,1)" font-family="'Liberation Sans', sans-serif" font-size="9.5" fill="#111" text-anchor="end" font-weight="normal" font-style="normal" >7.5</text>
<line x1="395.8" y1="324.70" x2="398.2" y2="324.70" stroke="#333" stroke-width="0.9"/>
<text transform="translate(395.70,328.00) scale(0.83,1)" font-family="'Liberation Sans', sans-serif" font-size="9.5" fill="#111" text-anchor="end" font-weight="normal" font-style="normal" >5.0</text>
<line x1="395.8" y1="360.40" x2="398.2" y2="360.40" stroke="#333" stroke-width="0.9"/>
<text transform="translate(395.70,363.70) scale(0.83,1)" font-family="'Liberation Sans', sans-serif" font-size="9.5" fill="#111" text-anchor="end" font-weight="normal" font-style="normal" >2.5</text>
<line x1="395.8" y1="396.10" x2="398.2" y2="396.10" stroke="#333" stroke-width="0.9"/>
<text transform="translate(395.70,399.40) scale(0.83,1)" font-family="'Liberation Sans', sans-serif" font-size="9.5" fill="#111" text-anchor="end" font-weight="normal" font-style="normal" >0.0</text>
<text transform="translate(377.30,327.00) scale(0.83,1) rotate(-90)" font-family="'Liberation Sans', sans-serif" font-size="9.0" fill="#111" text-anchor="middle" font-weight="normal" font-style="normal" >Gene expression</text>
<line x1="400.98" y1="357.3" x2="400.98" y2="396" stroke="#5e5e5e" stroke-width="1.0"/>
<rect x="399.35" y="374.5" width="3.25" height="13.00" fill="#2BB3D6" stroke="#111" stroke-width="0.85"/>
<line x1="399.35" y1="382.6" x2="402.60" y2="382.6" stroke="#111" stroke-width="1.3"/>
<ellipse cx="400.98" cy="342.7" rx="1.6" ry="1.8" fill="#111"/>
<ellipse cx="400.98" cy="347.5" rx="1.6" ry="1.8" fill="#111"/>
<ellipse cx="400.98" cy="352.2" rx="1.6" ry="1.8" fill="#111"/>
<line x1="404.23" y1="358.7" x2="404.23" y2="396" stroke="#5e5e5e" stroke-width="1.0"/>
<rect x="402.60" y="376.9" width="3.25" height="13.90" fill="#8C3A9F" stroke="#111" stroke-width="0.85"/>
<line x1="402.60" y1="383.4" x2="405.85" y2="383.4" stroke="#111" stroke-width="1.3"/>
<ellipse cx="404.23" cy="332.5" rx="1.6" ry="1.8" fill="#111"/>
<line x1="408.89" y1="287.3" x2="408.89" y2="355.7" stroke="#5e5e5e" stroke-width="1.0"/>
<rect x="407.26" y="309.1" width="3.25" height="18.70" fill="#2BB3D6" stroke="#111" stroke-width="0.85"/>
<line x1="407.26" y1="318.8" x2="410.51" y2="318.8" stroke="#111" stroke-width="1.3"/>
<ellipse cx="408.89" cy="274.5" rx="1.6" ry="1.8" fill="#111"/>
<ellipse cx="408.89" cy="369.1" rx="1.6" ry="1.8" fill="#111"/>
<ellipse cx="408.89" cy="375.2" rx="1.6" ry="1.8" fill="#111"/>
<line x1="412.14" y1="289.2" x2="412.14" y2="358.3" stroke="#5e5e5e" stroke-width="1.0"/>
<rect x="410.51" y="314.8" width="3.25" height="20.80" fill="#8C3A9F" stroke="#111" stroke-width="0.85"/>
<line x1="410.51" y1="324.2" x2="413.76" y2="324.2" stroke="#111" stroke-width="1.3"/>
<line x1="416.80" y1="323.5" x2="416.80" y2="392.1" stroke="#5e5e5e" stroke-width="1.0"/>
<rect x="415.18" y="347.9" width="3.25" height="21.50" fill="#2BB3D6" stroke="#111" stroke-width="0.85"/>
<line x1="415.18" y1="358.6" x2="418.43" y2="358.6" stroke="#111" stroke-width="1.3"/>
<line x1="420.05" y1="328" x2="420.05" y2="394.7" stroke="#5e5e5e" stroke-width="1.0"/>
<rect x="418.43" y="354.8" width="3.25" height="19.50" fill="#8C3A9F" stroke="#111" stroke-width="0.85"/>
<line x1="418.43" y1="365.5" x2="421.68" y2="365.5" stroke="#111" stroke-width="1.3"/>
<ellipse cx="420.05" cy="318.6" rx="1.6" ry="1.8" fill="#111"/>
<ellipse cx="420.05" cy="320.5" rx="1.6" ry="1.8" fill="#111"/>
<ellipse cx="420.05" cy="322.5" rx="1.6" ry="1.8" fill="#111"/>
<ellipse cx="420.05" cy="325.2" rx="1.6" ry="1.8" fill="#111"/>
<line x1="424.72" y1="339.2" x2="424.72" y2="388.8" stroke="#5e5e5e" stroke-width="1.0"/>
<rect x="423.09" y="356.4" width="3.25" height="13.20" fill="#2BB3D6" stroke="#111" stroke-width="0.85"/>
<line x1="423.09" y1="362.9" x2="426.34" y2="362.9" stroke="#111" stroke-width="1.3"/>
<ellipse cx="424.72" cy="335.5" rx="1.6" ry="1.8" fill="#111"/>
<ellipse cx="424.72" cy="390.5" rx="1.6" ry="1.8" fill="#111"/>
<line x1="427.97" y1="346" x2="427.97" y2="393.4" stroke="#5e5e5e" stroke-width="1.0"/>
<rect x="426.34" y="362.2" width="3.25" height="18.20" fill="#8C3A9F" stroke="#111" stroke-width="0.85"/>
<line x1="426.34" y1="372" x2="429.59" y2="372" stroke="#111" stroke-width="1.3"/>
<line x1="432.63" y1="315" x2="432.63" y2="381.7" stroke="#5e5e5e" stroke-width="1.0"/>
<rect x="431.01" y="340.1" width="3.25" height="17.60" fill="#2BB3D6" stroke="#111" stroke-width="0.85"/>
<line x1="431.01" y1="347.9" x2="434.26" y2="347.9" stroke="#111" stroke-width="1.3"/>
<ellipse cx="432.63" cy="301.7" rx="1.6" ry="1.8" fill="#111"/>
<ellipse cx="432.63" cy="308.5" rx="1.6" ry="1.8" fill="#111"/>
<ellipse cx="432.63" cy="312.1" rx="1.6" ry="1.8" fill="#111"/>
<ellipse cx="432.63" cy="387.1" rx="1.6" ry="1.8" fill="#111"/>
<line x1="435.88" y1="321" x2="435.88" y2="390.8" stroke="#5e5e5e" stroke-width="1.0"/>
<rect x="434.26" y="350.3" width="3.25" height="20.30" fill="#8C3A9F" stroke="#111" stroke-width="0.85"/>
<line x1="434.26" y1="360.9" x2="437.51" y2="360.9" stroke="#111" stroke-width="1.3"/>
<line x1="440.55" y1="273.9" x2="440.55" y2="385.6" stroke="#5e5e5e" stroke-width="1.0"/>
<rect x="438.92" y="316.3" width="3.25" height="29.00" fill="#2BB3D6" stroke="#111" stroke-width="0.85"/>
<line x1="438.92" y1="332.3" x2="442.17" y2="332.3" stroke="#111" stroke-width="1.3"/>
<ellipse cx="440.55" cy="258.9" rx="1.6" ry="1.8" fill="#111"/>
<ellipse cx="440.55" cy="268.5" rx="1.6" ry="1.8" fill="#111"/>
<line x1="443.80" y1="283.6" x2="443.80" y2="384.3" stroke="#5e5e5e" stroke-width="1.0"/>
<rect x="442.17" y="325.2" width="3.25" height="28.80" fill="#8C3A9F" stroke="#111" stroke-width="0.85"/>
<line x1="442.17" y1="342.3" x2="445.42" y2="342.3" stroke="#111" stroke-width="1.3"/>
<ellipse cx="443.80" cy="257.4" rx="1.6" ry="1.8" fill="#111"/>
<ellipse cx="443.80" cy="260.6" rx="1.6" ry="1.8" fill="#111"/>
<ellipse cx="443.80" cy="265.4" rx="1.6" ry="1.8" fill="#111"/>
<ellipse cx="443.80" cy="275.8" rx="1.6" ry="1.8" fill="#111"/>
<ellipse cx="443.80" cy="281.1" rx="1.6" ry="1.8" fill="#111"/>
<line x1="448.46" y1="344.5" x2="448.46" y2="393.4" stroke="#5e5e5e" stroke-width="1.0"/>
<rect x="446.83" y="362.7" width="3.25" height="15.50" fill="#2BB3D6" stroke="#111" stroke-width="0.85"/>
<line x1="446.83" y1="371" x2="450.08" y2="371" stroke="#111" stroke-width="1.3"/>
<ellipse cx="448.46" cy="331" rx="1.6" ry="1.8" fill="#111"/>
<ellipse cx="448.46" cy="334" rx="1.6" ry="1.8" fill="#111"/>
<ellipse cx="448.46" cy="337" rx="1.6" ry="1.8" fill="#111"/>
<ellipse cx="448.46" cy="340" rx="1.6" ry="1.8" fill="#111"/>
<line x1="451.71" y1="344.8" x2="451.71" y2="394.7" stroke="#5e5e5e" stroke-width="1.0"/>
<rect x="450.08" y="366.8" width="3.25" height="16.10" fill="#8C3A9F" stroke="#111" stroke-width="0.85"/>
<line x1="450.08" y1="376.1" x2="453.33" y2="376.1" stroke="#111" stroke-width="1.3"/>
<ellipse cx="451.71" cy="330.4" rx="1.6" ry="1.8" fill="#111"/>
<ellipse cx="451.71" cy="333" rx="1.6" ry="1.8" fill="#111"/>
<ellipse cx="451.71" cy="335.5" rx="1.6" ry="1.8" fill="#111"/>
<ellipse cx="451.71" cy="338" rx="1.6" ry="1.8" fill="#111"/>
<ellipse cx="451.71" cy="340.5" rx="1.6" ry="1.8" fill="#111"/>
<line x1="456.37" y1="327.6" x2="456.37" y2="395.3" stroke="#5e5e5e" stroke-width="1.0"/>
<rect x="454.75" y="350.1" width="3.25" height="19.50" fill="#2BB3D6" stroke="#111" stroke-width="0.85"/>
<line x1="454.75" y1="359.2" x2="458.00" y2="359.2" stroke="#111" stroke-width="1.3"/>
<line x1="459.62" y1="335.6" x2="459.62" y2="394.7" stroke="#5e5e5e" stroke-width="1.0"/>
<rect x="458.00" y="357.7" width="3.25" height="17.80" fill="#8C3A9F" stroke="#111" stroke-width="0.85"/>
<line x1="458.00" y1="367.3" x2="461.25" y2="367.3" stroke="#111" stroke-width="1.3"/>
<line x1="464.29" y1="300.8" x2="464.29" y2="351.2" stroke="#5e5e5e" stroke-width="1.0"/>
<rect x="462.66" y="317.1" width="3.25" height="15.20" fill="#2BB3D6" stroke="#111" stroke-width="0.85"/>
<line x1="462.66" y1="323.3" x2="465.91" y2="323.3" stroke="#111" stroke-width="1.3"/>
<ellipse cx="464.29" cy="285" rx="1.6" ry="1.8" fill="#111"/>
<ellipse cx="464.29" cy="291.3" rx="1.6" ry="1.8" fill="#111"/>
<ellipse cx="464.29" cy="357" rx="1.6" ry="1.8" fill="#111"/>
<ellipse cx="464.29" cy="359.5" rx="1.6" ry="1.8" fill="#111"/>
<ellipse cx="464.29" cy="362" rx="1.6" ry="1.8" fill="#111"/>
<line x1="467.54" y1="303.5" x2="467.54" y2="357.7" stroke="#5e5e5e" stroke-width="1.0"/>
<rect x="465.91" y="321.5" width="3.25" height="15.80" fill="#8C3A9F" stroke="#111" stroke-width="0.85"/>
<line x1="465.91" y1="331" x2="469.16" y2="331" stroke="#111" stroke-width="1.3"/>
<ellipse cx="467.54" cy="298.2" rx="1.6" ry="1.8" fill="#111"/>
<ellipse cx="467.54" cy="360.3" rx="1.6" ry="1.8" fill="#111"/>
<ellipse cx="467.54" cy="363.5" rx="1.6" ry="1.8" fill="#111"/>
<ellipse cx="467.54" cy="366.8" rx="1.6" ry="1.8" fill="#111"/>
<line x1="472.20" y1="386" x2="472.20" y2="396" stroke="#5e5e5e" stroke-width="1.0"/>
<rect x="470.58" y="391.5" width="3.25" height="3.50" fill="#2BB3D6" stroke="#111" stroke-width="0.85"/>
<line x1="470.58" y1="393.5" x2="473.83" y2="393.5" stroke="#111" stroke-width="1.3"/>
<ellipse cx="472.20" cy="370" rx="1.6" ry="1.8" fill="#111"/>
<ellipse cx="472.20" cy="375" rx="1.6" ry="1.8" fill="#111"/>
<ellipse cx="472.20" cy="379" rx="1.6" ry="1.8" fill="#111"/>
<ellipse cx="472.20" cy="383" rx="1.6" ry="1.8" fill="#111"/>
<ellipse cx="472.20" cy="386" rx="1.6" ry="1.8" fill="#111"/>
<ellipse cx="472.20" cy="388" rx="1.6" ry="1.8" fill="#111"/>
<line x1="475.45" y1="388" x2="475.45" y2="396" stroke="#5e5e5e" stroke-width="1.0"/>
<rect x="473.83" y="392.5" width="3.25" height="3.00" fill="#8C3A9F" stroke="#111" stroke-width="0.85"/>
<line x1="473.83" y1="394" x2="477.08" y2="394" stroke="#111" stroke-width="1.3"/>
<ellipse cx="475.45" cy="367.4" rx="1.6" ry="1.8" fill="#111"/>
<ellipse cx="475.45" cy="373" rx="1.6" ry="1.8" fill="#111"/>
<ellipse cx="475.45" cy="378" rx="1.6" ry="1.8" fill="#111"/>
<ellipse cx="475.45" cy="382" rx="1.6" ry="1.8" fill="#111"/>
<ellipse cx="475.45" cy="386" rx="1.6" ry="1.8" fill="#111"/>
<ellipse cx="475.45" cy="389" rx="1.6" ry="1.8" fill="#111"/>
<line x1="480.12" y1="324.5" x2="480.12" y2="388.8" stroke="#5e5e5e" stroke-width="1.0"/>
<rect x="478.49" y="347" width="3.25" height="17.20" fill="#2BB3D6" stroke="#111" stroke-width="0.85"/>
<line x1="478.49" y1="354.8" x2="481.74" y2="354.8" stroke="#111" stroke-width="1.3"/>
<ellipse cx="480.12" cy="390.5" rx="1.6" ry="1.8" fill="#111"/>
<line x1="483.37" y1="330.4" x2="483.37" y2="392.7" stroke="#5e5e5e" stroke-width="1.0"/>
<rect x="481.74" y="353.8" width="3.25" height="17.50" fill="#8C3A9F" stroke="#111" stroke-width="0.85"/>
<line x1="481.74" y1="362.6" x2="484.99" y2="362.6" stroke="#111" stroke-width="1.3"/>
<ellipse cx="483.37" cy="310.3" rx="1.6" ry="1.8" fill="#111"/>
<ellipse cx="483.37" cy="319.8" rx="1.6" ry="1.8" fill="#111"/>
<ellipse cx="483.37" cy="323.9" rx="1.6" ry="1.8" fill="#111"/>
<line x1="488.03" y1="289.2" x2="488.03" y2="345" stroke="#5e5e5e" stroke-width="1.0"/>
<rect x="486.40" y="309.7" width="3.25" height="14.50" fill="#2BB3D6" stroke="#111" stroke-width="0.85"/>
<line x1="486.40" y1="316.4" x2="489.65" y2="316.4" stroke="#111" stroke-width="1.3"/>
<ellipse cx="488.03" cy="347" rx="1.6" ry="1.8" fill="#111"/>
<ellipse cx="488.03" cy="350.5" rx="1.6" ry="1.8" fill="#111"/>
<ellipse cx="488.03" cy="354.4" rx="1.6" ry="1.8" fill="#111"/>
<ellipse cx="488.03" cy="368.7" rx="1.6" ry="1.8" fill="#111"/>
<line x1="491.28" y1="290" x2="491.28" y2="370.6" stroke="#5e5e5e" stroke-width="1.0"/>
<rect x="489.65" y="312.1" width="3.25" height="24.80" fill="#8C3A9F" stroke="#111" stroke-width="0.85"/>
<line x1="489.65" y1="323.6" x2="492.90" y2="323.6" stroke="#111" stroke-width="1.3"/>
<line x1="495.94" y1="297.3" x2="495.94" y2="360.3" stroke="#5e5e5e" stroke-width="1.0"/>
<rect x="494.32" y="321.4" width="3.25" height="15.70" fill="#2BB3D6" stroke="#111" stroke-width="0.85"/>
<line x1="494.32" y1="328" x2="497.57" y2="328" stroke="#111" stroke-width="1.3"/>
<ellipse cx="495.94" cy="362" rx="1.6" ry="1.8" fill="#111"/>
<ellipse cx="495.94" cy="365" rx="1.6" ry="1.8" fill="#111"/>
<ellipse cx="495.94" cy="368" rx="1.6" ry="1.8" fill="#111"/>
<ellipse cx="495.94" cy="371.3" rx="1.6" ry="1.8" fill="#111"/>
<ellipse cx="495.94" cy="382.1" rx="1.6" ry="1.8" fill="#111"/>
<line x1="499.19" y1="303.1" x2="499.19" y2="372.6" stroke="#5e5e5e" stroke-width="1.0"/>
<rect x="497.57" y="324.5" width="3.25" height="21.20" fill="#8C3A9F" stroke="#111" stroke-width="0.85"/>
<line x1="497.57" y1="334.5" x2="500.82" y2="334.5" stroke="#111" stroke-width="1.3"/>
<line x1="503.86" y1="351.2" x2="503.86" y2="395.3" stroke="#5e5e5e" stroke-width="1.0"/>
<rect x="502.23" y="369.1" width="3.25" height="13.20" fill="#2BB3D6" stroke="#111" stroke-width="0.85"/>
<line x1="502.23" y1="375.6" x2="505.48" y2="375.6" stroke="#111" stroke-width="1.3"/>
<ellipse cx="503.86" cy="314" rx="1.6" ry="1.8" fill="#111"/>
<ellipse cx="503.86" cy="318.8" rx="1.6" ry="1.8" fill="#111"/>
<ellipse cx="503.86" cy="338.8" rx="1.6" ry="1.8" fill="#111"/>
<ellipse cx="503.86" cy="348.6" rx="1.6" ry="1.8" fill="#111"/>
<line x1="507.11" y1="355" x2="507.11" y2="395.3" stroke="#5e5e5e" stroke-width="1.0"/>
<rect x="505.48" y="369.4" width="3.25" height="16.80" fill="#8C3A9F" stroke="#111" stroke-width="0.85"/>
<line x1="505.48" y1="380.4" x2="508.73" y2="380.4" stroke="#111" stroke-width="1.3"/>
<ellipse cx="507.11" cy="323" rx="1.6" ry="1.8" fill="#111"/>
<ellipse cx="507.11" cy="326" rx="1.6" ry="1.8" fill="#111"/>
<ellipse cx="507.11" cy="329.5" rx="1.6" ry="1.8" fill="#111"/>
<ellipse cx="507.11" cy="333" rx="1.6" ry="1.8" fill="#111"/>
<ellipse cx="507.11" cy="338" rx="1.6" ry="1.8" fill="#111"/>
<ellipse cx="507.11" cy="344" rx="1.6" ry="1.8" fill="#111"/>
<line x1="511.77" y1="275.8" x2="511.77" y2="331" stroke="#5e5e5e" stroke-width="1.0"/>
<rect x="510.15" y="294" width="3.25" height="15.10" fill="#2BB3D6" stroke="#111" stroke-width="0.85"/>
<line x1="510.15" y1="301.2" x2="513.40" y2="301.2" stroke="#111" stroke-width="1.3"/>
<ellipse cx="511.77" cy="266.8" rx="1.6" ry="1.8" fill="#111"/>
<ellipse cx="511.77" cy="334" rx="1.6" ry="1.8" fill="#111"/>
<ellipse cx="511.77" cy="337.5" rx="1.6" ry="1.8" fill="#111"/>
<ellipse cx="511.77" cy="341" rx="1.6" ry="1.8" fill="#111"/>
<ellipse cx="511.77" cy="344.7" rx="1.6" ry="1.8" fill="#111"/>
<line x1="515.02" y1="269.8" x2="515.02" y2="347" stroke="#5e5e5e" stroke-width="1.0"/>
<rect x="513.40" y="295.6" width="3.25" height="21.00" fill="#8C3A9F" stroke="#111" stroke-width="0.85"/>
<line x1="513.40" y1="304.5" x2="516.65" y2="304.5" stroke="#111" stroke-width="1.3"/>
<ellipse cx="515.02" cy="349.5" rx="1.6" ry="1.8" fill="#111"/>
<ellipse cx="515.02" cy="352" rx="1.6" ry="1.8" fill="#111"/>
<ellipse cx="515.02" cy="354.4" rx="1.6" ry="1.8" fill="#111"/>
<line x1="519.69" y1="333" x2="519.69" y2="394.7" stroke="#5e5e5e" stroke-width="1.0"/>
<rect x="518.06" y="357" width="3.25" height="15.60" fill="#2BB3D6" stroke="#111" stroke-width="0.85"/>
<line x1="518.06" y1="364.8" x2="521.31" y2="364.8" stroke="#111" stroke-width="1.3"/>
<ellipse cx="519.69" cy="327.8" rx="1.6" ry="1.8" fill="#111"/>
<ellipse cx="519.69" cy="331" rx="1.6" ry="1.8" fill="#111"/>
<line x1="522.94" y1="349" x2="522.94" y2="395.3" stroke="#5e5e5e" stroke-width="1.0"/>
<rect x="521.31" y="369.4" width="3.25" height="14.20" fill="#8C3A9F" stroke="#111" stroke-width="0.85"/>
<line x1="521.31" y1="376.1" x2="524.56" y2="376.1" stroke="#111" stroke-width="1.3"/>
<ellipse cx="522.94" cy="340" rx="1.6" ry="1.8" fill="#111"/>
<ellipse cx="522.94" cy="343.5" rx="1.6" ry="1.8" fill="#111"/>
<ellipse cx="522.94" cy="347.3" rx="1.6" ry="1.8" fill="#111"/>
<line x1="527.60" y1="266.8" x2="527.60" y2="395.3" stroke="#5e5e5e" stroke-width="1.0"/>
<rect x="525.97" y="333.2" width="3.25" height="55.40" fill="#2BB3D6" stroke="#111" stroke-width="0.85"/>
<line x1="525.97" y1="373.5" x2="529.22" y2="373.5" stroke="#111" stroke-width="1.3"/>
<line x1="530.85" y1="295" x2="530.85" y2="395.3" stroke="#5e5e5e" stroke-width="1.0"/>
<rect x="529.22" y="351.2" width="3.25" height="39.60" fill="#8C3A9F" stroke="#111" stroke-width="0.85"/>
<line x1="529.22" y1="379.5" x2="532.47" y2="379.5" stroke="#111" stroke-width="1.3"/>
<ellipse cx="530.85" cy="263.1" rx="1.6" ry="1.8" fill="#111"/>
<ellipse cx="530.85" cy="266" rx="1.6" ry="1.8" fill="#111"/>
<ellipse cx="530.85" cy="269" rx="1.6" ry="1.8" fill="#111"/>
<ellipse cx="530.85" cy="272" rx="1.6" ry="1.8" fill="#111"/>
<ellipse cx="530.85" cy="275" rx="1.6" ry="1.8" fill="#111"/>
<ellipse cx="530.85" cy="278" rx="1.6" ry="1.8" fill="#111"/>
<ellipse cx="530.85" cy="281" rx="1.6" ry="1.8" fill="#111"/>
<ellipse cx="530.85" cy="284" rx="1.6" ry="1.8" fill="#111"/>
<ellipse cx="530.85" cy="287" rx="1.6" ry="1.8" fill="#111"/>
<ellipse cx="530.85" cy="290" rx="1.6" ry="1.8" fill="#111"/>
<ellipse cx="530.85" cy="292.2" rx="1.6" ry="1.8" fill="#111"/>
<line x1="535.51" y1="315.2" x2="535.51" y2="386.2" stroke="#5e5e5e" stroke-width="1.0"/>
<rect x="533.89" y="338.4" width="3.25" height="20.80" fill="#2BB3D6" stroke="#111" stroke-width="0.85"/>
<line x1="533.89" y1="346.6" x2="537.14" y2="346.6" stroke="#111" stroke-width="1.3"/>
<line x1="538.76" y1="312.7" x2="538.76" y2="386.2" stroke="#5e5e5e" stroke-width="1.0"/>
<rect x="537.14" y="341" width="3.25" height="22.50" fill="#8C3A9F" stroke="#111" stroke-width="0.85"/>
<line x1="537.14" y1="350.5" x2="540.39" y2="350.5" stroke="#111" stroke-width="1.3"/>
<line x1="543.43" y1="388" x2="543.43" y2="396" stroke="#5e5e5e" stroke-width="1.0"/>
<rect x="541.80" y="392" width="3.25" height="3.00" fill="#2BB3D6" stroke="#111" stroke-width="0.85"/>
<line x1="541.80" y1="393.5" x2="545.05" y2="393.5" stroke="#111" stroke-width="1.3"/>
<ellipse cx="543.43" cy="382" rx="1.6" ry="1.8" fill="#111"/>
<ellipse cx="543.43" cy="385" rx="1.6" ry="1.8" fill="#111"/>
<ellipse cx="543.43" cy="388" rx="1.6" ry="1.8" fill="#111"/>
<ellipse cx="543.43" cy="391" rx="1.6" ry="1.8" fill="#111"/>
<line x1="546.68" y1="388" x2="546.68" y2="396" stroke="#5e5e5e" stroke-width="1.0"/>
<rect x="545.05" y="392.5" width="3.25" height="3.00" fill="#8C3A9F" stroke="#111" stroke-width="0.85"/>
<line x1="545.05" y1="394" x2="548.30" y2="394" stroke="#111" stroke-width="1.3"/>
<ellipse cx="546.68" cy="381" rx="1.6" ry="1.8" fill="#111"/>
<ellipse cx="546.68" cy="384" rx="1.6" ry="1.8" fill="#111"/>
<ellipse cx="546.68" cy="387" rx="1.6" ry="1.8" fill="#111"/>
<ellipse cx="546.68" cy="390" rx="1.6" ry="1.8" fill="#111"/>
<line x1="551.34" y1="314" x2="551.34" y2="390.8" stroke="#5e5e5e" stroke-width="1.0"/>
<rect x="549.72" y="342.3" width="3.25" height="23.40" fill="#2BB3D6" stroke="#111" stroke-width="0.85"/>
<line x1="549.72" y1="354.8" x2="552.97" y2="354.8" stroke="#111" stroke-width="1.3"/>
<ellipse cx="551.34" cy="394.7" rx="1.6" ry="1.8" fill="#111"/>
<line x1="554.59" y1="303.1" x2="554.59" y2="392.7" stroke="#5e5e5e" stroke-width="1.0"/>
<rect x="552.97" y="335.6" width="3.25" height="22.70" fill="#8C3A9F" stroke="#111" stroke-width="0.85"/>
<line x1="552.97" y1="345.7" x2="556.22" y2="345.7" stroke="#111" stroke-width="1.3"/>
<line x1="559.25" y1="380" x2="559.25" y2="396" stroke="#5e5e5e" stroke-width="1.0"/>
<rect x="557.63" y="385.6" width="3.25" height="6.50" fill="#2BB3D6" stroke="#111" stroke-width="0.85"/>
<line x1="557.63" y1="389.5" x2="560.88" y2="389.5" stroke="#111" stroke-width="1.3"/>
<ellipse cx="559.25" cy="324.2" rx="1.6" ry="1.8" fill="#111"/>
<ellipse cx="559.25" cy="352.2" rx="1.6" ry="1.8" fill="#111"/>
<ellipse cx="559.25" cy="361.6" rx="1.6" ry="1.8" fill="#111"/>
<ellipse cx="559.25" cy="364.5" rx="1.6" ry="1.8" fill="#111"/>
<ellipse cx="559.25" cy="367.5" rx="1.6" ry="1.8" fill="#111"/>
<ellipse cx="559.25" cy="370.5" rx="1.6" ry="1.8" fill="#111"/>
<ellipse cx="559.25" cy="373" rx="1.6" ry="1.8" fill="#111"/>
<ellipse cx="559.25" cy="375" rx="1.6" ry="1.8" fill="#111"/>
<line x1="562.50" y1="385" x2="562.50" y2="396" stroke="#5e5e5e" stroke-width="1.0"/>
<rect x="560.88" y="389.5" width="3.25" height="4.50" fill="#8C3A9F" stroke="#111" stroke-width="0.85"/>
<line x1="560.88" y1="391.4" x2="564.13" y2="391.4" stroke="#111" stroke-width="1.3"/>
<ellipse cx="562.50" cy="364" rx="1.6" ry="1.8" fill="#111"/>
<ellipse cx="562.50" cy="367" rx="1.6" ry="1.8" fill="#111"/>
<ellipse cx="562.50" cy="370" rx="1.6" ry="1.8" fill="#111"/>
<ellipse cx="562.50" cy="373" rx="1.6" ry="1.8" fill="#111"/>
<ellipse cx="562.50" cy="376" rx="1.6" ry="1.8" fill="#111"/>
<ellipse cx="562.50" cy="379" rx="1.6" ry="1.8" fill="#111"/>
<ellipse cx="562.50" cy="382" rx="1.6" ry="1.8" fill="#111"/>
<ellipse cx="562.50" cy="384.5" rx="1.6" ry="1.8" fill="#111"/>
<line x1="567.17" y1="321.7" x2="567.17" y2="370.6" stroke="#5e5e5e" stroke-width="1.0"/>
<rect x="565.54" y="340.1" width="3.25" height="13.40" fill="#2BB3D6" stroke="#111" stroke-width="0.85"/>
<line x1="565.54" y1="347" x2="568.79" y2="347" stroke="#111" stroke-width="1.3"/>
<ellipse cx="567.17" cy="317.7" rx="1.6" ry="1.8" fill="#111"/>
<ellipse cx="567.17" cy="374.5" rx="1.6" ry="1.8" fill="#111"/>
<ellipse cx="567.17" cy="378" rx="1.6" ry="1.8" fill="#111"/>
<ellipse cx="567.17" cy="381" rx="1.6" ry="1.8" fill="#111"/>
<ellipse cx="567.17" cy="384" rx="1.6" ry="1.8" fill="#111"/>
<ellipse cx="567.17" cy="386.5" rx="1.6" ry="1.8" fill="#111"/>
<ellipse cx="567.17" cy="388.8" rx="1.6" ry="1.8" fill="#111"/>
<line x1="570.42" y1="325.8" x2="570.42" y2="378" stroke="#5e5e5e" stroke-width="1.0"/>
<rect x="568.79" y="342.3" width="3.25" height="15.10" fill="#8C3A9F" stroke="#111" stroke-width="0.85"/>
<line x1="568.79" y1="350.1" x2="572.04" y2="350.1" stroke="#111" stroke-width="1.3"/>
<ellipse cx="570.42" cy="302.2" rx="1.6" ry="1.8" fill="#111"/>
<ellipse cx="570.42" cy="309.5" rx="1.6" ry="1.8" fill="#111"/>
<ellipse cx="570.42" cy="316.7" rx="1.6" ry="1.8" fill="#111"/>
<ellipse cx="570.42" cy="319.5" rx="1.6" ry="1.8" fill="#111"/>
<ellipse cx="570.42" cy="380.4" rx="1.6" ry="1.8" fill="#111"/>
<ellipse cx="570.42" cy="386.2" rx="1.6" ry="1.8" fill="#111"/>
<line x1="575.08" y1="359" x2="575.08" y2="392.7" stroke="#5e5e5e" stroke-width="1.0"/>
<rect x="573.46" y="372.2" width="3.25" height="11.40" fill="#2BB3D6" stroke="#111" stroke-width="0.85"/>
<line x1="573.46" y1="378.7" x2="576.71" y2="378.7" stroke="#111" stroke-width="1.3"/>
<ellipse cx="575.08" cy="292.3" rx="1.6" ry="1.8" fill="#111"/>
<ellipse cx="575.08" cy="329.8" rx="1.6" ry="1.8" fill="#111"/>
<ellipse cx="575.08" cy="344" rx="1.6" ry="1.8" fill="#111"/>
<ellipse cx="575.08" cy="352.5" rx="1.6" ry="1.8" fill="#111"/>
<line x1="578.33" y1="362" x2="578.33" y2="394.7" stroke="#5e5e5e" stroke-width="1.0"/>
<rect x="576.71" y="376.1" width="3.25" height="10.40" fill="#8C3A9F" stroke="#111" stroke-width="0.85"/>
<line x1="576.71" y1="381.3" x2="579.96" y2="381.3" stroke="#111" stroke-width="1.3"/>
<ellipse cx="578.33" cy="340.6" rx="1.6" ry="1.8" fill="#111"/>
<ellipse cx="578.33" cy="353" rx="1.6" ry="1.8" fill="#111"/>
<ellipse cx="578.33" cy="356" rx="1.6" ry="1.8" fill="#111"/>
<ellipse cx="578.33" cy="358.5" rx="1.6" ry="1.8" fill="#111"/>
<ellipse cx="578.33" cy="361" rx="1.6" ry="1.8" fill="#111"/>
<line x1="583.00" y1="352" x2="583.00" y2="392.7" stroke="#5e5e5e" stroke-width="1.0"/>
<rect x="581.37" y="366.1" width="3.25" height="12.30" fill="#2BB3D6" stroke="#111" stroke-width="0.85"/>
<line x1="581.37" y1="372.6" x2="584.62" y2="372.6" stroke="#111" stroke-width="1.3"/>
<ellipse cx="583.00" cy="340.2" rx="1.6" ry="1.8" fill="#111"/>
<ellipse cx="583.00" cy="346" rx="1.6" ry="1.8" fill="#111"/>
<line x1="586.25" y1="356" x2="586.25" y2="393.4" stroke="#5e5e5e" stroke-width="1.0"/>
<rect x="584.62" y="372.2" width="3.25" height="11.40" fill="#8C3A9F" stroke="#111" stroke-width="0.85"/>
<line x1="584.62" y1="377.8" x2="587.87" y2="377.8" stroke="#111" stroke-width="1.3"/>
<ellipse cx="586.25" cy="348" rx="1.6" ry="1.8" fill="#111"/>
<ellipse cx="586.25" cy="350.5" rx="1.6" ry="1.8" fill="#111"/>
<ellipse cx="586.25" cy="353.8" rx="1.6" ry="1.8" fill="#111"/>
<line x1="590.91" y1="355" x2="590.91" y2="395.3" stroke="#5e5e5e" stroke-width="1.0"/>
<rect x="589.29" y="373.2" width="3.25" height="12.40" fill="#2BB3D6" stroke="#111" stroke-width="0.85"/>
<line x1="589.29" y1="379.5" x2="592.54" y2="379.5" stroke="#111" stroke-width="1.3"/>
<ellipse cx="590.91" cy="346" rx="1.6" ry="1.8" fill="#111"/>
<ellipse cx="590.91" cy="352.5" rx="1.6" ry="1.8" fill="#111"/>
<line x1="594.16" y1="360" x2="594.16" y2="396" stroke="#5e5e5e" stroke-width="1.0"/>
<rect x="592.54" y="376.5" width="3.25" height="11.70" fill="#8C3A9F" stroke="#111" stroke-width="0.85"/>
<line x1="592.54" y1="383.4" x2="595.79" y2="383.4" stroke="#111" stroke-width="1.3"/>
<ellipse cx="594.16" cy="341.4" rx="1.6" ry="1.8" fill="#111"/>
<ellipse cx="594.16" cy="345" rx="1.6" ry="1.8" fill="#111"/>
<ellipse cx="594.16" cy="348" rx="1.6" ry="1.8" fill="#111"/>
<ellipse cx="594.16" cy="351" rx="1.6" ry="1.8" fill="#111"/>
<ellipse cx="594.16" cy="354.5" rx="1.6" ry="1.8" fill="#111"/>
<ellipse cx="594.16" cy="358.3" rx="1.6" ry="1.8" fill="#111"/>
<line x1="598.83" y1="308.1" x2="598.83" y2="387.5" stroke="#5e5e5e" stroke-width="1.0"/>
<rect x="597.20" y="341.5" width="3.25" height="22.00" fill="#2BB3D6" stroke="#111" stroke-width="0.85"/>
<line x1="597.20" y1="352.5" x2="600.45" y2="352.5" stroke="#111" stroke-width="1.3"/>
<ellipse cx="598.83" cy="303.6" rx="1.6" ry="1.8" fill="#111"/>
<line x1="602.08" y1="313.1" x2="602.08" y2="390.1" stroke="#5e5e5e" stroke-width="1.0"/>
<rect x="600.45" y="345.1" width="3.25" height="24.30" fill="#8C3A9F" stroke="#111" stroke-width="0.85"/>
<line x1="600.45" y1="359.6" x2="603.70" y2="359.6" stroke="#111" stroke-width="1.3"/>
<line x1="606.74" y1="335.7" x2="606.74" y2="395.3" stroke="#5e5e5e" stroke-width="1.0"/>
<rect x="605.11" y="357" width="3.25" height="16.90" fill="#2BB3D6" stroke="#111" stroke-width="0.85"/>
<line x1="605.11" y1="364.8" x2="608.36" y2="364.8" stroke="#111" stroke-width="1.3"/>
<line x1="609.99" y1="339.9" x2="609.99" y2="396" stroke="#5e5e5e" stroke-width="1.0"/>
<rect x="608.36" y="363.5" width="3.25" height="16.90" fill="#8C3A9F" stroke="#111" stroke-width="0.85"/>
<line x1="608.36" y1="372.2" x2="611.61" y2="372.2" stroke="#111" stroke-width="1.3"/>
<ellipse cx="609.99" cy="333.5" rx="1.6" ry="1.8" fill="#111"/>
<ellipse cx="609.99" cy="337.1" rx="1.6" ry="1.8" fill="#111"/>
<line x1="614.65" y1="305" x2="614.65" y2="370" stroke="#5e5e5e" stroke-width="1.0"/>
<rect x="613.03" y="330" width="3.25" height="16.60" fill="#2BB3D6" stroke="#111" stroke-width="0.85"/>
<line x1="613.03" y1="336.7" x2="616.28" y2="336.7" stroke="#111" stroke-width="1.3"/>
<ellipse cx="614.65" cy="374.5" rx="1.6" ry="1.8" fill="#111"/>
<ellipse cx="614.65" cy="378" rx="1.6" ry="1.8" fill="#111"/>
<ellipse cx="614.65" cy="381" rx="1.6" ry="1.8" fill="#111"/>
<ellipse cx="614.65" cy="384" rx="1.6" ry="1.8" fill="#111"/>
<ellipse cx="614.65" cy="387.5" rx="1.6" ry="1.8" fill="#111"/>
<line x1="617.90" y1="312" x2="617.90" y2="381" stroke="#5e5e5e" stroke-width="1.0"/>
<rect x="616.28" y="335.5" width="3.25" height="19.60" fill="#8C3A9F" stroke="#111" stroke-width="0.85"/>
<line x1="616.28" y1="344.5" x2="619.53" y2="344.5" stroke="#111" stroke-width="1.3"/>
<line x1="622.57" y1="307.1" x2="622.57" y2="378" stroke="#5e5e5e" stroke-width="1.0"/>
<rect x="620.94" y="331" width="3.25" height="20.00" fill="#2BB3D6" stroke="#111" stroke-width="0.85"/>
<line x1="620.94" y1="341.3" x2="624.19" y2="341.3" stroke="#111" stroke-width="1.3"/>
<ellipse cx="622.57" cy="381" rx="1.6" ry="1.8" fill="#111"/>
<ellipse cx="622.57" cy="384" rx="1.6" ry="1.8" fill="#111"/>
<ellipse cx="622.57" cy="387" rx="1.6" ry="1.8" fill="#111"/>
<ellipse cx="622.57" cy="389.5" rx="1.6" ry="1.8" fill="#111"/>
<line x1="625.82" y1="320.4" x2="625.82" y2="387.5" stroke="#5e5e5e" stroke-width="1.0"/>
<rect x="624.19" y="344.8" width="3.25" height="19.10" fill="#8C3A9F" stroke="#111" stroke-width="0.85"/>
<line x1="624.19" y1="353.3" x2="627.44" y2="353.3" stroke="#111" stroke-width="1.3"/>
<line x1="630.48" y1="350" x2="630.48" y2="395" stroke="#5e5e5e" stroke-width="1.0"/>
<rect x="628.86" y="366.1" width="3.25" height="12.60" fill="#2BB3D6" stroke="#111" stroke-width="0.85"/>
<line x1="628.86" y1="372.2" x2="632.11" y2="372.2" stroke="#111" stroke-width="1.3"/>
<ellipse cx="630.48" cy="343" rx="1.6" ry="1.8" fill="#111"/>
<ellipse cx="630.48" cy="345" rx="1.6" ry="1.8" fill="#111"/>
<ellipse cx="630.48" cy="347.3" rx="1.6" ry="1.8" fill="#111"/>
<line x1="633.73" y1="351.6" x2="633.73" y2="394" stroke="#5e5e5e" stroke-width="1.0"/>
<rect x="632.11" y="371.3" width="3.25" height="12.60" fill="#8C3A9F" stroke="#111" stroke-width="0.85"/>
<line x1="632.11" y1="379.1" x2="635.36" y2="379.1" stroke="#111" stroke-width="1.3"/>
<ellipse cx="633.73" cy="331.5" rx="1.6" ry="1.8" fill="#111"/>
<ellipse cx="633.73" cy="342.6" rx="1.6" ry="1.8" fill="#111"/>
<ellipse cx="633.73" cy="346.3" rx="1.6" ry="1.8" fill="#111"/>
<line x1="638.39" y1="380" x2="638.39" y2="395.3" stroke="#5e5e5e" stroke-width="1.0"/>
<rect x="636.77" y="385.2" width="3.25" height="5.60" fill="#2BB3D6" stroke="#111" stroke-width="0.85"/>
<line x1="636.77" y1="388.2" x2="640.02" y2="388.2" stroke="#111" stroke-width="1.3"/>
<ellipse cx="638.39" cy="364" rx="1.6" ry="1.8" fill="#111"/>
<ellipse cx="638.39" cy="367" rx="1.6" ry="1.8" fill="#111"/>
<ellipse cx="638.39" cy="370" rx="1.6" ry="1.8" fill="#111"/>
<ellipse cx="638.39" cy="373" rx="1.6" ry="1.8" fill="#111"/>
<ellipse cx="638.39" cy="376" rx="1.6" ry="1.8" fill="#111"/>
<ellipse cx="638.39" cy="377.5" rx="1.6" ry="1.8" fill="#111"/>
<line x1="641.64" y1="382" x2="641.64" y2="396" stroke="#5e5e5e" stroke-width="1.0"/>
<rect x="640.02" y="387.3" width="3.25" height="4.80" fill="#8C3A9F" stroke="#111" stroke-width="0.85"/>
<line x1="640.02" y1="389.5" x2="643.27" y2="389.5" stroke="#111" stroke-width="1.3"/>
<ellipse cx="641.64" cy="370.6" rx="1.6" ry="1.8" fill="#111"/>
<ellipse cx="641.64" cy="374" rx="1.6" ry="1.8" fill="#111"/>
<ellipse cx="641.64" cy="377" rx="1.6" ry="1.8" fill="#111"/>
<ellipse cx="641.64" cy="379.7" rx="1.6" ry="1.8" fill="#111"/>
<line x1="646.31" y1="320.4" x2="646.31" y2="387.5" stroke="#5e5e5e" stroke-width="1.0"/>
<rect x="644.68" y="345.3" width="3.25" height="17.80" fill="#2BB3D6" stroke="#111" stroke-width="0.85"/>
<line x1="644.68" y1="354.4" x2="647.93" y2="354.4" stroke="#111" stroke-width="1.3"/>
<ellipse cx="646.31" cy="312" rx="1.6" ry="1.8" fill="#111"/>
<line x1="649.56" y1="322" x2="649.56" y2="389.5" stroke="#5e5e5e" stroke-width="1.0"/>
<rect x="647.93" y="348.5" width="3.25" height="19.80" fill="#8C3A9F" stroke="#111" stroke-width="0.85"/>
<line x1="647.93" y1="359" x2="651.18" y2="359" stroke="#111" stroke-width="1.3"/>
<ellipse cx="649.56" cy="313.5" rx="1.6" ry="1.8" fill="#111"/>
<ellipse cx="649.56" cy="316" rx="1.6" ry="1.8" fill="#111"/>
<ellipse cx="649.56" cy="318.8" rx="1.6" ry="1.8" fill="#111"/>
<line x1="654.22" y1="294.5" x2="654.22" y2="334.7" stroke="#5e5e5e" stroke-width="1.0"/>
<rect x="652.60" y="310.2" width="3.25" height="10.30" fill="#2BB3D6" stroke="#111" stroke-width="0.85"/>
<line x1="652.60" y1="315.6" x2="655.85" y2="315.6" stroke="#111" stroke-width="1.3"/>
<ellipse cx="654.22" cy="289.2" rx="1.6" ry="1.8" fill="#111"/>
<ellipse cx="654.22" cy="293.2" rx="1.6" ry="1.8" fill="#111"/>
<ellipse cx="654.22" cy="340" rx="1.6" ry="1.8" fill="#111"/>
<line x1="657.47" y1="290.3" x2="657.47" y2="329.5" stroke="#5e5e5e" stroke-width="1.0"/>
<rect x="655.85" y="304.1" width="3.25" height="11.60" fill="#8C3A9F" stroke="#111" stroke-width="0.85"/>
<line x1="655.85" y1="310.1" x2="659.10" y2="310.1" stroke="#111" stroke-width="1.3"/>
<ellipse cx="657.47" cy="286.1" rx="1.6" ry="1.8" fill="#111"/>
<ellipse cx="657.47" cy="333.6" rx="1.6" ry="1.8" fill="#111"/>
<ellipse cx="657.47" cy="336" rx="1.6" ry="1.8" fill="#111"/>
<ellipse cx="657.47" cy="338" rx="1.6" ry="1.8" fill="#111"/>
<ellipse cx="657.47" cy="350.6" rx="1.6" ry="1.8" fill="#111"/>
<line x1="662.14" y1="350" x2="662.14" y2="393.4" stroke="#5e5e5e" stroke-width="1.0"/>
<rect x="660.51" y="368.3" width="3.25" height="12.10" fill="#2BB3D6" stroke="#111" stroke-width="0.85"/>
<line x1="660.51" y1="373.2" x2="663.76" y2="373.2" stroke="#111" stroke-width="1.3"/>
<ellipse cx="662.14" cy="346.3" rx="1.6" ry="1.8" fill="#111"/>
<line x1="665.39" y1="347.3" x2="665.39" y2="394.7" stroke="#5e5e5e" stroke-width="1.0"/>
<rect x="663.76" y="369.6" width="3.25" height="15.10" fill="#8C3A9F" stroke="#111" stroke-width="0.85"/>
<line x1="663.76" y1="376.9" x2="667.01" y2="376.9" stroke="#111" stroke-width="1.3"/>
<line x1="670.05" y1="310.4" x2="670.05" y2="362" stroke="#5e5e5e" stroke-width="1.0"/>
<rect x="668.43" y="327.4" width="3.25" height="15.10" fill="#2BB3D6" stroke="#111" stroke-width="0.85"/>
<line x1="668.43" y1="334.1" x2="671.68" y2="334.1" stroke="#111" stroke-width="1.3"/>
<ellipse cx="670.05" cy="365.5" rx="1.6" ry="1.8" fill="#111"/>
<ellipse cx="670.05" cy="369" rx="1.6" ry="1.8" fill="#111"/>
<ellipse cx="670.05" cy="373" rx="1.6" ry="1.8" fill="#111"/>
<ellipse cx="670.05" cy="377" rx="1.6" ry="1.8" fill="#111"/>
<ellipse cx="670.05" cy="382.3" rx="1.6" ry="1.8" fill="#111"/>
<line x1="673.30" y1="307.7" x2="673.30" y2="379.7" stroke="#5e5e5e" stroke-width="1.0"/>
<rect x="671.68" y="330.3" width="3.25" height="20.70" fill="#8C3A9F" stroke="#111" stroke-width="0.85"/>
<line x1="671.68" y1="340.3" x2="674.93" y2="340.3" stroke="#111" stroke-width="1.3"/>
<line x1="677.97" y1="348" x2="677.97" y2="395" stroke="#5e5e5e" stroke-width="1.0"/>
<rect x="676.34" y="368.3" width="3.25" height="14.30" fill="#2BB3D6" stroke="#111" stroke-width="0.85"/>
<line x1="676.34" y1="375.6" x2="679.59" y2="375.6" stroke="#111" stroke-width="1.3"/>
<ellipse cx="677.97" cy="345.3" rx="1.6" ry="1.8" fill="#111"/>
<line x1="681.22" y1="362" x2="681.22" y2="395" stroke="#5e5e5e" stroke-width="1.0"/>
<rect x="679.59" y="377.1" width="3.25" height="11.10" fill="#8C3A9F" stroke="#111" stroke-width="0.85"/>
<line x1="679.59" y1="383.4" x2="682.84" y2="383.4" stroke="#111" stroke-width="1.3"/>
<ellipse cx="681.22" cy="354.4" rx="1.6" ry="1.8" fill="#111"/>
<ellipse cx="681.22" cy="357" rx="1.6" ry="1.8" fill="#111"/>
<ellipse cx="681.22" cy="360.3" rx="1.6" ry="1.8" fill="#111"/>
<line x1="402.60" y1="403.1" x2="402.60" y2="405.5" stroke="#333" stroke-width="0.9"/>
<text transform="translate(407.80,411.60) scale(0.83,1) rotate(-48.8)" font-family="'Liberation Sans', sans-serif" font-size="9.1" fill="#222" text-anchor="end" font-weight="normal" font-style="normal" >TNFSF18</text>
<text transform="translate(402.60,257.30) scale(1.0,1)" font-family="'Liberation Sans', sans-serif" font-size="6.9" fill="#000" text-anchor="middle" font-weight="bold" font-style="normal" >*</text>
<line x1="410.51" y1="403.1" x2="410.51" y2="405.5" stroke="#333" stroke-width="0.9"/>
<text transform="translate(415.71,411.60) scale(0.83,1) rotate(-48.8)" font-family="'Liberation Sans', sans-serif" font-size="9.1" fill="#222" text-anchor="end" font-weight="normal" font-style="normal" >LGALS9</text>
<text transform="translate(410.51,257.30) scale(1.0,1)" font-family="'Liberation Sans', sans-serif" font-size="6.9" fill="#000" text-anchor="middle" font-weight="bold" font-style="normal" >***</text>
<line x1="418.43" y1="403.1" x2="418.43" y2="405.5" stroke="#333" stroke-width="0.9"/>
<text transform="translate(423.63,411.60) scale(0.83,1) rotate(-48.8)" font-family="'Liberation Sans', sans-serif" font-size="9.1" fill="#222" text-anchor="end" font-weight="normal" font-style="normal" >PDCD1</text>
<text transform="translate(418.43,257.30) scale(1.0,1)" font-family="'Liberation Sans', sans-serif" font-size="6.9" fill="#000" text-anchor="middle" font-weight="bold" font-style="normal" >***</text>
<line x1="426.34" y1="403.1" x2="426.34" y2="405.5" stroke="#333" stroke-width="0.9"/>
<text transform="translate(431.54,411.60) scale(0.83,1) rotate(-48.8)" font-family="'Liberation Sans', sans-serif" font-size="9.1" fill="#222" text-anchor="end" font-weight="normal" font-style="normal" >CD28</text>
<text transform="translate(426.34,257.30) scale(1.0,1)" font-family="'Liberation Sans', sans-serif" font-size="6.9" fill="#000" text-anchor="middle" font-weight="bold" font-style="normal" >***</text>
<line x1="434.26" y1="403.1" x2="434.26" y2="405.5" stroke="#333" stroke-width="0.9"/>
<text transform="translate(439.46,411.60) scale(0.83,1) rotate(-48.8)" font-family="'Liberation Sans', sans-serif" font-size="9.1" fill="#222" text-anchor="end" font-weight="normal" font-style="normal" >CD48</text>
<text transform="translate(434.26,257.30) scale(1.0,1)" font-family="'Liberation Sans', sans-serif" font-size="6.9" fill="#000" text-anchor="middle" font-weight="bold" font-style="normal" >***</text>
<line x1="442.17" y1="403.1" x2="442.17" y2="405.5" stroke="#333" stroke-width="0.9"/>
<text transform="translate(447.37,411.60) scale(0.83,1) rotate(-48.8)" font-family="'Liberation Sans', sans-serif" font-size="9.1" fill="#222" text-anchor="end" font-weight="normal" font-style="normal" >IDO1</text>
<text transform="translate(442.17,257.30) scale(1.0,1)" font-family="'Liberation Sans', sans-serif" font-size="6.9" fill="#000" text-anchor="middle" font-weight="bold" font-style="normal" >***</text>
<line x1="450.08" y1="403.1" x2="450.08" y2="405.5" stroke="#333" stroke-width="0.9"/>
<text transform="translate(455.28,411.60) scale(0.83,1) rotate(-48.8)" font-family="'Liberation Sans', sans-serif" font-size="9.1" fill="#222" text-anchor="end" font-weight="normal" font-style="normal" >TNFSF14</text>
<text transform="translate(450.08,257.30) scale(1.0,1)" font-family="'Liberation Sans', sans-serif" font-size="6.9" fill="#000" text-anchor="middle" font-weight="bold" font-style="normal" >***</text>
<line x1="458.00" y1="403.1" x2="458.00" y2="405.5" stroke="#333" stroke-width="0.9"/>
<text transform="translate(463.20,411.60) scale(0.83,1) rotate(-48.8)" font-family="'Liberation Sans', sans-serif" font-size="9.1" fill="#222" text-anchor="end" font-weight="normal" font-style="normal" >TIGIT</text>
<text transform="translate(458.00,257.30) scale(1.0,1)" font-family="'Liberation Sans', sans-serif" font-size="6.9" fill="#000" text-anchor="middle" font-weight="bold" font-style="normal" >***</text>
<line x1="465.91" y1="403.1" x2="465.91" y2="405.5" stroke="#333" stroke-width="0.9"/>
<text transform="translate(471.11,411.60) scale(0.83,1) rotate(-48.8)" font-family="'Liberation Sans', sans-serif" font-size="9.1" fill="#222" text-anchor="end" font-weight="normal" font-style="normal" >TNFRSF14</text>
<text transform="translate(465.91,257.30) scale(1.0,1)" font-family="'Liberation Sans', sans-serif" font-size="6.9" fill="#000" text-anchor="middle" font-weight="bold" font-style="normal" >***</text>
<line x1="473.83" y1="403.1" x2="473.83" y2="405.5" stroke="#333" stroke-width="0.9"/>
<text transform="translate(479.03,411.60) scale(0.83,1) rotate(-48.8)" font-family="'Liberation Sans', sans-serif" font-size="9.1" fill="#222" text-anchor="end" font-weight="normal" font-style="normal" >BTNL2</text>
<text transform="translate(473.83,257.30) scale(1.0,1)" font-family="'Liberation Sans', sans-serif" font-size="6.9" fill="#000" text-anchor="middle" font-weight="bold" font-style="normal" >***</text>
<line x1="481.74" y1="403.1" x2="481.74" y2="405.5" stroke="#333" stroke-width="0.9"/>
<text transform="translate(486.94,411.60) scale(0.83,1) rotate(-48.8)" font-family="'Liberation Sans', sans-serif" font-size="9.1" fill="#222" text-anchor="end" font-weight="normal" font-style="normal" >CTLA4</text>
<text transform="translate(481.74,257.30) scale(1.0,1)" font-family="'Liberation Sans', sans-serif" font-size="6.9" fill="#000" text-anchor="middle" font-weight="bold" font-style="normal" >***</text>
<line x1="489.65" y1="403.1" x2="489.65" y2="405.5" stroke="#333" stroke-width="0.9"/>
<text transform="translate(494.85,411.60) scale(0.83,1) rotate(-48.8)" font-family="'Liberation Sans', sans-serif" font-size="9.1" fill="#222" text-anchor="end" font-weight="normal" font-style="normal" >CD40</text>
<text transform="translate(489.65,257.30) scale(1.0,1)" font-family="'Liberation Sans', sans-serif" font-size="6.9" fill="#000" text-anchor="middle" font-weight="bold" font-style="normal" >***</text>
<line x1="497.57" y1="403.1" x2="497.57" y2="405.5" stroke="#333" stroke-width="0.9"/>
<text transform="translate(502.77,411.60) scale(0.83,1) rotate(-48.8)" font-family="'Liberation Sans', sans-serif" font-size="9.1" fill="#222" text-anchor="end" font-weight="normal" font-style="normal" >HAVCR2</text>
<text transform="translate(497.57,257.30) scale(1.0,1)" font-family="'Liberation Sans', sans-serif" font-size="6.9" fill="#000" text-anchor="middle" font-weight="bold" font-style="normal" >***</text>
<line x1="505.48" y1="403.1" x2="505.48" y2="405.5" stroke="#333" stroke-width="0.9"/>
<text transform="translate(510.68,411.60) scale(0.83,1) rotate(-48.8)" font-family="'Liberation Sans', sans-serif" font-size="9.1" fill="#222" text-anchor="end" font-weight="normal" font-style="normal" >CD70</text>
<text transform="translate(505.48,257.30) scale(1.0,1)" font-family="'Liberation Sans', sans-serif" font-size="6.9" fill="#000" text-anchor="middle" font-weight="bold" font-style="normal" >**</text>
<line x1="513.40" y1="403.1" x2="513.40" y2="405.5" stroke="#333" stroke-width="0.9"/>
<text transform="translate(518.60,411.60) scale(0.83,1) rotate(-48.8)" font-family="'Liberation Sans', sans-serif" font-size="9.1" fill="#222" text-anchor="end" font-weight="normal" font-style="normal" >CD44</text>
<text transform="translate(513.40,257.30) scale(1.0,1)" font-family="'Liberation Sans', sans-serif" font-size="6.9" fill="#000" text-anchor="middle" font-weight="bold" font-style="normal" >**</text>
<line x1="521.31" y1="403.1" x2="521.31" y2="405.5" stroke="#333" stroke-width="0.9"/>
<text transform="translate(526.51,411.60) scale(0.83,1) rotate(-48.8)" font-family="'Liberation Sans', sans-serif" font-size="9.1" fill="#222" text-anchor="end" font-weight="normal" font-style="normal" >CD40LG</text>
<text transform="translate(521.31,257.30) scale(1.0,1)" font-family="'Liberation Sans', sans-serif" font-size="6.9" fill="#000" text-anchor="middle" font-weight="bold" font-style="normal" >***</text>
<line x1="529.22" y1="403.1" x2="529.22" y2="405.5" stroke="#333" stroke-width="0.9"/>
<text transform="translate(534.42,411.60) scale(0.83,1) rotate(-48.8)" font-family="'Liberation Sans', sans-serif" font-size="9.1" fill="#222" text-anchor="end" font-weight="normal" font-style="normal" >HHLA2</text>
<text transform="translate(529.22,257.30) scale(1.0,1)" font-family="'Liberation Sans', sans-serif" font-size="6.9" fill="#000" text-anchor="middle" font-weight="bold" font-style="normal" >*</text>
<line x1="537.14" y1="403.1" x2="537.14" y2="405.5" stroke="#333" stroke-width="0.9"/>
<text transform="translate(542.34,411.60) scale(0.83,1) rotate(-48.8)" font-family="'Liberation Sans', sans-serif" font-size="9.1" fill="#222" text-anchor="end" font-weight="normal" font-style="normal" >TNFRSF25</text>
<text transform="translate(537.14,257.30) scale(1.0,1)" font-family="'Liberation Sans', sans-serif" font-size="6.9" fill="#000" text-anchor="middle" font-weight="bold" font-style="normal" >*</text>
<line x1="545.05" y1="403.1" x2="545.05" y2="405.5" stroke="#333" stroke-width="0.9"/>
<text transform="translate(550.25,411.60) scale(0.83,1) rotate(-48.8)" font-family="'Liberation Sans', sans-serif" font-size="9.1" fill="#222" text-anchor="end" font-weight="normal" font-style="normal" >ADORA2A</text>
<text transform="translate(545.05,257.30) scale(1.0,1)" font-family="'Liberation Sans', sans-serif" font-size="6.9" fill="#000" text-anchor="middle" font-weight="bold" font-style="normal" >***</text>
<line x1="552.97" y1="403.1" x2="552.97" y2="405.5" stroke="#333" stroke-width="0.9"/>
<text transform="translate(558.17,411.60) scale(0.83,1) rotate(-48.8)" font-family="'Liberation Sans', sans-serif" font-size="9.1" fill="#222" text-anchor="end" font-weight="normal" font-style="normal" >TNFSF9</text>
<text transform="translate(552.97,257.30) scale(1.0,1)" font-family="'Liberation Sans', sans-serif" font-size="6.9" fill="#000" text-anchor="middle" font-weight="bold" font-style="normal" >***</text>
<line x1="560.88" y1="403.1" x2="560.88" y2="405.5" stroke="#333" stroke-width="0.9"/>
<text transform="translate(566.08,411.60) scale(0.83,1) rotate(-48.8)" font-family="'Liberation Sans', sans-serif" font-size="9.1" fill="#222" text-anchor="end" font-weight="normal" font-style="normal" >IDO2</text>
<text transform="translate(560.88,257.30) scale(1.0,1)" font-family="'Liberation Sans', sans-serif" font-size="6.9" fill="#000" text-anchor="middle" font-weight="bold" font-style="normal" >**</text>
<line x1="568.79" y1="403.1" x2="568.79" y2="405.5" stroke="#333" stroke-width="0.9"/>
<text transform="translate(573.99,411.60) scale(0.83,1) rotate(-48.8)" font-family="'Liberation Sans', sans-serif" font-size="9.1" fill="#222" text-anchor="end" font-weight="normal" font-style="normal" >TNFRSF4</text>
<text transform="translate(568.79,257.30) scale(1.0,1)" font-family="'Liberation Sans', sans-serif" font-size="6.9" fill="#000" text-anchor="middle" font-weight="bold" font-style="normal" >**</text>
<line x1="576.71" y1="403.1" x2="576.71" y2="405.5" stroke="#333" stroke-width="0.9"/>
<text transform="translate(581.91,411.60) scale(0.83,1) rotate(-48.8)" font-family="'Liberation Sans', sans-serif" font-size="9.1" fill="#222" text-anchor="end" font-weight="normal" font-style="normal" >TNFRSF8</text>
<text transform="translate(576.71,257.30) scale(1.0,1)" font-family="'Liberation Sans', sans-serif" font-size="6.9" fill="#000" text-anchor="middle" font-weight="bold" font-style="normal" >***</text>
<line x1="584.62" y1="403.1" x2="584.62" y2="405.5" stroke="#333" stroke-width="0.9"/>
<text transform="translate(589.82,411.60) scale(0.83,1) rotate(-48.8)" font-family="'Liberation Sans', sans-serif" font-size="9.1" fill="#222" text-anchor="end" font-weight="normal" font-style="normal" >CD200R1</text>
<text transform="translate(584.62,257.30) scale(1.0,1)" font-family="'Liberation Sans', sans-serif" font-size="6.9" fill="#000" text-anchor="middle" font-weight="bold" font-style="normal" >***</text>
<line x1="592.54" y1="403.1" x2="592.54" y2="405.5" stroke="#333" stroke-width="0.9"/>
<text transform="translate(597.74,411.60) scale(0.83,1) rotate(-48.8)" font-family="'Liberation Sans', sans-serif" font-size="9.1" fill="#222" text-anchor="end" font-weight="normal" font-style="normal" >TMIGD2</text>
<text transform="translate(592.54,257.30) scale(1.0,1)" font-family="'Liberation Sans', sans-serif" font-size="6.9" fill="#000" text-anchor="middle" font-weight="bold" font-style="normal" >***</text>
<line x1="600.45" y1="403.1" x2="600.45" y2="405.5" stroke="#333" stroke-width="0.9"/>
<text transform="translate(605.65,411.60) scale(0.83,1) rotate(-48.8)" font-family="'Liberation Sans', sans-serif" font-size="9.1" fill="#222" text-anchor="end" font-weight="normal" font-style="normal" >LAG3</text>
<text transform="translate(600.45,257.30) scale(1.0,1)" font-family="'Liberation Sans', sans-serif" font-size="6.9" fill="#000" text-anchor="middle" font-weight="bold" font-style="normal" >***</text>
<line x1="608.36" y1="403.1" x2="608.36" y2="405.5" stroke="#333" stroke-width="0.9"/>
<text transform="translate(613.56,411.60) scale(0.83,1) rotate(-48.8)" font-family="'Liberation Sans', sans-serif" font-size="9.1" fill="#222" text-anchor="end" font-weight="normal" font-style="normal" >ICOS</text>
<text transform="translate(608.36,257.30) scale(1.0,1)" font-family="'Liberation Sans', sans-serif" font-size="6.9" fill="#000" text-anchor="middle" font-weight="bold" font-style="normal" >***</text>
<line x1="616.28" y1="403.1" x2="616.28" y2="405.5" stroke="#333" stroke-width="0.9"/>
<text transform="translate(621.48,411.60) scale(0.83,1) rotate(-48.8)" font-family="'Liberation Sans', sans-serif" font-size="9.1" fill="#222" text-anchor="end" font-weight="normal" font-style="normal" >LAIR1</text>
<text transform="translate(616.28,257.30) scale(1.0,1)" font-family="'Liberation Sans', sans-serif" font-size="6.9" fill="#000" text-anchor="middle" font-weight="bold" font-style="normal" >***</text>
<line x1="624.19" y1="403.1" x2="624.19" y2="405.5" stroke="#333" stroke-width="0.9"/>
<text transform="translate(629.39,411.60) scale(0.83,1) rotate(-48.8)" font-family="'Liberation Sans', sans-serif" font-size="9.1" fill="#222" text-anchor="end" font-weight="normal" font-style="normal" >CD27</text>
<text transform="translate(624.19,257.30) scale(1.0,1)" font-family="'Liberation Sans', sans-serif" font-size="6.9" fill="#000" text-anchor="middle" font-weight="bold" font-style="normal" >***</text>
<line x1="632.11" y1="403.1" x2="632.11" y2="405.5" stroke="#333" stroke-width="0.9"/>
<text transform="translate(637.31,411.60) scale(0.83,1) rotate(-48.8)" font-family="'Liberation Sans', sans-serif" font-size="9.1" fill="#222" text-anchor="end" font-weight="normal" font-style="normal" >CD244</text>
<text transform="translate(632.11,257.30) scale(1.0,1)" font-family="'Liberation Sans', sans-serif" font-size="6.9" fill="#000" text-anchor="middle" font-weight="bold" font-style="normal" >***</text>
<line x1="640.02" y1="403.1" x2="640.02" y2="405.5" stroke="#333" stroke-width="0.9"/>
<text transform="translate(645.22,411.60) scale(0.83,1) rotate(-48.8)" font-family="'Liberation Sans', sans-serif" font-size="9.1" fill="#222" text-anchor="end" font-weight="normal" font-style="normal" >CD160</text>
<text transform="translate(640.02,257.30) scale(1.0,1)" font-family="'Liberation Sans', sans-serif" font-size="6.9" fill="#000" text-anchor="middle" font-weight="bold" font-style="normal" >***</text>
<line x1="647.93" y1="403.1" x2="647.93" y2="405.5" stroke="#333" stroke-width="0.9"/>
<text transform="translate(653.13,411.60) scale(0.83,1) rotate(-48.8)" font-family="'Liberation Sans', sans-serif" font-size="9.1" fill="#222" text-anchor="end" font-weight="normal" font-style="normal" >PDCD1LG2</text>
<text transform="translate(647.93,257.30) scale(1.0,1)" font-family="'Liberation Sans', sans-serif" font-size="6.9" fill="#000" text-anchor="middle" font-weight="bold" font-style="normal" >**</text>
<line x1="655.85" y1="403.1" x2="655.85" y2="405.5" stroke="#333" stroke-width="0.9"/>
<text transform="translate(661.05,411.60) scale(0.83,1) rotate(-48.8)" font-family="'Liberation Sans', sans-serif" font-size="9.1" fill="#222" text-anchor="end" font-weight="normal" font-style="normal" >CD276</text>
<text transform="translate(655.85,257.30) scale(1.0,1)" font-family="'Liberation Sans', sans-serif" font-size="6.9" fill="#000" text-anchor="middle" font-weight="bold" font-style="normal" >***</text>
<line x1="663.76" y1="403.1" x2="663.76" y2="405.5" stroke="#333" stroke-width="0.9"/>
<text transform="translate(668.96,411.60) scale(0.83,1) rotate(-48.8)" font-family="'Liberation Sans', sans-serif" font-size="9.1" fill="#222" text-anchor="end" font-weight="normal" font-style="normal" >CD80</text>
<text transform="translate(663.76,257.30) scale(1.0,1)" font-family="'Liberation Sans', sans-serif" font-size="6.9" fill="#000" text-anchor="middle" font-weight="bold" font-style="normal" >***</text>
<line x1="671.68" y1="403.1" x2="671.68" y2="405.5" stroke="#333" stroke-width="0.9"/>
<text transform="translate(676.88,411.60) scale(0.83,1) rotate(-48.8)" font-family="'Liberation Sans', sans-serif" font-size="9.1" fill="#222" text-anchor="end" font-weight="normal" font-style="normal" >CD86</text>
<text transform="translate(671.68,257.30) scale(1.0,1)" font-family="'Liberation Sans', sans-serif" font-size="6.9" fill="#000" text-anchor="middle" font-weight="bold" font-style="normal" >***</text>
<line x1="679.59" y1="403.1" x2="679.59" y2="405.5" stroke="#333" stroke-width="0.9"/>
<text transform="translate(684.79,411.60) scale(0.83,1) rotate(-48.8)" font-family="'Liberation Sans', sans-serif" font-size="9.1" fill="#222" text-anchor="end" font-weight="normal" font-style="normal" >BTLA</text>
<text transform="translate(679.59,257.30) scale(1.0,1)" font-family="'Liberation Sans', sans-serif" font-size="6.9" fill="#000" text-anchor="middle" font-weight="bold" font-style="normal" >***</text>
<text transform="translate(4.60,375.00) scale(0.8,1)" font-family="'Liberation Serif', serif" font-size="18.0" fill="#000" text-anchor="start" font-weight="normal" font-style="normal" >D</text>
<text transform="translate(156.40,357.40) scale(0.83,1)" font-family="'Liberation Sans', sans-serif" font-size="8.8" fill="#111" text-anchor="start" font-weight="normal" font-style="normal" >Risk</text>
<line x1="180.6" y1="349" x2="180.6" y2="359.2" stroke="#333" stroke-width="0.7"/>
<rect x="176.0" y="350.8" width="9.2" height="6.6" fill="#7D4BA6" stroke="#222" stroke-width="0.8"/>
<line x1="176.0" y1="354.1" x2="185.2" y2="354.1" stroke="#222" stroke-width="0.8"/>
<text transform="translate(189.60,357.40) scale(0.83,1)" font-family="'Liberation Sans', sans-serif" font-size="7.7" fill="#222" text-anchor="start" font-weight="normal" font-style="normal" >Low</text>
<line x1="210.7" y1="349" x2="210.7" y2="359.2" stroke="#333" stroke-width="0.7"/>
<rect x="206.1" y="350.8" width="9.2" height="6.6" fill="#2150AC" stroke="#222" stroke-width="0.8"/>
<line x1="206.1" y1="354.1" x2="215.29999999999998" y2="354.1" stroke="#222" stroke-width="0.8"/>
<text transform="translate(219.60,357.40) scale(0.83,1)" font-family="'Liberation Sans', sans-serif" font-size="7.7" fill="#222" text-anchor="start" font-weight="normal" font-style="normal" >High</text>
<line x1="29.1" y1="374.7" x2="29.1" y2="569.5" stroke="#8f8f8f" stroke-width="1.9"/>
<line x1="28.2" y1="568.7" x2="359.8" y2="568.7" stroke="#8f8f8f" stroke-width="1.9"/>
<line x1="26.5" y1="383.60" x2="29.0" y2="383.60" stroke="#333" stroke-width="0.9"/>
<text transform="translate(25.30,386.80) scale(0.83,1)" font-family="'Liberation Sans', sans-serif" font-size="9.2" fill="#111" text-anchor="end" font-weight="normal" font-style="normal" >1.00</text>
<line x1="26.5" y1="427.65" x2="29.0" y2="427.65" stroke="#333" stroke-width="0.9"/>
<text transform="translate(25.30,430.85) scale(0.83,1)" font-family="'Liberation Sans', sans-serif" font-size="9.2" fill="#111" text-anchor="end" font-weight="normal" font-style="normal" >0.75</text>
<line x1="26.5" y1="471.70" x2="29.0" y2="471.70" stroke="#333" stroke-width="0.9"/>
<text transform="translate(25.30,474.90) scale(0.83,1)" font-family="'Liberation Sans', sans-serif" font-size="9.2" fill="#111" text-anchor="end" font-weight="normal" font-style="normal" >0.50</text>
<line x1="26.5" y1="515.75" x2="29.0" y2="515.75" stroke="#333" stroke-width="0.9"/>
<text transform="translate(25.30,518.95) scale(0.83,1)" font-family="'Liberation Sans', sans-serif" font-size="9.2" fill="#111" text-anchor="end" font-weight="normal" font-style="normal" >0.25</text>
<line x1="26.5" y1="559.80" x2="29.0" y2="559.80" stroke="#333" stroke-width="0.9"/>
<text transform="translate(25.30,563.00) scale(0.83,1)" font-family="'Liberation Sans', sans-serif" font-size="9.2" fill="#111" text-anchor="end" font-weight="normal" font-style="normal" >0.00</text>
<text transform="translate(7.50,471.50) scale(0.83,1) rotate(-90)" font-family="'Liberation Sans', sans-serif" font-size="9.4" fill="#111" text-anchor="middle" font-weight="normal" font-style="normal" >Score</text>
<line x1="33.72" y1="398.6" x2="33.72" y2="464.6" stroke="#555" stroke-width="0.9"/>
<path d="M31.55,422.40 L35.90,422.40 L35.90,426.80 L34.86,428.80 L35.90,430.80 L35.90,439.70 L31.55,439.70 L31.55,430.80 L32.59,428.80 L31.55,426.80Z" fill="#7D4BA6" stroke="#1a1a1a" stroke-width="0.7" stroke-linejoin="round"/><line x1="32.59" y1="428.8" x2="34.86" y2="428.8" stroke="#111" stroke-width="1.4"/>
<line x1="38.07" y1="404" x2="38.07" y2="474.4" stroke="#555" stroke-width="0.9"/>
<path d="M35.90,426.50 L40.25,426.50 L40.25,434.70 L39.21,436.70 L40.25,438.70 L40.25,449.20 L35.90,449.20 L35.90,438.70 L36.94,436.70 L35.90,434.70Z" fill="#2150AC" stroke="#1a1a1a" stroke-width="0.7" stroke-linejoin="round"/><line x1="36.94" y1="436.7" x2="39.21" y2="436.7" stroke="#111" stroke-width="1.4"/>
<line x1="35.90" y1="568.6" x2="35.90" y2="571" stroke="#333" stroke-width="0.9"/>
<text transform="translate(39.20,577.20) scale(0.83,1) rotate(-50.5)" font-family="'Liberation Sans', sans-serif" font-size="9.3" fill="#222" text-anchor="end" font-weight="normal" font-style="normal" >aDCs</text>
<text transform="translate(35.90,381.80) scale(1.0,1)" font-family="'Liberation Sans', sans-serif" font-size="7.2" fill="#000" text-anchor="middle" font-weight="bold" font-style="normal" >***</text>
<line x1="45.08" y1="393.8" x2="45.08" y2="445.9" stroke="#555" stroke-width="0.9"/>
<path d="M42.90,414.20 L47.25,414.20 L47.25,419.00 L46.21,421.00 L47.25,423.00 L47.25,428.50 L42.90,428.50 L42.90,423.00 L43.95,421.00 L42.90,419.00Z" fill="#7D4BA6" stroke="#1a1a1a" stroke-width="0.7" stroke-linejoin="round"/><line x1="43.95" y1="421" x2="46.21" y2="421" stroke="#111" stroke-width="1.4"/>
<line x1="49.43" y1="395.9" x2="49.43" y2="458.7" stroke="#555" stroke-width="0.9"/>
<path d="M47.25,416.30 L51.60,416.30 L51.60,422.10 L50.56,424.10 L51.60,426.10 L51.60,433.30 L47.25,433.30 L47.25,426.10 L48.30,424.10 L47.25,422.10Z" fill="#2150AC" stroke="#1a1a1a" stroke-width="0.7" stroke-linejoin="round"/><line x1="48.30" y1="424.1" x2="50.56" y2="424.1" stroke="#111" stroke-width="1.4"/>
<line x1="47.25" y1="568.6" x2="47.25" y2="571" stroke="#333" stroke-width="0.9"/>
<text transform="translate(50.55,577.20) scale(0.83,1) rotate(-50.5)" font-family="'Liberation Sans', sans-serif" font-size="9.3" fill="#222" text-anchor="end" font-weight="normal" font-style="normal" >APC_co_inhibition</text>
<text transform="translate(47.25,381.80) scale(1.0,1)" font-family="'Liberation Sans', sans-serif" font-size="7.2" fill="#000" text-anchor="middle" font-weight="bold" font-style="normal" >**</text>
<line x1="56.43" y1="427.8" x2="56.43" y2="462.6" stroke="#555" stroke-width="0.9"/>
<path d="M54.26,438.30 L58.61,438.30 L58.61,441.50 L57.56,443.50 L58.61,445.50 L58.61,448.30 L54.26,448.30 L54.26,445.50 L55.30,443.50 L54.26,441.50Z" fill="#7D4BA6" stroke="#1a1a1a" stroke-width="0.7" stroke-linejoin="round"/><line x1="55.30" y1="443.5" x2="57.56" y2="443.5" stroke="#111" stroke-width="1.4"/>
<line x1="60.78" y1="426.9" x2="60.78" y2="469.1" stroke="#555" stroke-width="0.9"/>
<path d="M58.61,440.50 L62.96,440.50 L62.96,444.20 L61.91,446.20 L62.96,448.20 L62.96,453.40 L58.61,453.40 L58.61,448.20 L59.65,446.20 L58.61,444.20Z" fill="#2150AC" stroke="#1a1a1a" stroke-width="0.7" stroke-linejoin="round"/><line x1="59.65" y1="446.2" x2="61.91" y2="446.2" stroke="#111" stroke-width="1.4"/>
<line x1="58.61" y1="568.6" x2="58.61" y2="571" stroke="#333" stroke-width="0.9"/>
<text transform="translate(61.91,577.20) scale(0.83,1) rotate(-50.5)" font-family="'Liberation Sans', sans-serif" font-size="9.3" fill="#222" text-anchor="end" font-weight="normal" font-style="normal" >APC_co_stimulation</text>
<text transform="translate(58.61,381.80) scale(1.0,1)" font-family="'Liberation Sans', sans-serif" font-size="7.2" fill="#000" text-anchor="middle" font-weight="bold" font-style="normal" >***</text>
<line x1="67.79" y1="409.5" x2="67.79" y2="479.3" stroke="#555" stroke-width="0.9"/>
<path d="M65.61,435.30 L69.96,435.30 L69.96,440.10 L68.92,442.10 L69.96,444.10 L69.96,453.40 L65.61,453.40 L65.61,444.10 L66.66,442.10 L65.61,440.10Z" fill="#7D4BA6" stroke="#1a1a1a" stroke-width="0.7" stroke-linejoin="round"/><line x1="66.66" y1="442.1" x2="68.92" y2="442.1" stroke="#111" stroke-width="1.4"/>
<line x1="72.14" y1="420.1" x2="72.14" y2="481.7" stroke="#555" stroke-width="0.9"/>
<path d="M69.96,445.50 L74.31,445.50 L74.31,453.00 L73.27,455.00 L74.31,457.00 L74.31,462.60 L69.96,462.60 L69.96,457.00 L71.01,455.00 L69.96,453.00Z" fill="#2150AC" stroke="#1a1a1a" stroke-width="0.7" stroke-linejoin="round"/><line x1="71.01" y1="455" x2="73.27" y2="455" stroke="#111" stroke-width="1.4"/>
<line x1="69.96" y1="568.6" x2="69.96" y2="571" stroke="#333" stroke-width="0.9"/>
<text transform="translate(73.26,577.20) scale(0.83,1) rotate(-50.5)" font-family="'Liberation Sans', sans-serif" font-size="9.3" fill="#222" text-anchor="end" font-weight="normal" font-style="normal" >B_cells</text>
<text transform="translate(69.96,381.80) scale(1.0,1)" font-family="'Liberation Sans', sans-serif" font-size="7.2" fill="#000" text-anchor="middle" font-weight="bold" font-style="normal" >***</text>
<line x1="79.14" y1="440" x2="79.14" y2="465.1" stroke="#555" stroke-width="0.9"/>
<path d="M76.97,448.20 L81.32,448.20 L81.32,450.07 L80.27,451.60 L81.32,453.13 L81.32,455.30 L76.97,455.30 L76.97,453.13 L78.01,451.60 L76.97,450.07Z" fill="#7D4BA6" stroke="#1a1a1a" stroke-width="0.7" stroke-linejoin="round"/><line x1="78.01" y1="451.6" x2="80.27" y2="451.6" stroke="#111" stroke-width="1.4"/>
<line x1="83.49" y1="441" x2="83.49" y2="471" stroke="#555" stroke-width="0.9"/>
<path d="M81.32,450.00 L85.67,450.00 L85.67,452.46 L84.62,454.40 L85.67,456.33 L85.67,458.70 L81.32,458.70 L81.32,456.33 L82.36,454.40 L81.32,452.46Z" fill="#2150AC" stroke="#1a1a1a" stroke-width="0.7" stroke-linejoin="round"/><line x1="82.36" y1="454.4" x2="84.62" y2="454.4" stroke="#111" stroke-width="1.4"/>
<line x1="81.32" y1="568.6" x2="81.32" y2="571" stroke="#333" stroke-width="0.9"/>
<text transform="translate(84.62,577.20) scale(0.83,1) rotate(-50.5)" font-family="'Liberation Sans', sans-serif" font-size="9.3" fill="#222" text-anchor="end" font-weight="normal" font-style="normal" >CCR</text>
<text transform="translate(81.32,381.80) scale(1.0,1)" font-family="'Liberation Sans', sans-serif" font-size="7.2" fill="#000" text-anchor="middle" font-weight="bold" font-style="normal" >***</text>
<line x1="90.49" y1="386.6" x2="90.49" y2="457.7" stroke="#555" stroke-width="0.9"/>
<path d="M88.32,402.90 L92.67,402.90 L92.67,414.30 L91.63,416.30 L92.67,418.30 L92.67,429.60 L88.32,429.60 L88.32,418.30 L89.36,416.30 L88.32,414.30Z" fill="#7D4BA6" stroke="#1a1a1a" stroke-width="0.7" stroke-linejoin="round"/><line x1="89.36" y1="416.3" x2="91.63" y2="416.3" stroke="#111" stroke-width="1.4"/>
<line x1="94.84" y1="387.4" x2="94.84" y2="465.5" stroke="#555" stroke-width="0.9"/>
<path d="M92.67,412.90 L97.02,412.90 L97.02,422.40 L95.98,424.40 L97.02,426.40 L97.02,436.70 L92.67,436.70 L92.67,426.40 L93.71,424.40 L92.67,422.40Z" fill="#2150AC" stroke="#1a1a1a" stroke-width="0.7" stroke-linejoin="round"/><line x1="93.71" y1="424.4" x2="95.98" y2="424.4" stroke="#111" stroke-width="1.4"/>
<line x1="92.67" y1="568.6" x2="92.67" y2="571" stroke="#333" stroke-width="0.9"/>
<text transform="translate(95.97,577.20) scale(0.83,1) rotate(-50.5)" font-family="'Liberation Sans', sans-serif" font-size="9.3" fill="#222" text-anchor="end" font-weight="normal" font-style="normal" >CD8+_T_cells</text>
<text transform="translate(92.67,381.80) scale(1.0,1)" font-family="'Liberation Sans', sans-serif" font-size="7.2" fill="#000" text-anchor="middle" font-weight="bold" font-style="normal" >***</text>
<line x1="101.85" y1="424.4" x2="101.85" y2="460.6" stroke="#555" stroke-width="0.9"/>
<path d="M99.67,436.40 L104.02,436.40 L104.02,439.00 L102.98,441.00 L104.02,443.00 L104.02,446.90 L99.67,446.90 L99.67,443.00 L100.72,441.00 L99.67,439.00Z" fill="#7D4BA6" stroke="#1a1a1a" stroke-width="0.7" stroke-linejoin="round"/><line x1="100.72" y1="441" x2="102.98" y2="441" stroke="#111" stroke-width="1.4"/>
<line x1="106.20" y1="425.1" x2="106.20" y2="472.4" stroke="#555" stroke-width="0.9"/>
<path d="M104.02,440.00 L108.37,440.00 L108.37,444.90 L107.33,446.90 L108.37,448.90 L108.37,453.40 L104.02,453.40 L104.02,448.90 L105.07,446.90 L104.02,444.90Z" fill="#2150AC" stroke="#1a1a1a" stroke-width="0.7" stroke-linejoin="round"/><line x1="105.07" y1="446.9" x2="107.33" y2="446.9" stroke="#111" stroke-width="1.4"/>
<line x1="104.02" y1="568.6" x2="104.02" y2="571" stroke="#333" stroke-width="0.9"/>
<text transform="translate(107.32,577.20) scale(0.83,1) rotate(-50.5)" font-family="'Liberation Sans', sans-serif" font-size="9.3" fill="#222" text-anchor="end" font-weight="normal" font-style="normal" >Check−point</text>
<text transform="translate(104.02,381.80) scale(1.0,1)" font-family="'Liberation Sans', sans-serif" font-size="7.2" fill="#000" text-anchor="middle" font-weight="bold" font-style="normal" >***</text>
<line x1="113.20" y1="386" x2="113.20" y2="446.2" stroke="#555" stroke-width="0.9"/>
<path d="M111.03,399.30 L115.38,399.30 L115.38,406.80 L114.33,408.80 L115.38,410.80 L115.38,420.30 L111.03,420.30 L111.03,410.80 L112.07,408.80 L111.03,406.80Z" fill="#7D4BA6" stroke="#1a1a1a" stroke-width="0.7" stroke-linejoin="round"/><line x1="112.07" y1="408.8" x2="114.33" y2="408.8" stroke="#111" stroke-width="1.4"/>
<line x1="117.55" y1="387" x2="117.55" y2="459.6" stroke="#555" stroke-width="0.9"/>
<path d="M115.38,405.10 L119.73,405.10 L119.73,414.90 L118.68,416.90 L119.73,418.90 L119.73,427.80 L115.38,427.80 L115.38,418.90 L116.42,416.90 L115.38,414.90Z" fill="#2150AC" stroke="#1a1a1a" stroke-width="0.7" stroke-linejoin="round"/><line x1="116.42" y1="416.9" x2="118.68" y2="416.9" stroke="#111" stroke-width="1.4"/>
<line x1="115.38" y1="568.6" x2="115.38" y2="571" stroke="#333" stroke-width="0.9"/>
<text transform="translate(118.68,577.20) scale(0.83,1) rotate(-50.5)" font-family="'Liberation Sans', sans-serif" font-size="9.3" fill="#222" text-anchor="end" font-weight="normal" font-style="normal" >Cytolytic_activity</text>
<text transform="translate(115.38,381.80) scale(1.0,1)" font-family="'Liberation Sans', sans-serif" font-size="7.2" fill="#000" text-anchor="middle" font-weight="bold" font-style="normal" >***</text>
<line x1="124.56" y1="396.1" x2="124.56" y2="460" stroke="#555" stroke-width="0.9"/>
<path d="M122.38,414.20 L126.73,414.20 L126.73,421.70 L125.69,423.70 L126.73,425.70 L126.73,433.30 L122.38,433.30 L122.38,425.70 L123.43,423.70 L122.38,421.70Z" fill="#7D4BA6" stroke="#1a1a1a" stroke-width="0.7" stroke-linejoin="round"/><line x1="123.43" y1="423.7" x2="125.69" y2="423.7" stroke="#111" stroke-width="1.4"/>
<line x1="128.91" y1="396.9" x2="128.91" y2="479.3" stroke="#555" stroke-width="0.9"/>
<path d="M126.73,421.40 L131.08,421.40 L131.08,429.90 L130.04,431.90 L131.08,433.90 L131.08,444.30 L126.73,444.30 L126.73,433.90 L127.78,431.90 L126.73,429.90Z" fill="#2150AC" stroke="#1a1a1a" stroke-width="0.7" stroke-linejoin="round"/><line x1="127.78" y1="431.9" x2="130.04" y2="431.9" stroke="#111" stroke-width="1.4"/>
<line x1="126.73" y1="568.6" x2="126.73" y2="571" stroke="#333" stroke-width="0.9"/>
<text transform="translate(130.03,577.20) scale(0.83,1) rotate(-50.5)" font-family="'Liberation Sans', sans-serif" font-size="9.3" fill="#222" text-anchor="end" font-weight="normal" font-style="normal" >DCs</text>
<text transform="translate(126.73,381.80) scale(1.0,1)" font-family="'Liberation Sans', sans-serif" font-size="7.2" fill="#000" text-anchor="middle" font-weight="bold" font-style="normal" >***</text>
<line x1="135.91" y1="391.1" x2="135.91" y2="409.7" stroke="#555" stroke-width="0.9"/>
<path d="M133.74,395.90 L138.09,395.90 L138.09,397.39 L137.04,398.60 L138.09,399.81 L138.09,401.30 L133.74,401.30 L133.74,399.81 L134.78,398.60 L133.74,397.39Z" fill="#7D4BA6" stroke="#1a1a1a" stroke-width="0.7" stroke-linejoin="round"/><line x1="134.78" y1="398.6" x2="137.04" y2="398.6" stroke="#111" stroke-width="1.4"/>
<line x1="140.26" y1="393.1" x2="140.26" y2="420.6" stroke="#555" stroke-width="0.9"/>
<path d="M138.09,398.80 L142.44,398.80 L142.44,400.34 L141.39,401.60 L142.44,402.86 L142.44,408.40 L138.09,408.40 L138.09,402.86 L139.13,401.60 L138.09,400.34Z" fill="#2150AC" stroke="#1a1a1a" stroke-width="0.7" stroke-linejoin="round"/><line x1="139.13" y1="401.6" x2="141.39" y2="401.6" stroke="#111" stroke-width="1.4"/>
<line x1="138.09" y1="568.6" x2="138.09" y2="571" stroke="#333" stroke-width="0.9"/>
<text transform="translate(141.39,577.20) scale(0.83,1) rotate(-50.5)" font-family="'Liberation Sans', sans-serif" font-size="9.3" fill="#222" text-anchor="end" font-weight="normal" font-style="normal" >HLA</text>
<text transform="translate(138.09,381.80) scale(1.0,1)" font-family="'Liberation Sans', sans-serif" font-size="7.2" fill="#000" text-anchor="middle" font-weight="bold" font-style="normal" >***</text>
<line x1="147.27" y1="386.3" x2="147.27" y2="510.3" stroke="#555" stroke-width="0.9"/>
<path d="M145.09,414.20 L149.44,414.20 L149.44,433.30 L148.40,435.30 L149.44,437.30 L149.44,455.30 L145.09,455.30 L145.09,437.30 L146.13,435.30 L145.09,433.30Z" fill="#7D4BA6" stroke="#1a1a1a" stroke-width="0.7" stroke-linejoin="round"/><line x1="146.13" y1="435.3" x2="148.40" y2="435.3" stroke="#111" stroke-width="1.4"/>
<line x1="151.62" y1="391.8" x2="151.62" y2="528" stroke="#555" stroke-width="0.9"/>
<path d="M149.44,433.30 L153.79,433.30 L153.79,450.30 L152.75,452.30 L153.79,454.30 L153.79,473.40 L149.44,473.40 L149.44,454.30 L150.48,452.30 L149.44,450.30Z" fill="#2150AC" stroke="#1a1a1a" stroke-width="0.7" stroke-linejoin="round"/><line x1="150.48" y1="452.3" x2="152.75" y2="452.3" stroke="#111" stroke-width="1.4"/>
<line x1="149.44" y1="568.6" x2="149.44" y2="571" stroke="#333" stroke-width="0.9"/>
<text transform="translate(152.74,577.20) scale(0.83,1) rotate(-50.5)" font-family="'Liberation Sans', sans-serif" font-size="9.3" fill="#222" text-anchor="end" font-weight="normal" font-style="normal" >iDCs</text>
<text transform="translate(149.44,381.80) scale(1.0,1)" font-family="'Liberation Sans', sans-serif" font-size="7.2" fill="#000" text-anchor="middle" font-weight="bold" font-style="normal" >***</text>
<line x1="158.62" y1="405.6" x2="158.62" y2="458.7" stroke="#555" stroke-width="0.9"/>
<path d="M156.44,417.90 L160.79,417.90 L160.79,423.80 L159.75,425.80 L160.79,427.80 L160.79,434.60 L156.44,434.60 L156.44,427.80 L157.49,425.80 L156.44,423.80Z" fill="#7D4BA6" stroke="#1a1a1a" stroke-width="0.7" stroke-linejoin="round"/><line x1="157.49" y1="425.8" x2="159.75" y2="425.8" stroke="#111" stroke-width="1.4"/>
<line x1="162.97" y1="406" x2="162.97" y2="467.1" stroke="#555" stroke-width="0.9"/>
<path d="M160.79,422.00 L165.14,422.00 L165.14,429.20 L164.10,431.20 L165.14,433.20 L165.14,440.70 L160.79,440.70 L160.79,433.20 L161.84,431.20 L160.79,429.20Z" fill="#2150AC" stroke="#1a1a1a" stroke-width="0.7" stroke-linejoin="round"/><line x1="161.84" y1="431.2" x2="164.10" y2="431.2" stroke="#111" stroke-width="1.4"/>
<line x1="160.79" y1="568.6" x2="160.79" y2="571" stroke="#333" stroke-width="0.9"/>
<text transform="translate(164.09,577.20) scale(0.83,1) rotate(-50.5)" font-family="'Liberation Sans', sans-serif" font-size="9.3" fill="#222" text-anchor="end" font-weight="normal" font-style="normal" >Inflammation−promoting</text>
<text transform="translate(160.79,381.80) scale(1.0,1)" font-family="'Liberation Sans', sans-serif" font-size="7.2" fill="#000" text-anchor="middle" font-weight="bold" font-style="normal" >***</text>
<line x1="169.97" y1="407.8" x2="169.97" y2="446.9" stroke="#555" stroke-width="0.9"/>
<path d="M167.80,421.40 L172.15,421.40 L172.15,424.10 L171.10,426.10 L172.15,428.10 L172.15,431.90 L167.80,431.90 L167.80,428.10 L168.84,426.10 L167.80,424.10Z" fill="#7D4BA6" stroke="#1a1a1a" stroke-width="0.7" stroke-linejoin="round"/><line x1="168.84" y1="426.1" x2="171.10" y2="426.1" stroke="#111" stroke-width="1.4"/>
<line x1="174.32" y1="412.2" x2="174.32" y2="451.6" stroke="#555" stroke-width="0.9"/>
<path d="M172.15,423.70 L176.50,423.70 L176.50,426.80 L175.45,428.80 L176.50,430.80 L176.50,435.30 L172.15,435.30 L172.15,430.80 L173.19,428.80 L172.15,426.80Z" fill="#2150AC" stroke="#1a1a1a" stroke-width="0.7" stroke-linejoin="round"/><line x1="173.19" y1="428.8" x2="175.45" y2="428.8" stroke="#111" stroke-width="1.4"/>
<line x1="172.15" y1="568.6" x2="172.15" y2="571" stroke="#333" stroke-width="0.9"/>
<text transform="translate(175.45,577.20) scale(0.83,1) rotate(-50.5)" font-family="'Liberation Sans', sans-serif" font-size="9.3" fill="#222" text-anchor="end" font-weight="normal" font-style="normal" >Macrophages</text>
<text transform="translate(172.15,381.80) scale(1.0,1)" font-family="'Liberation Sans', sans-serif" font-size="7.2" fill="#000" text-anchor="middle" font-weight="bold" font-style="normal" >***</text>
<line x1="181.33" y1="410.1" x2="181.33" y2="498" stroke="#555" stroke-width="0.9"/>
<path d="M179.15,435.60 L183.50,435.60 L183.50,444.90 L182.46,446.90 L183.50,448.90 L183.50,460.00 L179.15,460.00 L179.15,448.90 L180.20,446.90 L179.15,444.90Z" fill="#7D4BA6" stroke="#1a1a1a" stroke-width="0.7" stroke-linejoin="round"/><line x1="180.20" y1="446.9" x2="182.46" y2="446.9" stroke="#111" stroke-width="1.4"/>
<line x1="185.68" y1="416.9" x2="185.68" y2="516.6" stroke="#555" stroke-width="0.9"/>
<path d="M183.50,446.90 L187.85,446.90 L187.85,457.60 L186.81,459.60 L187.85,461.60 L187.85,476.30 L183.50,476.30 L183.50,461.60 L184.55,459.60 L183.50,457.60Z" fill="#2150AC" stroke="#1a1a1a" stroke-width="0.7" stroke-linejoin="round"/><line x1="184.55" y1="459.6" x2="186.81" y2="459.6" stroke="#111" stroke-width="1.4"/>
<line x1="183.50" y1="568.6" x2="183.50" y2="571" stroke="#333" stroke-width="0.9"/>
<text transform="translate(186.80,577.20) scale(0.83,1) rotate(-50.5)" font-family="'Liberation Sans', sans-serif" font-size="9.3" fill="#222" text-anchor="end" font-weight="normal" font-style="normal" >Mast_cells</text>
<text transform="translate(183.50,381.80) scale(1.0,1)" font-family="'Liberation Sans', sans-serif" font-size="7.2" fill="#000" text-anchor="middle" font-weight="bold" font-style="normal" >***</text>
<line x1="192.68" y1="383" x2="192.68" y2="391" stroke="#555" stroke-width="0.9"/>
<rect x="190.51" y="384.6" width="4.35" height="3.00" rx="0.6" fill="#2a1a35" stroke="#111" stroke-width="0.8"/>
<line x1="190.51" y1="386.2" x2="194.86" y2="386.2" stroke="#000" stroke-width="1.4"/>
<line x1="197.03" y1="383.5" x2="197.03" y2="392.4" stroke="#555" stroke-width="0.9"/>
<rect x="194.86" y="384.8" width="4.35" height="3.20" rx="0.6" fill="#1d3a80" stroke="#111" stroke-width="0.8"/>
<line x1="194.86" y1="386.4" x2="199.21" y2="386.4" stroke="#000" stroke-width="1.4"/>
<line x1="194.86" y1="568.6" x2="194.86" y2="571" stroke="#333" stroke-width="0.9"/>
<text transform="translate(198.16,577.20) scale(0.83,1) rotate(-50.5)" font-family="'Liberation Sans', sans-serif" font-size="9.3" fill="#222" text-anchor="end" font-weight="normal" font-style="normal" >MHC_class_I</text>
<line x1="204.04" y1="415.2" x2="204.04" y2="445.5" stroke="#555" stroke-width="0.9"/>
<path d="M201.86,424.10 L206.21,424.10 L206.21,426.52 L205.17,428.50 L206.21,430.48 L206.21,433.30 L201.86,433.30 L201.86,430.48 L202.90,428.50 L201.86,426.52Z" fill="#7D4BA6" stroke="#1a1a1a" stroke-width="0.7" stroke-linejoin="round"/><line x1="202.90" y1="428.5" x2="205.17" y2="428.5" stroke="#111" stroke-width="1.4"/>
<line x1="208.39" y1="418.3" x2="208.39" y2="455.7" stroke="#555" stroke-width="0.9"/>
<path d="M206.21,427.10 L210.56,427.10 L210.56,430.60 L209.52,432.60 L210.56,434.60 L210.56,439.40 L206.21,439.40 L206.21,434.60 L207.25,432.60 L206.21,430.60Z" fill="#2150AC" stroke="#1a1a1a" stroke-width="0.7" stroke-linejoin="round"/><line x1="207.25" y1="432.6" x2="209.52" y2="432.6" stroke="#111" stroke-width="1.4"/>
<line x1="206.21" y1="568.6" x2="206.21" y2="571" stroke="#333" stroke-width="0.9"/>
<text transform="translate(209.51,577.20) scale(0.83,1) rotate(-50.5)" font-family="'Liberation Sans', sans-serif" font-size="9.3" fill="#222" text-anchor="end" font-weight="normal" font-style="normal" >Neutrophils</text>
<text transform="translate(206.21,381.80) scale(1.0,1)" font-family="'Liberation Sans', sans-serif" font-size="7.2" fill="#000" text-anchor="middle" font-weight="bold" font-style="normal" >***</text>
<line x1="215.39" y1="429.6" x2="215.39" y2="510.7" stroke="#555" stroke-width="0.9"/>
<path d="M213.21,458.70 L217.56,458.70 L217.56,467.50 L216.52,469.50 L217.56,471.50 L217.56,480.30 L213.21,480.30 L213.21,471.50 L214.26,469.50 L213.21,467.50Z" fill="#7D4BA6" stroke="#1a1a1a" stroke-width="0.7" stroke-linejoin="round"/><line x1="214.26" y1="469.5" x2="216.52" y2="469.5" stroke="#111" stroke-width="1.4"/>
<line x1="219.74" y1="427.1" x2="219.74" y2="518.6" stroke="#555" stroke-width="0.9"/>
<path d="M217.56,458.10 L221.91,458.10 L221.91,467.50 L220.87,469.50 L221.91,471.50 L221.91,482.80 L217.56,482.80 L217.56,471.50 L218.61,469.50 L217.56,467.50Z" fill="#2150AC" stroke="#1a1a1a" stroke-width="0.7" stroke-linejoin="round"/><line x1="218.61" y1="469.5" x2="220.87" y2="469.5" stroke="#111" stroke-width="1.4"/>
<line x1="217.56" y1="568.6" x2="217.56" y2="571" stroke="#333" stroke-width="0.9"/>
<text transform="translate(220.86,577.20) scale(0.83,1) rotate(-50.5)" font-family="'Liberation Sans', sans-serif" font-size="9.3" fill="#222" text-anchor="end" font-weight="normal" font-style="normal" >NK_cells</text>
<line x1="226.74" y1="399.7" x2="226.74" y2="424.7" stroke="#555" stroke-width="0.9"/>
<path d="M224.57,406.50 L228.92,406.50 L228.92,408.48 L227.87,410.10 L228.92,411.72 L228.92,414.60 L224.57,414.60 L224.57,411.72 L225.61,410.10 L224.57,408.48Z" fill="#7D4BA6" stroke="#1a1a1a" stroke-width="0.7" stroke-linejoin="round"/><line x1="225.61" y1="410.1" x2="227.87" y2="410.1" stroke="#111" stroke-width="1.4"/>
<line x1="231.09" y1="402.4" x2="231.09" y2="426.5" stroke="#555" stroke-width="0.9"/>
<path d="M228.92,407.00 L233.27,407.00 L233.27,409.09 L232.22,410.80 L233.27,412.51 L233.27,414.90 L228.92,414.90 L228.92,412.51 L229.96,410.80 L228.92,409.09Z" fill="#2150AC" stroke="#1a1a1a" stroke-width="0.7" stroke-linejoin="round"/><line x1="229.96" y1="410.8" x2="232.22" y2="410.8" stroke="#111" stroke-width="1.4"/>
<line x1="228.92" y1="568.6" x2="228.92" y2="571" stroke="#333" stroke-width="0.9"/>
<text transform="translate(232.22,577.20) scale(0.83,1) rotate(-50.5)" font-family="'Liberation Sans', sans-serif" font-size="9.3" fill="#222" text-anchor="end" font-weight="normal" font-style="normal" >Parainflammation</text>
<line x1="238.10" y1="419.3" x2="238.10" y2="473.4" stroke="#555" stroke-width="0.9"/>
<path d="M235.92,435.60 L240.27,435.60 L240.27,441.50 L239.23,443.50 L240.27,445.50 L240.27,452.20 L235.92,452.20 L235.92,445.50 L236.97,443.50 L235.92,441.50Z" fill="#7D4BA6" stroke="#1a1a1a" stroke-width="0.7" stroke-linejoin="round"/><line x1="236.97" y1="443.5" x2="239.23" y2="443.5" stroke="#111" stroke-width="1.4"/>
<line x1="242.45" y1="419.7" x2="242.45" y2="490.7" stroke="#555" stroke-width="0.9"/>
<path d="M240.27,440.00 L244.62,440.00 L244.62,448.80 L243.58,450.80 L244.62,452.80 L244.62,460.60 L240.27,460.60 L240.27,452.80 L241.32,450.80 L240.27,448.80Z" fill="#2150AC" stroke="#1a1a1a" stroke-width="0.7" stroke-linejoin="round"/><line x1="241.32" y1="450.8" x2="243.58" y2="450.8" stroke="#111" stroke-width="1.4"/>
<line x1="240.27" y1="568.6" x2="240.27" y2="571" stroke="#333" stroke-width="0.9"/>
<text transform="translate(243.57,577.20) scale(0.83,1) rotate(-50.5)" font-family="'Liberation Sans', sans-serif" font-size="9.3" fill="#222" text-anchor="end" font-weight="normal" font-style="normal" >pDCs</text>
<text transform="translate(240.27,381.80) scale(1.0,1)" font-family="'Liberation Sans', sans-serif" font-size="7.2" fill="#000" text-anchor="middle" font-weight="bold" font-style="normal" >***</text>
<line x1="249.45" y1="416.9" x2="249.45" y2="467.9" stroke="#555" stroke-width="0.9"/>
<path d="M247.28,432.30 L251.63,432.30 L251.63,437.10 L250.58,439.10 L251.63,441.10 L251.63,447.50 L247.28,447.50 L247.28,441.10 L248.32,439.10 L247.28,437.10Z" fill="#7D4BA6" stroke="#1a1a1a" stroke-width="0.7" stroke-linejoin="round"/><line x1="248.32" y1="439.1" x2="250.58" y2="439.1" stroke="#111" stroke-width="1.4"/>
<line x1="253.80" y1="416.9" x2="253.80" y2="479.3" stroke="#555" stroke-width="0.9"/>
<path d="M251.63,438.00 L255.98,438.00 L255.98,444.90 L254.93,446.90 L255.98,448.90 L255.98,454.70 L251.63,454.70 L251.63,448.90 L252.67,446.90 L251.63,444.90Z" fill="#2150AC" stroke="#1a1a1a" stroke-width="0.7" stroke-linejoin="round"/><line x1="252.67" y1="446.9" x2="254.93" y2="446.9" stroke="#111" stroke-width="1.4"/>
<line x1="251.63" y1="568.6" x2="251.63" y2="571" stroke="#333" stroke-width="0.9"/>
<text transform="translate(254.93,577.20) scale(0.83,1) rotate(-50.5)" font-family="'Liberation Sans', sans-serif" font-size="9.3" fill="#222" text-anchor="end" font-weight="normal" font-style="normal" >T_cell_co−inhibition</text>
<text transform="translate(251.63,381.80) scale(1.0,1)" font-family="'Liberation Sans', sans-serif" font-size="7.2" fill="#000" text-anchor="middle" font-weight="bold" font-style="normal" >***</text>
<line x1="260.80" y1="414.2" x2="260.80" y2="464.6" stroke="#555" stroke-width="0.9"/>
<path d="M258.63,430.10 L262.98,430.10 L262.98,436.00 L261.94,438.00 L262.98,440.00 L262.98,445.50 L258.63,445.50 L258.63,440.00 L259.67,438.00 L258.63,436.00Z" fill="#7D4BA6" stroke="#1a1a1a" stroke-width="0.7" stroke-linejoin="round"/><line x1="259.67" y1="438" x2="261.94" y2="438" stroke="#111" stroke-width="1.4"/>
<line x1="265.15" y1="420.1" x2="265.15" y2="476.3" stroke="#555" stroke-width="0.9"/>
<path d="M262.98,438.00 L267.33,438.00 L267.33,442.80 L266.29,444.80 L267.33,446.80 L267.33,453.40 L262.98,453.40 L262.98,446.80 L264.02,444.80 L262.98,442.80Z" fill="#2150AC" stroke="#1a1a1a" stroke-width="0.7" stroke-linejoin="round"/><line x1="264.02" y1="444.8" x2="266.29" y2="444.8" stroke="#111" stroke-width="1.4"/>
<line x1="262.98" y1="568.6" x2="262.98" y2="571" stroke="#333" stroke-width="0.9"/>
<text transform="translate(266.28,577.20) scale(0.83,1) rotate(-50.5)" font-family="'Liberation Sans', sans-serif" font-size="9.3" fill="#222" text-anchor="end" font-weight="normal" font-style="normal" >T_cell_co−stimulation</text>
<text transform="translate(262.98,381.80) scale(1.0,1)" font-family="'Liberation Sans', sans-serif" font-size="7.2" fill="#000" text-anchor="middle" font-weight="bold" font-style="normal" >***</text>
<line x1="272.16" y1="384.7" x2="272.16" y2="403.3" stroke="#555" stroke-width="0.9"/>
<path d="M269.98,387.40 L274.33,387.40 L274.33,389.05 L273.29,390.40 L274.33,391.75 L274.33,394.20 L269.98,394.20 L269.98,391.75 L271.03,390.40 L269.98,389.05Z" fill="#7D4BA6" stroke="#1a1a1a" stroke-width="0.7" stroke-linejoin="round"/><line x1="271.03" y1="390.4" x2="273.29" y2="390.4" stroke="#111" stroke-width="1.4"/>
<line x1="276.51" y1="386" x2="276.51" y2="420.3" stroke="#555" stroke-width="0.9"/>
<path d="M274.33,390.40 L278.68,390.40 L278.68,393.20 L277.64,395.20 L278.68,397.20 L278.68,402.70 L274.33,402.70 L274.33,397.20 L275.38,395.20 L274.33,393.20Z" fill="#2150AC" stroke="#1a1a1a" stroke-width="0.7" stroke-linejoin="round"/><line x1="275.38" y1="395.2" x2="277.64" y2="395.2" stroke="#111" stroke-width="1.4"/>
<line x1="274.33" y1="568.6" x2="274.33" y2="571" stroke="#333" stroke-width="0.9"/>
<text transform="translate(277.63,577.20) scale(0.83,1) rotate(-50.5)" font-family="'Liberation Sans', sans-serif" font-size="9.3" fill="#222" text-anchor="end" font-weight="normal" font-style="normal" >T_helper_cells</text>
<text transform="translate(274.33,381.80) scale(1.0,1)" font-family="'Liberation Sans', sans-serif" font-size="7.2" fill="#000" text-anchor="middle" font-weight="bold" font-style="normal" >***</text>
<line x1="283.51" y1="412.9" x2="283.51" y2="494.6" stroke="#555" stroke-width="0.9"/>
<path d="M281.34,436.40 L285.69,436.40 L285.69,445.90 L284.64,447.90 L285.69,449.90 L285.69,459.60 L281.34,459.60 L281.34,449.90 L282.38,447.90 L281.34,445.90Z" fill="#7D4BA6" stroke="#1a1a1a" stroke-width="0.7" stroke-linejoin="round"/><line x1="282.38" y1="447.9" x2="284.64" y2="447.9" stroke="#111" stroke-width="1.4"/>
<line x1="287.86" y1="428.2" x2="287.86" y2="498" stroke="#555" stroke-width="0.9"/>
<path d="M285.69,445.10 L290.04,445.10 L290.04,455.70 L288.99,457.70 L290.04,459.70 L290.04,467.50 L285.69,467.50 L285.69,459.70 L286.73,457.70 L285.69,455.70Z" fill="#2150AC" stroke="#1a1a1a" stroke-width="0.7" stroke-linejoin="round"/><line x1="286.73" y1="457.7" x2="288.99" y2="457.7" stroke="#111" stroke-width="1.4"/>
<line x1="285.69" y1="568.6" x2="285.69" y2="571" stroke="#333" stroke-width="0.9"/>
<text transform="translate(288.99,577.20) scale(0.83,1) rotate(-50.5)" font-family="'Liberation Sans', sans-serif" font-size="9.3" fill="#222" text-anchor="end" font-weight="normal" font-style="normal" >Tfh</text>
<text transform="translate(285.69,381.80) scale(1.0,1)" font-family="'Liberation Sans', sans-serif" font-size="7.2" fill="#000" text-anchor="middle" font-weight="bold" font-style="normal" >***</text>
<line x1="294.87" y1="419.3" x2="294.87" y2="477.3" stroke="#555" stroke-width="0.9"/>
<path d="M292.69,442.10 L297.04,442.10 L297.04,447.60 L296.00,449.60 L297.04,451.60 L297.04,457.30 L292.69,457.30 L292.69,451.60 L293.74,449.60 L292.69,447.60Z" fill="#7D4BA6" stroke="#1a1a1a" stroke-width="0.7" stroke-linejoin="round"/><line x1="293.74" y1="449.6" x2="296.00" y2="449.6" stroke="#111" stroke-width="1.4"/>
<line x1="299.22" y1="420.6" x2="299.22" y2="492.7" stroke="#555" stroke-width="0.9"/>
<path d="M297.04,444.60 L301.39,444.60 L301.39,450.80 L300.35,452.80 L301.39,454.80 L301.39,464.60 L297.04,464.60 L297.04,454.80 L298.09,452.80 L297.04,450.80Z" fill="#2150AC" stroke="#1a1a1a" stroke-width="0.7" stroke-linejoin="round"/><line x1="298.09" y1="452.8" x2="300.35" y2="452.8" stroke="#111" stroke-width="1.4"/>
<line x1="297.04" y1="568.6" x2="297.04" y2="571" stroke="#333" stroke-width="0.9"/>
<text transform="translate(300.34,577.20) scale(0.83,1) rotate(-50.5)" font-family="'Liberation Sans', sans-serif" font-size="9.3" fill="#222" text-anchor="end" font-weight="normal" font-style="normal" >Th1_cells</text>
<text transform="translate(297.04,381.80) scale(1.0,1)" font-family="'Liberation Sans', sans-serif" font-size="7.2" fill="#000" text-anchor="middle" font-weight="bold" font-style="normal" >***</text>
<line x1="306.22" y1="422" x2="306.22" y2="485.2" stroke="#555" stroke-width="0.9"/>
<path d="M304.05,445.90 L308.40,445.90 L308.40,450.80 L307.35,452.80 L308.40,454.80 L308.40,462.00 L304.05,462.00 L304.05,454.80 L305.09,452.80 L304.05,450.80Z" fill="#7D4BA6" stroke="#1a1a1a" stroke-width="0.7" stroke-linejoin="round"/><line x1="305.09" y1="452.8" x2="307.35" y2="452.8" stroke="#111" stroke-width="1.4"/>
<line x1="310.57" y1="429.2" x2="310.57" y2="494" stroke="#555" stroke-width="0.9"/>
<path d="M308.40,450.50 L312.75,450.50 L312.75,456.70 L311.70,458.70 L312.75,460.70 L312.75,468.50 L308.40,468.50 L308.40,460.70 L309.44,458.70 L308.40,456.70Z" fill="#2150AC" stroke="#1a1a1a" stroke-width="0.7" stroke-linejoin="round"/><line x1="309.44" y1="458.7" x2="311.70" y2="458.7" stroke="#111" stroke-width="1.4"/>
<line x1="308.40" y1="568.6" x2="308.40" y2="571" stroke="#333" stroke-width="0.9"/>
<text transform="translate(311.70,577.20) scale(0.83,1) rotate(-50.5)" font-family="'Liberation Sans', sans-serif" font-size="9.3" fill="#222" text-anchor="end" font-weight="normal" font-style="normal" >Th2_cells</text>
<text transform="translate(308.40,381.80) scale(1.0,1)" font-family="'Liberation Sans', sans-serif" font-size="7.2" fill="#000" text-anchor="middle" font-weight="bold" font-style="normal" >***</text>
<line x1="317.57" y1="407" x2="317.57" y2="449.6" stroke="#555" stroke-width="0.9"/>
<path d="M315.40,419.30 L319.75,419.30 L319.75,423.10 L318.71,425.10 L319.75,427.10 L319.75,432.30 L315.40,432.30 L315.40,427.10 L316.44,425.10 L315.40,423.10Z" fill="#7D4BA6" stroke="#1a1a1a" stroke-width="0.7" stroke-linejoin="round"/><line x1="316.44" y1="425.1" x2="318.71" y2="425.1" stroke="#111" stroke-width="1.4"/>
<line x1="321.92" y1="412.4" x2="321.92" y2="460.6" stroke="#555" stroke-width="0.9"/>
<path d="M319.75,427.80 L324.10,427.80 L324.10,431.90 L323.06,433.90 L324.10,435.90 L324.10,441.40 L319.75,441.40 L319.75,435.90 L320.79,433.90 L319.75,431.90Z" fill="#2150AC" stroke="#1a1a1a" stroke-width="0.7" stroke-linejoin="round"/><line x1="320.79" y1="433.9" x2="323.06" y2="433.9" stroke="#111" stroke-width="1.4"/>
<line x1="319.75" y1="568.6" x2="319.75" y2="571" stroke="#333" stroke-width="0.9"/>
<text transform="translate(323.05,577.20) scale(0.83,1) rotate(-50.5)" font-family="'Liberation Sans', sans-serif" font-size="9.3" fill="#222" text-anchor="end" font-weight="normal" font-style="normal" >TIL</text>
<text transform="translate(319.75,381.80) scale(1.0,1)" font-family="'Liberation Sans', sans-serif" font-size="7.2" fill="#000" text-anchor="middle" font-weight="bold" font-style="normal" >***</text>
<line x1="328.93" y1="412.4" x2="328.93" y2="428.8" stroke="#555" stroke-width="0.9"/>
<path d="M326.75,417.60 L331.10,417.60 L331.10,418.92 L330.06,420.00 L331.10,421.08 L331.10,422.40 L326.75,422.40 L326.75,421.08 L327.80,420.00 L326.75,418.92Z" fill="#7D4BA6" stroke="#1a1a1a" stroke-width="0.7" stroke-linejoin="round"/><line x1="327.80" y1="420" x2="330.06" y2="420" stroke="#111" stroke-width="1.4"/>
<line x1="333.28" y1="412.4" x2="333.28" y2="432.6" stroke="#555" stroke-width="0.9"/>
<path d="M331.10,419.00 L335.45,419.00 L335.45,420.32 L334.41,421.40 L335.45,422.48 L335.45,424.40 L331.10,424.40 L331.10,422.48 L332.15,421.40 L331.10,420.32Z" fill="#2150AC" stroke="#1a1a1a" stroke-width="0.7" stroke-linejoin="round"/><line x1="332.15" y1="421.4" x2="334.41" y2="421.4" stroke="#111" stroke-width="1.4"/>
<line x1="331.10" y1="568.6" x2="331.10" y2="571" stroke="#333" stroke-width="0.9"/>
<text transform="translate(334.40,577.20) scale(0.83,1) rotate(-50.5)" font-family="'Liberation Sans', sans-serif" font-size="9.3" fill="#222" text-anchor="end" font-weight="normal" font-style="normal" >Treg</text>
<text transform="translate(331.10,381.80) scale(1.0,1)" font-family="'Liberation Sans', sans-serif" font-size="7.2" fill="#000" text-anchor="middle" font-weight="bold" font-style="normal" >***</text>
<line x1="340.28" y1="399.7" x2="340.28" y2="440.7" stroke="#555" stroke-width="0.9"/>
<path d="M338.11,414.20 L342.46,414.20 L342.46,417.00 L341.41,419.00 L342.46,421.00 L342.46,425.10 L338.11,425.10 L338.11,421.00 L339.15,419.00 L338.11,417.00Z" fill="#7D4BA6" stroke="#1a1a1a" stroke-width="0.7" stroke-linejoin="round"/><line x1="339.15" y1="419" x2="341.41" y2="419" stroke="#111" stroke-width="1.4"/>
<line x1="344.63" y1="400.2" x2="344.63" y2="444.1" stroke="#555" stroke-width="0.9"/>
<path d="M342.46,413.50 L346.81,413.50 L346.81,417.70 L345.76,419.70 L346.81,421.70 L346.81,426.50 L342.46,426.50 L342.46,421.70 L343.50,419.70 L342.46,417.70Z" fill="#2150AC" stroke="#1a1a1a" stroke-width="0.7" stroke-linejoin="round"/><line x1="343.50" y1="419.7" x2="345.76" y2="419.7" stroke="#111" stroke-width="1.4"/>
<line x1="342.46" y1="568.6" x2="342.46" y2="571" stroke="#333" stroke-width="0.9"/>
<text transform="translate(345.76,577.20) scale(0.83,1) rotate(-50.5)" font-family="'Liberation Sans', sans-serif" font-size="9.3" fill="#222" text-anchor="end" font-weight="normal" font-style="normal" >Type_I_IFN_Reponse</text>
<line x1="351.64" y1="416" x2="351.64" y2="457.7" stroke="#555" stroke-width="0.9"/>
<path d="M349.46,428.80 L353.81,428.80 L353.81,431.90 L352.77,433.90 L353.81,435.90 L353.81,440.70 L349.46,440.70 L349.46,435.90 L350.51,433.90 L349.46,431.90Z" fill="#7D4BA6" stroke="#1a1a1a" stroke-width="0.7" stroke-linejoin="round"/><line x1="350.51" y1="433.9" x2="352.77" y2="433.9" stroke="#111" stroke-width="1.4"/>
<line x1="355.99" y1="419.3" x2="355.99" y2="464" stroke="#555" stroke-width="0.9"/>
<path d="M353.81,432.30 L358.16,432.30 L358.16,435.30 L357.12,437.30 L358.16,439.30 L358.16,444.90 L353.81,444.90 L353.81,439.30 L354.86,437.30 L353.81,435.30Z" fill="#2150AC" stroke="#1a1a1a" stroke-width="0.7" stroke-linejoin="round"/><line x1="354.86" y1="437.3" x2="357.12" y2="437.3" stroke="#111" stroke-width="1.4"/>
<line x1="353.81" y1="568.6" x2="353.81" y2="571" stroke="#333" stroke-width="0.9"/>
<text transform="translate(357.11,577.20) scale(0.83,1) rotate(-50.5)" font-family="'Liberation Sans', sans-serif" font-size="9.3" fill="#222" text-anchor="end" font-weight="normal" font-style="normal" >Type_II_IFN_Reponse</text>
<text transform="translate(353.81,381.80) scale(1.0,1)" font-family="'Liberation Sans', sans-serif" font-size="7.2" fill="#000" text-anchor="middle" font-weight="bold" font-style="normal" >***</text>
<text transform="translate(367.50,460.60) scale(0.8,1)" font-family="'Liberation Serif', serif" font-size="18.0" fill="#000" text-anchor="start" font-weight="normal" font-style="normal" >E</text>
<line x1="381.5" y1="462.7" x2="489" y2="462.7" stroke="#111" stroke-width="1.4"/>
<line x1="571.5" y1="462.7" x2="679" y2="462.7" stroke="#111" stroke-width="1.4"/>
<polyline points="388.4,458.0 381.0,462.7 388.4,467.4" fill="none" stroke="#111" stroke-width="1.4"/>
<polyline points="672.2,458.0 679.6,462.7 672.2,467.4" fill="none" stroke="#111" stroke-width="1.4"/>
<text transform="translate(530.20,466.30) scale(0.875,1)" font-family="'Liberation Sans', sans-serif" font-size="10.4" fill="#111" text-anchor="middle" font-weight="bold" font-style="normal" >434 TCGA patients</text>
<rect x="381.4" y="476.2" width="55.50" height="18.7" fill="#A5C8DC"/>
<text transform="translate(409.15,488.30) scale(0.83,1)" font-family="'Liberation Sans', sans-serif" font-size="7.6" fill="#fff" text-anchor="middle" font-weight="normal" font-style="normal" >C1</text>
<rect x="436.9" y="476.2" width="94.60" height="18.7" fill="#AED48A"/>
<text transform="translate(484.20,488.30) scale(0.83,1)" font-family="'Liberation Sans', sans-serif" font-size="7.6" fill="#fff" text-anchor="middle" font-weight="normal" font-style="normal" >C2</text>
<rect x="531.5" y="476.2" width="117.80" height="18.7" fill="#F19494"/>
<text transform="translate(590.40,488.30) scale(0.83,1)" font-family="'Liberation Sans', sans-serif" font-size="7.6" fill="#fff" text-anchor="middle" font-weight="normal" font-style="normal" >C3</text>
<rect x="649.3" y="476.2" width="12.40" height="18.7" fill="#F4B76B"/>
<text transform="translate(655.50,488.30) scale(0.83,1)" font-family="'Liberation Sans', sans-serif" font-size="7.6" fill="#fff" text-anchor="middle" font-weight="normal" font-style="normal" >C4</text>
<rect x="661.7" y="476.2" width="17.00" height="18.7" fill="#C6B1D7"/>
<text transform="translate(670.20,488.30) scale(0.83,1)" font-family="'Liberation Sans', sans-serif" font-size="7.6" fill="#fff" text-anchor="middle" font-weight="normal" font-style="normal" >C6</text>
<rect x="381.4" y="476.2" width="297.3" height="18.7" fill="none" stroke="#555" stroke-width="1"/>
<rect x="381.4" y="499.6" width="10.50" height="17.5" fill="#1FA9A8"/>
<rect x="391.9" y="499.6" width="45.00" height="17.5" fill="#E06A62"/>
<rect x="436.9" y="499.6" width="45.40" height="17.5" fill="#1FA9A8"/>
<rect x="482.3" y="499.6" width="49.20" height="17.5" fill="#E06A62"/>
<rect x="531.5" y="499.6" width="83.00" height="17.5" fill="#1FA9A8"/>
<rect x="614.5" y="499.6" width="34.80" height="17.5" fill="#E06A62"/>
<rect x="649.3" y="499.6" width="5.30" height="17.5" fill="#1FA9A8"/>
<rect x="654.6" y="499.6" width="7.10" height="17.5" fill="#E06A62"/>
<rect x="661.7" y="499.6" width="9.30" height="17.5" fill="#1FA9A8"/>
<rect x="671.0" y="499.6" width="7.70" height="17.5" fill="#E06A62"/>
<rect x="381.4" y="499.6" width="297.3" height="17.5" fill="none" stroke="#555" stroke-width="1"/>
<rect x="381.5" y="522" width="297.7" height="123.1" fill="#fff" stroke="#555" stroke-width="1.1"/>
<rect x="382.2" y="522.6" width="52.4" height="52.7" fill="#3B5FA6"/>
<text transform="translate(408.40,551.90) scale(0.83,1)" font-family="'Liberation Sans', sans-serif" font-size="8.7" fill="#fff" text-anchor="middle" font-weight="bold" font-style="normal" >Risk</text>
<rect x="437.6" y="522.6" width="241.0" height="19.3" fill="#3B5FA6"/>
<text transform="translate(558.00,534.80) scale(0.83,1)" font-family="'Liberation Sans', sans-serif" font-size="8.5" fill="#fff" text-anchor="middle" font-weight="bold" font-style="normal" >subtype group (n=434)</text>
<rect x="437.60" y="544.9" width="37.9" height="30.4" fill="#A6C9DC"/>
<text transform="translate(456.55,558.60) scale(0.83,1)" font-family="'Liberation Sans', sans-serif" font-size="8.0" fill="#fff" text-anchor="middle" font-weight="normal" font-style="normal" >C1</text>
<text transform="translate(456.55,568.00) scale(0.83,1)" font-family="'Liberation Sans', sans-serif" font-size="8.0" fill="#fff" text-anchor="middle" font-weight="normal" font-style="normal" >(n=81, 19%)</text>
<rect x="478.15" y="544.9" width="37.9" height="30.4" fill="#AED48C"/>
<text transform="translate(497.10,558.60) scale(0.83,1)" font-family="'Liberation Sans', sans-serif" font-size="8.0" fill="#fff" text-anchor="middle" font-weight="normal" font-style="normal" >C2</text>
<text transform="translate(497.10,568.00) scale(0.83,1)" font-family="'Liberation Sans', sans-serif" font-size="8.0" fill="#fff" text-anchor="middle" font-weight="normal" font-style="normal" >(n=138, 32%)</text>
<rect x="518.70" y="544.9" width="37.9" height="30.4" fill="#F19494"/>
<text transform="translate(537.65,558.60) scale(0.83,1)" font-family="'Liberation Sans', sans-serif" font-size="8.0" fill="#fff" text-anchor="middle" font-weight="normal" font-style="normal" >C3</text>
<text transform="translate(537.65,568.00) scale(0.83,1)" font-family="'Liberation Sans', sans-serif" font-size="8.0" fill="#fff" text-anchor="middle" font-weight="normal" font-style="normal" >(n=172, 40%)</text>
<rect x="559.25" y="544.9" width="37.9" height="30.4" fill="#F3B46A"/>
<text transform="translate(578.20,558.60) scale(0.83,1)" font-family="'Liberation Sans', sans-serif" font-size="8.0" fill="#fff" text-anchor="middle" font-weight="normal" font-style="normal" >C4</text>
<text transform="translate(578.20,568.00) scale(0.83,1)" font-family="'Liberation Sans', sans-serif" font-size="8.0" fill="#fff" text-anchor="middle" font-weight="normal" font-style="normal" >(n=18, 4%)</text>
<rect x="599.80" y="544.9" width="37.9" height="30.4" fill="#C4ACD4"/>
<text transform="translate(618.75,558.60) scale(0.83,1)" font-family="'Liberation Sans', sans-serif" font-size="8.0" fill="#fff" text-anchor="middle" font-weight="normal" font-style="normal" >C6</text>
<text transform="translate(618.75,568.00) scale(0.83,1)" font-family="'Liberation Sans', sans-serif" font-size="8.0" fill="#fff" text-anchor="middle" font-weight="normal" font-style="normal" >(n=25, 6%)</text>
<rect x="640.35" y="544.9" width="38.35" height="30.4" fill="#ADADAD"/>
<text transform="translate(659.53,563.20) scale(0.83,1)" font-family="'Liberation Sans', sans-serif" font-size="8.0" fill="#222" text-anchor="middle" font-weight="normal" font-style="italic" >P−value</text>
<rect x="382.2" y="578.1" width="52.4" height="32.4" fill="#1FA9A8"/>
<rect x="382.2" y="612.8" width="52.4" height="31.8" fill="#E06A62"/>
<text transform="translate(408.40,593.00) scale(0.83,1)" font-family="'Liberation Sans', sans-serif" font-size="8.4" fill="#fff" text-anchor="middle" font-weight="bold" font-style="normal" >Low risk</text>
<text transform="translate(408.40,602.30) scale(0.83,1)" font-family="'Liberation Sans', sans-serif" font-size="8.4" fill="#fff" text-anchor="middle" font-weight="bold" font-style="normal" >(n=223)</text>
<text transform="translate(408.40,626.80) scale(0.83,1)" font-family="'Liberation Sans', sans-serif" font-size="8.4" fill="#fff" text-anchor="middle" font-weight="bold" font-style="normal" >High risk</text>
<text transform="translate(408.40,636.70) scale(0.83,1)" font-family="'Liberation Sans', sans-serif" font-size="8.4" fill="#fff" text-anchor="middle" font-weight="bold" font-style="normal" >(n=211)</text>
<rect x="437.60" y="578.1" width="37.9" height="32.4" fill="#E3E3E3"/>
<rect x="437.60" y="612.8" width="37.9" height="31.8" fill="#ABABAB"/>
<text transform="translate(456.55,597.20) scale(0.83,1)" font-family="'Liberation Sans', sans-serif" font-size="7.8" fill="#222" text-anchor="middle" font-weight="normal" font-style="normal" >15(7%)</text>
<text transform="translate(456.55,631.10) scale(0.83,1)" font-family="'Liberation Sans', sans-serif" font-size="7.8" fill="#222" text-anchor="middle" font-weight="normal" font-style="normal" >66(31%)</text>
<rect x="478.15" y="578.1" width="37.9" height="32.4" fill="#E3E3E3"/>
<rect x="478.15" y="612.8" width="37.9" height="31.8" fill="#ABABAB"/>
<text transform="translate(497.10,597.20) scale(0.83,1)" font-family="'Liberation Sans', sans-serif" font-size="7.8" fill="#222" text-anchor="middle" font-weight="normal" font-style="normal" >66(30%)</text>
<text transform="translate(497.10,631.10) scale(0.83,1)" font-family="'Liberation Sans', sans-serif" font-size="7.8" fill="#222" text-anchor="middle" font-weight="normal" font-style="normal" >72(34%)</text>
<rect x="518.70" y="578.1" width="37.9" height="32.4" fill="#E3E3E3"/>
<rect x="518.70" y="612.8" width="37.9" height="31.8" fill="#ABABAB"/>
<text transform="translate(537.65,597.20) scale(0.83,1)" font-family="'Liberation Sans', sans-serif" font-size="7.8" fill="#222" text-anchor="middle" font-weight="normal" font-style="normal" >121(54%)</text>
<text transform="translate(537.65,631.10) scale(0.83,1)" font-family="'Liberation Sans', sans-serif" font-size="7.8" fill="#222" text-anchor="middle" font-weight="normal" font-style="normal" >51(24%)</text>
<rect x="559.25" y="578.1" width="37.9" height="32.4" fill="#E3E3E3"/>
<rect x="559.25" y="612.8" width="37.9" height="31.8" fill="#ABABAB"/>
<text transform="translate(578.20,597.20) scale(0.83,1)" font-family="'Liberation Sans', sans-serif" font-size="7.8" fill="#222" text-anchor="middle" font-weight="normal" font-style="normal" >8(4%)</text>
<text transform="translate(578.20,631.10) scale(0.83,1)" font-family="'Liberation Sans', sans-serif" font-size="7.8" fill="#222" text-anchor="middle" font-weight="normal" font-style="normal" >10(5%)</text>
<rect x="599.80" y="578.1" width="37.9" height="32.4" fill="#E3E3E3"/>
<rect x="599.80" y="612.8" width="37.9" height="31.8" fill="#ABABAB"/>
<text transform="translate(618.75,597.20) scale(0.83,1)" font-family="'Liberation Sans', sans-serif" font-size="7.8" fill="#222" text-anchor="middle" font-weight="normal" font-style="normal" >13(6%)</text>
<text transform="translate(618.75,631.10) scale(0.83,1)" font-family="'Liberation Sans', sans-serif" font-size="7.8" fill="#222" text-anchor="middle" font-weight="normal" font-style="normal" >12(6%)</text>
<rect x="640.35" y="578.1" width="38.35" height="66.5" fill="#ADADAD"/>
<text transform="translate(659.53,614.60) scale(0.83,1)" font-family="'Liberation Sans', sans-serif" font-size="7.8" fill="#222" text-anchor="middle" font-weight="normal" font-style="normal" >0.001</text>
<rect x="483.6" y="653.3" width="3.6" height="3.9" fill="#1FA9A8"/>
<text transform="translate(493.00,658.30) scale(0.83,1)" font-family="'Liberation Sans', sans-serif" font-size="9.8" fill="#222" text-anchor="start" font-weight="normal" font-style="normal" >Risk−low</text>
<rect x="533.9" y="653.3" width="3.4" height="3.9" fill="#E06A62"/>
<text transform="translate(542.50,658.30) scale(0.83,1)" font-family="'Liberation Sans', sans-serif" font-size="9.8" fill="#222" text-anchor="start" font-weight="normal" font-style="normal" >Risk−high</text>
</svg></body></html>
